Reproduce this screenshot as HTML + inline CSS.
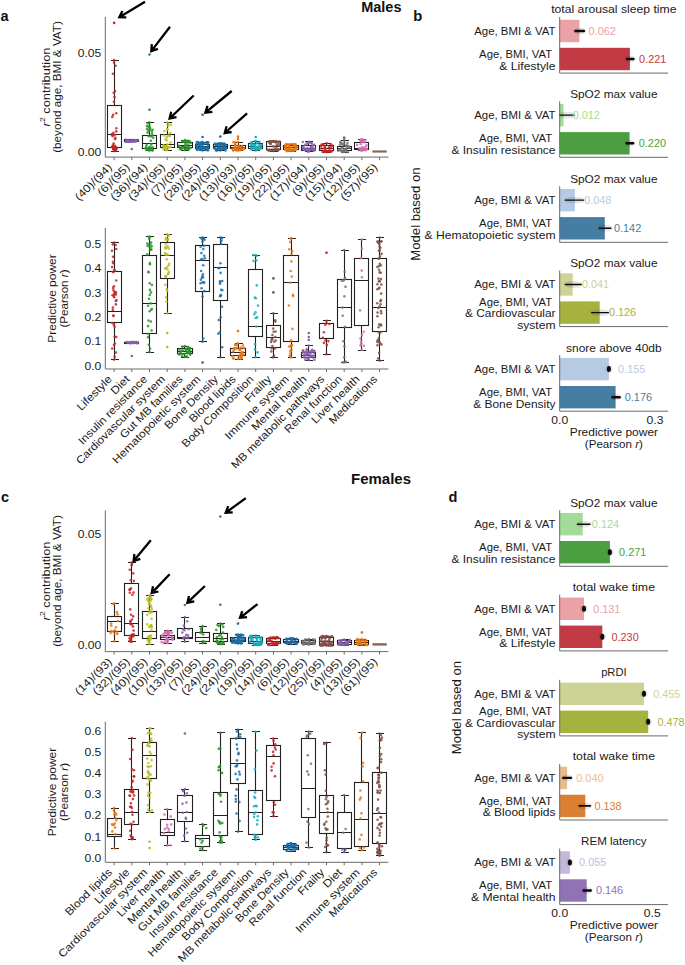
<!DOCTYPE html><html><head><meta charset="utf-8"><style>html,body{margin:0;padding:0;background:#fff;width:685px;height:965px;overflow:hidden}svg{display:block;font-family:"Liberation Sans",sans-serif}</style></head><body><svg width="685" height="965" viewBox="0 0 685 965" font-family="Liberation Sans, sans-serif" fill="#1a1a1a">
<rect width="685" height="965" fill="#fff"/>
<g font-weight="bold" fill="#111">
<text x="0.5" y="21" font-size="14.5">a</text>
<text x="361.2" y="11.8" font-size="14.2" textLength="40.3" lengthAdjust="spacingAndGlyphs">Males</text>
<text x="413.2" y="20.6" font-size="14.8">b</text>
<text x="1" y="502" font-size="14.5">c</text>
<text x="351" y="484.4" font-size="14.2" textLength="60.0" lengthAdjust="spacingAndGlyphs">Females</text>
<text x="448.6" y="501.8" font-size="14.6">d</text>
</g>
<path d="M105.3 17.0V157.1H388.4" fill="none" stroke="#6a6a6a" stroke-width="1"/>
<path d="M114.1 157.1v3" stroke="#6a6a6a" stroke-width="1"/>
<path d="M131.8 157.1v3" stroke="#6a6a6a" stroke-width="1"/>
<path d="M149.5 157.1v3" stroke="#6a6a6a" stroke-width="1"/>
<path d="M167.2 157.1v3" stroke="#6a6a6a" stroke-width="1"/>
<path d="M184.9 157.1v3" stroke="#6a6a6a" stroke-width="1"/>
<path d="M202.6 157.1v3" stroke="#6a6a6a" stroke-width="1"/>
<path d="M220.3 157.1v3" stroke="#6a6a6a" stroke-width="1"/>
<path d="M238.0 157.1v3" stroke="#6a6a6a" stroke-width="1"/>
<path d="M255.7 157.1v3" stroke="#6a6a6a" stroke-width="1"/>
<path d="M273.4 157.1v3" stroke="#6a6a6a" stroke-width="1"/>
<path d="M291.1 157.1v3" stroke="#6a6a6a" stroke-width="1"/>
<path d="M308.8 157.1v3" stroke="#6a6a6a" stroke-width="1"/>
<path d="M326.5 157.1v3" stroke="#6a6a6a" stroke-width="1"/>
<path d="M344.2 157.1v3" stroke="#6a6a6a" stroke-width="1"/>
<path d="M361.9 157.1v3" stroke="#6a6a6a" stroke-width="1"/>
<path d="M379.6 157.1v3" stroke="#6a6a6a" stroke-width="1"/>
<text x="101.30" y="155.50" font-size="10.90" text-anchor="end" textLength="23.60" lengthAdjust="spacingAndGlyphs">0.00</text>
<text x="101.30" y="57.10" font-size="10.90" text-anchor="end" textLength="23.60" lengthAdjust="spacingAndGlyphs">0.05</text>
<g fill="none" stroke="#222222" stroke-width="1.1"><rect x="107.5" y="105.5" width="14.0" height="42.0"/><path d="M107.5 134.5H121.5M114.5 105.5V60.5M111.0 60.5H119.0M114.5 147.5V151.5M111.0 151.5H119.0"/></g>
<circle cx="114.9" cy="145.7" r="1.3" fill="#c42324" fill-opacity="0.85"/><circle cx="113.5" cy="132.8" r="1.3" fill="#c42324" fill-opacity="0.85"/><circle cx="111.9" cy="134.1" r="1.3" fill="#c42324" fill-opacity="0.85"/><circle cx="112.2" cy="146.9" r="1.3" fill="#c42324" fill-opacity="0.85"/><circle cx="112.3" cy="116.9" r="1.3" fill="#c42324" fill-opacity="0.85"/><circle cx="116.3" cy="128.3" r="1.3" fill="#c42324" fill-opacity="0.85"/><circle cx="116.4" cy="148.8" r="1.3" fill="#c42324" fill-opacity="0.85"/><circle cx="113.1" cy="114.9" r="1.3" fill="#c42324" fill-opacity="0.85"/><circle cx="113.2" cy="146.3" r="1.3" fill="#c42324" fill-opacity="0.85"/><circle cx="114.5" cy="97.1" r="1.3" fill="#c42324" fill-opacity="0.85"/><circle cx="114.4" cy="148.7" r="1.3" fill="#c42324" fill-opacity="0.85"/><circle cx="112.7" cy="147.1" r="1.3" fill="#c42324" fill-opacity="0.85"/><circle cx="113.3" cy="148.9" r="1.3" fill="#c42324" fill-opacity="0.85"/><circle cx="113.2" cy="149.0" r="1.3" fill="#c42324" fill-opacity="0.85"/><circle cx="112.9" cy="73.7" r="1.3" fill="#c42324" fill-opacity="0.85"/><circle cx="115.9" cy="149.3" r="1.3" fill="#c42324" fill-opacity="0.85"/><circle cx="116.5" cy="148.4" r="1.3" fill="#c42324" fill-opacity="0.85"/><circle cx="115.4" cy="137.8" r="1.3" fill="#c42324" fill-opacity="0.85"/><circle cx="111.9" cy="134.9" r="1.3" fill="#c42324" fill-opacity="0.85"/><circle cx="114.5" cy="150.2" r="1.3" fill="#c42324" fill-opacity="0.85"/><circle cx="115.1" cy="91.1" r="1.3" fill="#c42324" fill-opacity="0.85"/><circle cx="113.9" cy="149.5" r="1.3" fill="#c42324" fill-opacity="0.85"/><circle cx="114.0" cy="62.6" r="1.3" fill="#c42324" fill-opacity="0.85"/><circle cx="115.1" cy="147.6" r="1.3" fill="#c42324" fill-opacity="0.85"/><circle cx="115.7" cy="151.0" r="1.3" fill="#c42324" fill-opacity="0.85"/><circle cx="115.0" cy="139.1" r="1.3" fill="#c42324" fill-opacity="0.85"/><circle cx="112.6" cy="136.1" r="1.3" fill="#c42324" fill-opacity="0.85"/><circle cx="115.4" cy="147.1" r="1.3" fill="#c42324" fill-opacity="0.85"/><circle cx="113.6" cy="143.5" r="1.3" fill="#c42324" fill-opacity="0.85"/><circle cx="113.9" cy="101.7" r="1.3" fill="#c42324" fill-opacity="0.85"/><circle cx="115.7" cy="150.6" r="1.3" fill="#c42324" fill-opacity="0.85"/><circle cx="113.7" cy="92.7" r="1.3" fill="#c42324" fill-opacity="0.85"/><circle cx="116.3" cy="113.2" r="1.3" fill="#c42324" fill-opacity="0.85"/><circle cx="112.9" cy="145.2" r="1.3" fill="#c42324" fill-opacity="0.85"/><circle cx="114.6" cy="135.1" r="1.3" fill="#c42324" fill-opacity="0.85"/><circle cx="113.8" cy="147.4" r="1.3" fill="#c42324" fill-opacity="0.85"/><circle cx="116.3" cy="131.4" r="1.3" fill="#c42324" fill-opacity="0.85"/><circle cx="114.7" cy="149.3" r="1.3" fill="#c42324" fill-opacity="0.85"/><circle cx="116.1" cy="147.6" r="1.3" fill="#c42324" fill-opacity="0.85"/><circle cx="115.6" cy="65.8" r="1.3" fill="#c42324" fill-opacity="0.85"/><circle cx="114.1" cy="60.1" r="1.3" fill="#c42324" fill-opacity="0.85"/><circle cx="114.1" cy="151.0" r="1.3" fill="#c42324" fill-opacity="0.85"/>
<circle cx="114.1" cy="22.9" r="1.3" fill="#c42324"/>
<g fill="none" stroke="#222222" stroke-width="1.1"><rect x="124.5" y="139.5" width="14.0" height="2.0"/><path d="M124.5 140.5H138.5M131.5 139.5V140.5M128.0 140.5H136.0M131.5 141.5V141.5M128.0 141.5H136.0"/></g>
<circle cx="127.1" cy="141.4" r="1.3" fill="#885ead" fill-opacity="0.85"/><circle cx="126.6" cy="141.8" r="1.3" fill="#885ead" fill-opacity="0.85"/><circle cx="129.9" cy="141.7" r="1.3" fill="#885ead" fill-opacity="0.85"/><circle cx="127.7" cy="141.8" r="1.3" fill="#885ead" fill-opacity="0.85"/><circle cx="126.1" cy="141.4" r="1.3" fill="#885ead" fill-opacity="0.85"/><circle cx="127.6" cy="140.2" r="1.3" fill="#885ead" fill-opacity="0.85"/><circle cx="130.2" cy="141.5" r="1.3" fill="#885ead" fill-opacity="0.85"/><circle cx="137.8" cy="140.3" r="1.3" fill="#885ead" fill-opacity="0.85"/><circle cx="126.9" cy="141.2" r="1.3" fill="#885ead" fill-opacity="0.85"/><circle cx="129.0" cy="141.5" r="1.3" fill="#885ead" fill-opacity="0.85"/><circle cx="126.1" cy="139.9" r="1.3" fill="#885ead" fill-opacity="0.85"/><circle cx="127.6" cy="140.2" r="1.3" fill="#885ead" fill-opacity="0.85"/><circle cx="132.2" cy="141.8" r="1.3" fill="#885ead" fill-opacity="0.85"/><circle cx="134.2" cy="140.4" r="1.3" fill="#885ead" fill-opacity="0.85"/><circle cx="127.8" cy="141.4" r="1.3" fill="#885ead" fill-opacity="0.85"/><circle cx="135.2" cy="140.2" r="1.3" fill="#885ead" fill-opacity="0.85"/><circle cx="135.6" cy="141.6" r="1.3" fill="#885ead" fill-opacity="0.85"/><circle cx="135.5" cy="140.4" r="1.3" fill="#885ead" fill-opacity="0.85"/><circle cx="128.6" cy="140.3" r="1.3" fill="#885ead" fill-opacity="0.85"/><circle cx="126.2" cy="141.7" r="1.3" fill="#885ead" fill-opacity="0.85"/><circle cx="129.0" cy="141.6" r="1.3" fill="#885ead" fill-opacity="0.85"/><circle cx="131.2" cy="141.5" r="1.3" fill="#885ead" fill-opacity="0.85"/><circle cx="137.3" cy="140.5" r="1.3" fill="#885ead" fill-opacity="0.85"/><circle cx="128.6" cy="141.6" r="1.3" fill="#885ead" fill-opacity="0.85"/><circle cx="133.3" cy="141.7" r="1.3" fill="#885ead" fill-opacity="0.85"/><circle cx="131.6" cy="140.4" r="1.3" fill="#885ead" fill-opacity="0.85"/><circle cx="126.9" cy="141.6" r="1.3" fill="#885ead" fill-opacity="0.85"/><circle cx="135.2" cy="141.5" r="1.3" fill="#885ead" fill-opacity="0.85"/><circle cx="131.8" cy="140.5" r="1.3" fill="#885ead" fill-opacity="0.85"/><circle cx="131.8" cy="141.5" r="1.3" fill="#885ead" fill-opacity="0.85"/>
<circle cx="131.8" cy="149.0" r="1.3" fill="#885ead"/>
<g fill="none" stroke="#222222" stroke-width="1.1"><rect x="142.5" y="135.5" width="14.0" height="13.0"/><path d="M142.5 143.5H156.5M149.5 135.5V122.5M146.0 122.5H154.0M149.5 148.5V150.5M146.0 150.5H154.0"/></g>
<circle cx="147.0" cy="129.1" r="1.3" fill="#289328" fill-opacity="0.85"/><circle cx="151.9" cy="131.0" r="1.3" fill="#289328" fill-opacity="0.85"/><circle cx="148.7" cy="130.2" r="1.3" fill="#289328" fill-opacity="0.85"/><circle cx="146.9" cy="126.0" r="1.3" fill="#289328" fill-opacity="0.85"/><circle cx="152.8" cy="147.5" r="1.3" fill="#289328" fill-opacity="0.85"/><circle cx="152.1" cy="133.4" r="1.3" fill="#289328" fill-opacity="0.85"/><circle cx="148.3" cy="126.8" r="1.3" fill="#289328" fill-opacity="0.85"/><circle cx="145.6" cy="148.3" r="1.3" fill="#289328" fill-opacity="0.85"/><circle cx="149.7" cy="126.9" r="1.3" fill="#289328" fill-opacity="0.85"/><circle cx="152.5" cy="129.7" r="1.3" fill="#289328" fill-opacity="0.85"/><circle cx="147.5" cy="132.6" r="1.3" fill="#289328" fill-opacity="0.85"/><circle cx="150.2" cy="146.9" r="1.3" fill="#289328" fill-opacity="0.85"/><circle cx="146.6" cy="145.1" r="1.3" fill="#289328" fill-opacity="0.85"/><circle cx="149.2" cy="130.7" r="1.3" fill="#289328" fill-opacity="0.85"/><circle cx="148.9" cy="150.3" r="1.3" fill="#289328" fill-opacity="0.85"/><circle cx="149.8" cy="128.8" r="1.3" fill="#289328" fill-opacity="0.85"/><circle cx="149.1" cy="148.0" r="1.3" fill="#289328" fill-opacity="0.85"/><circle cx="151.9" cy="148.0" r="1.3" fill="#289328" fill-opacity="0.85"/><circle cx="151.3" cy="144.4" r="1.3" fill="#289328" fill-opacity="0.85"/><circle cx="149.7" cy="148.8" r="1.3" fill="#289328" fill-opacity="0.85"/><circle cx="146.4" cy="150.0" r="1.3" fill="#289328" fill-opacity="0.85"/><circle cx="147.7" cy="148.6" r="1.3" fill="#289328" fill-opacity="0.85"/><circle cx="150.0" cy="128.8" r="1.3" fill="#289328" fill-opacity="0.85"/><circle cx="149.1" cy="123.5" r="1.3" fill="#289328" fill-opacity="0.85"/><circle cx="149.6" cy="149.3" r="1.3" fill="#289328" fill-opacity="0.85"/><circle cx="149.8" cy="149.1" r="1.3" fill="#289328" fill-opacity="0.85"/><circle cx="151.1" cy="136.5" r="1.3" fill="#289328" fill-opacity="0.85"/><circle cx="147.6" cy="123.1" r="1.3" fill="#289328" fill-opacity="0.85"/><circle cx="152.3" cy="150.4" r="1.3" fill="#289328" fill-opacity="0.85"/><circle cx="149.1" cy="147.6" r="1.3" fill="#289328" fill-opacity="0.85"/><circle cx="146.1" cy="146.9" r="1.3" fill="#289328" fill-opacity="0.85"/><circle cx="152.7" cy="150.0" r="1.3" fill="#289328" fill-opacity="0.85"/><circle cx="150.8" cy="140.8" r="1.3" fill="#289328" fill-opacity="0.85"/><circle cx="153.3" cy="137.7" r="1.3" fill="#289328" fill-opacity="0.85"/><circle cx="148.7" cy="136.3" r="1.3" fill="#289328" fill-opacity="0.85"/><circle cx="152.2" cy="135.5" r="1.3" fill="#289328" fill-opacity="0.85"/><circle cx="149.5" cy="122.4" r="1.3" fill="#289328" fill-opacity="0.85"/><circle cx="149.5" cy="150.5" r="1.3" fill="#289328" fill-opacity="0.85"/>
<circle cx="149.5" cy="109.7" r="1.3" fill="#289328"/>
<circle cx="149.5" cy="54.5" r="1.3" fill="#289328"/>
<g fill="none" stroke="#222222" stroke-width="1.1"><rect x="160.5" y="134.5" width="14.0" height="13.0"/><path d="M160.5 144.5H174.5M167.5 134.5V122.5M164.0 122.5H172.0M167.5 147.5V150.5M164.0 150.5H172.0"/></g>
<circle cx="167.4" cy="144.2" r="1.3" fill="#bcbd22" fill-opacity="0.85"/><circle cx="165.8" cy="146.6" r="1.3" fill="#bcbd22" fill-opacity="0.85"/><circle cx="167.7" cy="147.5" r="1.3" fill="#bcbd22" fill-opacity="0.85"/><circle cx="165.9" cy="147.4" r="1.3" fill="#bcbd22" fill-opacity="0.85"/><circle cx="163.7" cy="148.7" r="1.3" fill="#bcbd22" fill-opacity="0.85"/><circle cx="171.0" cy="124.7" r="1.3" fill="#bcbd22" fill-opacity="0.85"/><circle cx="163.5" cy="146.0" r="1.3" fill="#bcbd22" fill-opacity="0.85"/><circle cx="164.3" cy="131.0" r="1.3" fill="#bcbd22" fill-opacity="0.85"/><circle cx="169.8" cy="136.1" r="1.3" fill="#bcbd22" fill-opacity="0.85"/><circle cx="170.6" cy="146.9" r="1.3" fill="#bcbd22" fill-opacity="0.85"/><circle cx="163.9" cy="149.2" r="1.3" fill="#bcbd22" fill-opacity="0.85"/><circle cx="166.6" cy="140.4" r="1.3" fill="#bcbd22" fill-opacity="0.85"/><circle cx="168.3" cy="135.6" r="1.3" fill="#bcbd22" fill-opacity="0.85"/><circle cx="170.1" cy="133.2" r="1.3" fill="#bcbd22" fill-opacity="0.85"/><circle cx="166.9" cy="137.1" r="1.3" fill="#bcbd22" fill-opacity="0.85"/><circle cx="170.6" cy="142.6" r="1.3" fill="#bcbd22" fill-opacity="0.85"/><circle cx="167.4" cy="147.0" r="1.3" fill="#bcbd22" fill-opacity="0.85"/><circle cx="164.5" cy="147.1" r="1.3" fill="#bcbd22" fill-opacity="0.85"/><circle cx="165.7" cy="146.5" r="1.3" fill="#bcbd22" fill-opacity="0.85"/><circle cx="165.5" cy="139.1" r="1.3" fill="#bcbd22" fill-opacity="0.85"/><circle cx="166.0" cy="147.9" r="1.3" fill="#bcbd22" fill-opacity="0.85"/><circle cx="163.4" cy="146.1" r="1.3" fill="#bcbd22" fill-opacity="0.85"/><circle cx="164.7" cy="148.8" r="1.3" fill="#bcbd22" fill-opacity="0.85"/><circle cx="164.1" cy="135.6" r="1.3" fill="#bcbd22" fill-opacity="0.85"/><circle cx="167.2" cy="129.0" r="1.3" fill="#bcbd22" fill-opacity="0.85"/><circle cx="167.3" cy="129.5" r="1.3" fill="#bcbd22" fill-opacity="0.85"/><circle cx="166.0" cy="150.0" r="1.3" fill="#bcbd22" fill-opacity="0.85"/><circle cx="168.3" cy="125.7" r="1.3" fill="#bcbd22" fill-opacity="0.85"/><circle cx="163.7" cy="145.2" r="1.3" fill="#bcbd22" fill-opacity="0.85"/><circle cx="169.2" cy="147.3" r="1.3" fill="#bcbd22" fill-opacity="0.85"/><circle cx="163.9" cy="146.8" r="1.3" fill="#bcbd22" fill-opacity="0.85"/><circle cx="168.6" cy="123.8" r="1.3" fill="#bcbd22" fill-opacity="0.85"/><circle cx="165.6" cy="146.2" r="1.3" fill="#bcbd22" fill-opacity="0.85"/><circle cx="166.8" cy="146.8" r="1.3" fill="#bcbd22" fill-opacity="0.85"/><circle cx="167.2" cy="122.2" r="1.3" fill="#bcbd22" fill-opacity="0.85"/><circle cx="167.2" cy="150.0" r="1.3" fill="#bcbd22" fill-opacity="0.85"/>
<g fill="none" stroke="#222222" stroke-width="1.1"><rect x="177.5" y="142.5" width="15.0" height="5.0"/><path d="M177.5 145.5H192.5M184.5 142.5V140.5M181.0 140.5H189.0M184.5 147.5V150.5M181.0 150.5H189.0"/></g>
<circle cx="190.6" cy="142.9" r="1.3" fill="#289328" fill-opacity="0.85"/><circle cx="190.5" cy="148.0" r="1.3" fill="#289328" fill-opacity="0.85"/><circle cx="178.9" cy="146.6" r="1.3" fill="#289328" fill-opacity="0.85"/><circle cx="185.0" cy="146.0" r="1.3" fill="#289328" fill-opacity="0.85"/><circle cx="179.0" cy="145.9" r="1.3" fill="#289328" fill-opacity="0.85"/><circle cx="183.7" cy="147.3" r="1.3" fill="#289328" fill-opacity="0.85"/><circle cx="182.6" cy="147.4" r="1.3" fill="#289328" fill-opacity="0.85"/><circle cx="185.3" cy="145.5" r="1.3" fill="#289328" fill-opacity="0.85"/><circle cx="187.5" cy="140.9" r="1.3" fill="#289328" fill-opacity="0.85"/><circle cx="182.8" cy="141.6" r="1.3" fill="#289328" fill-opacity="0.85"/><circle cx="187.6" cy="142.2" r="1.3" fill="#289328" fill-opacity="0.85"/><circle cx="188.9" cy="147.5" r="1.3" fill="#289328" fill-opacity="0.85"/><circle cx="187.7" cy="141.0" r="1.3" fill="#289328" fill-opacity="0.85"/><circle cx="185.2" cy="142.2" r="1.3" fill="#289328" fill-opacity="0.85"/><circle cx="188.6" cy="149.6" r="1.3" fill="#289328" fill-opacity="0.85"/><circle cx="189.6" cy="141.1" r="1.3" fill="#289328" fill-opacity="0.85"/><circle cx="181.7" cy="149.2" r="1.3" fill="#289328" fill-opacity="0.85"/><circle cx="183.3" cy="147.2" r="1.3" fill="#289328" fill-opacity="0.85"/><circle cx="185.6" cy="143.9" r="1.3" fill="#289328" fill-opacity="0.85"/><circle cx="187.1" cy="149.0" r="1.3" fill="#289328" fill-opacity="0.85"/><circle cx="188.5" cy="147.4" r="1.3" fill="#289328" fill-opacity="0.85"/><circle cx="185.3" cy="148.7" r="1.3" fill="#289328" fill-opacity="0.85"/><circle cx="187.8" cy="147.6" r="1.3" fill="#289328" fill-opacity="0.85"/><circle cx="182.1" cy="147.3" r="1.3" fill="#289328" fill-opacity="0.85"/><circle cx="187.8" cy="147.9" r="1.3" fill="#289328" fill-opacity="0.85"/><circle cx="183.5" cy="141.3" r="1.3" fill="#289328" fill-opacity="0.85"/><circle cx="188.1" cy="144.9" r="1.3" fill="#289328" fill-opacity="0.85"/><circle cx="179.9" cy="149.1" r="1.3" fill="#289328" fill-opacity="0.85"/><circle cx="184.9" cy="140.0" r="1.3" fill="#289328" fill-opacity="0.85"/><circle cx="184.9" cy="150.0" r="1.3" fill="#289328" fill-opacity="0.85"/>
<g fill="none" stroke="#222222" stroke-width="1.1"><rect x="195.5" y="144.5" width="14.0" height="4.0"/><path d="M195.5 146.5H209.5M202.5 144.5V142.5M199.0 142.5H207.0M202.5 148.5V150.5M199.0 150.5H207.0"/></g>
<circle cx="205.5" cy="148.3" r="1.3" fill="#1c6da5" fill-opacity="0.85"/><circle cx="196.8" cy="147.0" r="1.3" fill="#1c6da5" fill-opacity="0.85"/><circle cx="204.7" cy="148.2" r="1.3" fill="#1c6da5" fill-opacity="0.85"/><circle cx="200.1" cy="149.9" r="1.3" fill="#1c6da5" fill-opacity="0.85"/><circle cx="202.2" cy="149.5" r="1.3" fill="#1c6da5" fill-opacity="0.85"/><circle cx="199.0" cy="145.1" r="1.3" fill="#1c6da5" fill-opacity="0.85"/><circle cx="196.8" cy="142.1" r="1.3" fill="#1c6da5" fill-opacity="0.85"/><circle cx="208.2" cy="145.6" r="1.3" fill="#1c6da5" fill-opacity="0.85"/><circle cx="199.1" cy="148.2" r="1.3" fill="#1c6da5" fill-opacity="0.85"/><circle cx="203.6" cy="143.8" r="1.3" fill="#1c6da5" fill-opacity="0.85"/><circle cx="208.0" cy="147.2" r="1.3" fill="#1c6da5" fill-opacity="0.85"/><circle cx="202.7" cy="145.6" r="1.3" fill="#1c6da5" fill-opacity="0.85"/><circle cx="199.4" cy="142.7" r="1.3" fill="#1c6da5" fill-opacity="0.85"/><circle cx="196.9" cy="143.2" r="1.3" fill="#1c6da5" fill-opacity="0.85"/><circle cx="202.0" cy="147.4" r="1.3" fill="#1c6da5" fill-opacity="0.85"/><circle cx="200.7" cy="148.5" r="1.3" fill="#1c6da5" fill-opacity="0.85"/><circle cx="196.6" cy="145.4" r="1.3" fill="#1c6da5" fill-opacity="0.85"/><circle cx="198.1" cy="142.4" r="1.3" fill="#1c6da5" fill-opacity="0.85"/><circle cx="207.4" cy="142.7" r="1.3" fill="#1c6da5" fill-opacity="0.85"/><circle cx="201.3" cy="147.9" r="1.3" fill="#1c6da5" fill-opacity="0.85"/><circle cx="200.9" cy="142.9" r="1.3" fill="#1c6da5" fill-opacity="0.85"/><circle cx="197.2" cy="148.2" r="1.3" fill="#1c6da5" fill-opacity="0.85"/><circle cx="200.0" cy="145.5" r="1.3" fill="#1c6da5" fill-opacity="0.85"/><circle cx="199.8" cy="143.7" r="1.3" fill="#1c6da5" fill-opacity="0.85"/><circle cx="201.1" cy="149.0" r="1.3" fill="#1c6da5" fill-opacity="0.85"/><circle cx="206.4" cy="142.3" r="1.3" fill="#1c6da5" fill-opacity="0.85"/><circle cx="207.9" cy="150.3" r="1.3" fill="#1c6da5" fill-opacity="0.85"/><circle cx="197.2" cy="150.0" r="1.3" fill="#1c6da5" fill-opacity="0.85"/><circle cx="205.6" cy="149.5" r="1.3" fill="#1c6da5" fill-opacity="0.85"/><circle cx="197.2" cy="149.2" r="1.3" fill="#1c6da5" fill-opacity="0.85"/><circle cx="202.3" cy="144.0" r="1.3" fill="#1c6da5" fill-opacity="0.85"/><circle cx="205.5" cy="148.1" r="1.3" fill="#1c6da5" fill-opacity="0.85"/><circle cx="204.5" cy="143.7" r="1.3" fill="#1c6da5" fill-opacity="0.85"/><circle cx="201.3" cy="147.1" r="1.3" fill="#1c6da5" fill-opacity="0.85"/><circle cx="199.1" cy="148.5" r="1.3" fill="#1c6da5" fill-opacity="0.85"/><circle cx="199.3" cy="143.2" r="1.3" fill="#1c6da5" fill-opacity="0.85"/><circle cx="202.0" cy="142.0" r="1.3" fill="#1c6da5" fill-opacity="0.85"/><circle cx="197.7" cy="148.4" r="1.3" fill="#1c6da5" fill-opacity="0.85"/><circle cx="199.5" cy="148.6" r="1.3" fill="#1c6da5" fill-opacity="0.85"/><circle cx="207.3" cy="147.0" r="1.3" fill="#1c6da5" fill-opacity="0.85"/><circle cx="201.6" cy="149.4" r="1.3" fill="#1c6da5" fill-opacity="0.85"/><circle cx="200.7" cy="149.4" r="1.3" fill="#1c6da5" fill-opacity="0.85"/><circle cx="208.2" cy="148.2" r="1.3" fill="#1c6da5" fill-opacity="0.85"/><circle cx="204.2" cy="147.3" r="1.3" fill="#1c6da5" fill-opacity="0.85"/><circle cx="199.9" cy="143.8" r="1.3" fill="#1c6da5" fill-opacity="0.85"/><circle cx="202.0" cy="147.8" r="1.3" fill="#1c6da5" fill-opacity="0.85"/><circle cx="207.1" cy="142.3" r="1.3" fill="#1c6da5" fill-opacity="0.85"/><circle cx="205.1" cy="148.7" r="1.3" fill="#1c6da5" fill-opacity="0.85"/><circle cx="203.7" cy="143.2" r="1.3" fill="#1c6da5" fill-opacity="0.85"/><circle cx="207.7" cy="147.8" r="1.3" fill="#1c6da5" fill-opacity="0.85"/><circle cx="208.3" cy="142.3" r="1.3" fill="#1c6da5" fill-opacity="0.85"/><circle cx="198.5" cy="148.6" r="1.3" fill="#1c6da5" fill-opacity="0.85"/><circle cx="207.9" cy="149.9" r="1.3" fill="#1c6da5" fill-opacity="0.85"/><circle cx="205.8" cy="149.9" r="1.3" fill="#1c6da5" fill-opacity="0.85"/><circle cx="197.1" cy="147.1" r="1.3" fill="#1c6da5" fill-opacity="0.85"/><circle cx="207.7" cy="143.8" r="1.3" fill="#1c6da5" fill-opacity="0.85"/><circle cx="202.6" cy="142.0" r="1.3" fill="#1c6da5" fill-opacity="0.85"/><circle cx="202.6" cy="150.5" r="1.3" fill="#1c6da5" fill-opacity="0.85"/>
<circle cx="202.6" cy="137.0" r="1.3" fill="#1c6da5"/>
<circle cx="202.6" cy="114.7" r="1.3" fill="#1c6da5"/>
<g fill="none" stroke="#222222" stroke-width="1.1"><rect x="213.5" y="144.5" width="14.0" height="4.0"/><path d="M213.5 146.5H227.5M220.5 144.5V143.5M217.0 143.5H225.0M220.5 148.5V150.5M217.0 150.5H225.0"/></g>
<circle cx="215.8" cy="149.1" r="1.3" fill="#1c6da5" fill-opacity="0.85"/><circle cx="222.7" cy="146.6" r="1.3" fill="#1c6da5" fill-opacity="0.85"/><circle cx="220.6" cy="148.5" r="1.3" fill="#1c6da5" fill-opacity="0.85"/><circle cx="217.0" cy="149.3" r="1.3" fill="#1c6da5" fill-opacity="0.85"/><circle cx="217.9" cy="148.5" r="1.3" fill="#1c6da5" fill-opacity="0.85"/><circle cx="222.0" cy="144.8" r="1.3" fill="#1c6da5" fill-opacity="0.85"/><circle cx="217.1" cy="143.9" r="1.3" fill="#1c6da5" fill-opacity="0.85"/><circle cx="222.8" cy="144.8" r="1.3" fill="#1c6da5" fill-opacity="0.85"/><circle cx="220.3" cy="148.5" r="1.3" fill="#1c6da5" fill-opacity="0.85"/><circle cx="217.4" cy="149.3" r="1.3" fill="#1c6da5" fill-opacity="0.85"/><circle cx="217.0" cy="150.4" r="1.3" fill="#1c6da5" fill-opacity="0.85"/><circle cx="219.4" cy="147.9" r="1.3" fill="#1c6da5" fill-opacity="0.85"/><circle cx="223.9" cy="148.9" r="1.3" fill="#1c6da5" fill-opacity="0.85"/><circle cx="216.8" cy="149.5" r="1.3" fill="#1c6da5" fill-opacity="0.85"/><circle cx="224.1" cy="144.1" r="1.3" fill="#1c6da5" fill-opacity="0.85"/><circle cx="223.4" cy="148.2" r="1.3" fill="#1c6da5" fill-opacity="0.85"/><circle cx="220.3" cy="144.8" r="1.3" fill="#1c6da5" fill-opacity="0.85"/><circle cx="219.3" cy="148.2" r="1.3" fill="#1c6da5" fill-opacity="0.85"/><circle cx="216.1" cy="150.4" r="1.3" fill="#1c6da5" fill-opacity="0.85"/><circle cx="226.0" cy="148.2" r="1.3" fill="#1c6da5" fill-opacity="0.85"/><circle cx="215.0" cy="148.5" r="1.3" fill="#1c6da5" fill-opacity="0.85"/><circle cx="224.9" cy="145.2" r="1.3" fill="#1c6da5" fill-opacity="0.85"/><circle cx="225.5" cy="150.5" r="1.3" fill="#1c6da5" fill-opacity="0.85"/><circle cx="225.5" cy="148.3" r="1.3" fill="#1c6da5" fill-opacity="0.85"/><circle cx="222.3" cy="148.6" r="1.3" fill="#1c6da5" fill-opacity="0.85"/><circle cx="218.3" cy="147.7" r="1.3" fill="#1c6da5" fill-opacity="0.85"/><circle cx="217.7" cy="148.5" r="1.3" fill="#1c6da5" fill-opacity="0.85"/><circle cx="215.8" cy="144.8" r="1.3" fill="#1c6da5" fill-opacity="0.85"/><circle cx="218.6" cy="144.2" r="1.3" fill="#1c6da5" fill-opacity="0.85"/><circle cx="219.5" cy="143.4" r="1.3" fill="#1c6da5" fill-opacity="0.85"/><circle cx="218.8" cy="147.4" r="1.3" fill="#1c6da5" fill-opacity="0.85"/><circle cx="218.7" cy="144.2" r="1.3" fill="#1c6da5" fill-opacity="0.85"/><circle cx="219.2" cy="144.5" r="1.3" fill="#1c6da5" fill-opacity="0.85"/><circle cx="214.8" cy="143.5" r="1.3" fill="#1c6da5" fill-opacity="0.85"/><circle cx="225.4" cy="148.5" r="1.3" fill="#1c6da5" fill-opacity="0.85"/><circle cx="225.1" cy="146.1" r="1.3" fill="#1c6da5" fill-opacity="0.85"/><circle cx="225.8" cy="148.1" r="1.3" fill="#1c6da5" fill-opacity="0.85"/><circle cx="222.9" cy="149.0" r="1.3" fill="#1c6da5" fill-opacity="0.85"/><circle cx="214.4" cy="148.1" r="1.3" fill="#1c6da5" fill-opacity="0.85"/><circle cx="221.9" cy="143.3" r="1.3" fill="#1c6da5" fill-opacity="0.85"/><circle cx="217.1" cy="144.5" r="1.3" fill="#1c6da5" fill-opacity="0.85"/><circle cx="225.8" cy="144.8" r="1.3" fill="#1c6da5" fill-opacity="0.85"/><circle cx="219.5" cy="148.1" r="1.3" fill="#1c6da5" fill-opacity="0.85"/><circle cx="216.5" cy="145.0" r="1.3" fill="#1c6da5" fill-opacity="0.85"/><circle cx="224.2" cy="143.5" r="1.3" fill="#1c6da5" fill-opacity="0.85"/><circle cx="218.2" cy="143.7" r="1.3" fill="#1c6da5" fill-opacity="0.85"/><circle cx="223.7" cy="147.8" r="1.3" fill="#1c6da5" fill-opacity="0.85"/><circle cx="223.3" cy="148.2" r="1.3" fill="#1c6da5" fill-opacity="0.85"/><circle cx="220.3" cy="143.2" r="1.3" fill="#1c6da5" fill-opacity="0.85"/><circle cx="220.3" cy="150.5" r="1.3" fill="#1c6da5" fill-opacity="0.85"/>
<circle cx="220.3" cy="136.6" r="1.3" fill="#1c6da5"/>
<g fill="none" stroke="#222222" stroke-width="1.1"><rect x="230.5" y="145.5" width="15.0" height="3.0"/><path d="M230.5 147.5H245.5M238.5 145.5V142.5M235.0 142.5H243.0M238.5 148.5V150.5M235.0 150.5H243.0"/></g>
<circle cx="232.4" cy="148.7" r="1.3" fill="#ea740c" fill-opacity="0.85"/><circle cx="243.8" cy="149.3" r="1.3" fill="#ea740c" fill-opacity="0.85"/><circle cx="235.2" cy="142.0" r="1.3" fill="#ea740c" fill-opacity="0.85"/><circle cx="238.0" cy="148.6" r="1.3" fill="#ea740c" fill-opacity="0.85"/><circle cx="234.8" cy="149.5" r="1.3" fill="#ea740c" fill-opacity="0.85"/><circle cx="240.1" cy="147.1" r="1.3" fill="#ea740c" fill-opacity="0.85"/><circle cx="240.0" cy="150.2" r="1.3" fill="#ea740c" fill-opacity="0.85"/><circle cx="235.5" cy="146.1" r="1.3" fill="#ea740c" fill-opacity="0.85"/><circle cx="240.9" cy="149.4" r="1.3" fill="#ea740c" fill-opacity="0.85"/><circle cx="234.9" cy="148.4" r="1.3" fill="#ea740c" fill-opacity="0.85"/><circle cx="238.9" cy="145.9" r="1.3" fill="#ea740c" fill-opacity="0.85"/><circle cx="243.9" cy="148.0" r="1.3" fill="#ea740c" fill-opacity="0.85"/><circle cx="241.7" cy="149.1" r="1.3" fill="#ea740c" fill-opacity="0.85"/><circle cx="233.2" cy="150.5" r="1.3" fill="#ea740c" fill-opacity="0.85"/><circle cx="242.1" cy="146.2" r="1.3" fill="#ea740c" fill-opacity="0.85"/><circle cx="235.5" cy="145.1" r="1.3" fill="#ea740c" fill-opacity="0.85"/><circle cx="243.7" cy="148.5" r="1.3" fill="#ea740c" fill-opacity="0.85"/><circle cx="236.5" cy="150.4" r="1.3" fill="#ea740c" fill-opacity="0.85"/><circle cx="235.1" cy="143.8" r="1.3" fill="#ea740c" fill-opacity="0.85"/><circle cx="233.3" cy="142.2" r="1.3" fill="#ea740c" fill-opacity="0.85"/><circle cx="234.6" cy="149.8" r="1.3" fill="#ea740c" fill-opacity="0.85"/><circle cx="234.5" cy="148.6" r="1.3" fill="#ea740c" fill-opacity="0.85"/><circle cx="239.8" cy="147.2" r="1.3" fill="#ea740c" fill-opacity="0.85"/><circle cx="235.9" cy="148.7" r="1.3" fill="#ea740c" fill-opacity="0.85"/><circle cx="235.7" cy="149.0" r="1.3" fill="#ea740c" fill-opacity="0.85"/><circle cx="238.6" cy="146.3" r="1.3" fill="#ea740c" fill-opacity="0.85"/><circle cx="236.7" cy="148.6" r="1.3" fill="#ea740c" fill-opacity="0.85"/><circle cx="233.1" cy="149.9" r="1.3" fill="#ea740c" fill-opacity="0.85"/><circle cx="238.0" cy="142.0" r="1.3" fill="#ea740c" fill-opacity="0.85"/><circle cx="238.0" cy="150.5" r="1.3" fill="#ea740c" fill-opacity="0.85"/>
<circle cx="238.0" cy="136.6" r="1.3" fill="#ea740c"/>
<circle cx="238.0" cy="139.0" r="1.3" fill="#ea740c"/>
<g fill="none" stroke="#222222" stroke-width="1.1"><rect x="248.5" y="143.5" width="14.0" height="5.0"/><path d="M248.5 146.5H262.5M255.5 143.5V141.5M252.0 141.5H260.0M255.5 148.5V150.5M252.0 150.5H260.0"/></g>
<circle cx="254.6" cy="146.0" r="1.3" fill="#15aebe" fill-opacity="0.85"/><circle cx="261.1" cy="148.1" r="1.3" fill="#15aebe" fill-opacity="0.85"/><circle cx="254.0" cy="146.8" r="1.3" fill="#15aebe" fill-opacity="0.85"/><circle cx="261.7" cy="144.7" r="1.3" fill="#15aebe" fill-opacity="0.85"/><circle cx="258.4" cy="148.5" r="1.3" fill="#15aebe" fill-opacity="0.85"/><circle cx="260.5" cy="148.8" r="1.3" fill="#15aebe" fill-opacity="0.85"/><circle cx="254.6" cy="145.1" r="1.3" fill="#15aebe" fill-opacity="0.85"/><circle cx="251.6" cy="142.4" r="1.3" fill="#15aebe" fill-opacity="0.85"/><circle cx="257.4" cy="146.9" r="1.3" fill="#15aebe" fill-opacity="0.85"/><circle cx="257.2" cy="143.4" r="1.3" fill="#15aebe" fill-opacity="0.85"/><circle cx="251.4" cy="147.2" r="1.3" fill="#15aebe" fill-opacity="0.85"/><circle cx="260.8" cy="147.1" r="1.3" fill="#15aebe" fill-opacity="0.85"/><circle cx="259.4" cy="147.3" r="1.3" fill="#15aebe" fill-opacity="0.85"/><circle cx="251.2" cy="143.1" r="1.3" fill="#15aebe" fill-opacity="0.85"/><circle cx="255.5" cy="141.1" r="1.3" fill="#15aebe" fill-opacity="0.85"/><circle cx="254.4" cy="144.2" r="1.3" fill="#15aebe" fill-opacity="0.85"/><circle cx="259.6" cy="142.0" r="1.3" fill="#15aebe" fill-opacity="0.85"/><circle cx="252.4" cy="145.3" r="1.3" fill="#15aebe" fill-opacity="0.85"/><circle cx="259.6" cy="144.9" r="1.3" fill="#15aebe" fill-opacity="0.85"/><circle cx="254.5" cy="148.4" r="1.3" fill="#15aebe" fill-opacity="0.85"/><circle cx="251.2" cy="149.5" r="1.3" fill="#15aebe" fill-opacity="0.85"/><circle cx="260.5" cy="145.8" r="1.3" fill="#15aebe" fill-opacity="0.85"/><circle cx="258.8" cy="146.8" r="1.3" fill="#15aebe" fill-opacity="0.85"/><circle cx="251.1" cy="144.9" r="1.3" fill="#15aebe" fill-opacity="0.85"/><circle cx="257.2" cy="149.7" r="1.3" fill="#15aebe" fill-opacity="0.85"/><circle cx="256.7" cy="147.6" r="1.3" fill="#15aebe" fill-opacity="0.85"/><circle cx="255.1" cy="146.2" r="1.3" fill="#15aebe" fill-opacity="0.85"/><circle cx="257.1" cy="148.8" r="1.3" fill="#15aebe" fill-opacity="0.85"/><circle cx="258.9" cy="148.4" r="1.3" fill="#15aebe" fill-opacity="0.85"/><circle cx="251.9" cy="142.4" r="1.3" fill="#15aebe" fill-opacity="0.85"/><circle cx="251.2" cy="148.7" r="1.3" fill="#15aebe" fill-opacity="0.85"/><circle cx="255.0" cy="148.7" r="1.3" fill="#15aebe" fill-opacity="0.85"/><circle cx="255.7" cy="141.0" r="1.3" fill="#15aebe" fill-opacity="0.85"/><circle cx="255.7" cy="150.5" r="1.3" fill="#15aebe" fill-opacity="0.85"/>
<circle cx="255.7" cy="137.0" r="1.3" fill="#15aebe"/>
<g fill="none" stroke="#222222" stroke-width="1.1"><rect x="266.5" y="141.5" width="14.0" height="8.0"/><path d="M266.5 146.5H280.5M273.5 141.5V141.5M270.0 141.5H278.0M273.5 149.5V151.5M270.0 151.5H278.0"/></g>
<circle cx="275.0" cy="149.8" r="1.3" fill="#804f45" fill-opacity="0.85"/><circle cx="276.7" cy="145.0" r="1.3" fill="#804f45" fill-opacity="0.85"/><circle cx="273.4" cy="149.8" r="1.3" fill="#804f45" fill-opacity="0.85"/><circle cx="269.0" cy="142.4" r="1.3" fill="#804f45" fill-opacity="0.85"/><circle cx="276.2" cy="141.0" r="1.3" fill="#804f45" fill-opacity="0.85"/><circle cx="279.2" cy="141.6" r="1.3" fill="#804f45" fill-opacity="0.85"/><circle cx="278.4" cy="142.4" r="1.3" fill="#804f45" fill-opacity="0.85"/><circle cx="278.6" cy="144.4" r="1.3" fill="#804f45" fill-opacity="0.85"/><circle cx="276.5" cy="148.4" r="1.3" fill="#804f45" fill-opacity="0.85"/><circle cx="270.7" cy="143.1" r="1.3" fill="#804f45" fill-opacity="0.85"/><circle cx="273.4" cy="141.7" r="1.3" fill="#804f45" fill-opacity="0.85"/><circle cx="270.5" cy="141.6" r="1.3" fill="#804f45" fill-opacity="0.85"/><circle cx="267.8" cy="150.1" r="1.3" fill="#804f45" fill-opacity="0.85"/><circle cx="278.6" cy="149.3" r="1.3" fill="#804f45" fill-opacity="0.85"/><circle cx="269.4" cy="150.9" r="1.3" fill="#804f45" fill-opacity="0.85"/><circle cx="273.8" cy="141.7" r="1.3" fill="#804f45" fill-opacity="0.85"/><circle cx="277.9" cy="150.2" r="1.3" fill="#804f45" fill-opacity="0.85"/><circle cx="278.0" cy="150.5" r="1.3" fill="#804f45" fill-opacity="0.85"/><circle cx="274.9" cy="141.9" r="1.3" fill="#804f45" fill-opacity="0.85"/><circle cx="270.6" cy="144.3" r="1.3" fill="#804f45" fill-opacity="0.85"/><circle cx="271.7" cy="141.3" r="1.3" fill="#804f45" fill-opacity="0.85"/><circle cx="269.5" cy="141.4" r="1.3" fill="#804f45" fill-opacity="0.85"/><circle cx="277.2" cy="149.8" r="1.3" fill="#804f45" fill-opacity="0.85"/><circle cx="279.2" cy="146.0" r="1.3" fill="#804f45" fill-opacity="0.85"/><circle cx="271.1" cy="150.6" r="1.3" fill="#804f45" fill-opacity="0.85"/><circle cx="269.2" cy="149.7" r="1.3" fill="#804f45" fill-opacity="0.85"/><circle cx="273.5" cy="150.3" r="1.3" fill="#804f45" fill-opacity="0.85"/><circle cx="270.1" cy="141.7" r="1.3" fill="#804f45" fill-opacity="0.85"/><circle cx="267.4" cy="149.7" r="1.3" fill="#804f45" fill-opacity="0.85"/><circle cx="271.7" cy="149.5" r="1.3" fill="#804f45" fill-opacity="0.85"/><circle cx="274.5" cy="146.5" r="1.3" fill="#804f45" fill-opacity="0.85"/><circle cx="273.1" cy="146.2" r="1.3" fill="#804f45" fill-opacity="0.85"/><circle cx="270.3" cy="142.6" r="1.3" fill="#804f45" fill-opacity="0.85"/><circle cx="275.0" cy="149.6" r="1.3" fill="#804f45" fill-opacity="0.85"/><circle cx="272.2" cy="141.2" r="1.3" fill="#804f45" fill-opacity="0.85"/><circle cx="275.1" cy="149.7" r="1.3" fill="#804f45" fill-opacity="0.85"/><circle cx="275.1" cy="150.2" r="1.3" fill="#804f45" fill-opacity="0.85"/><circle cx="276.2" cy="142.6" r="1.3" fill="#804f45" fill-opacity="0.85"/><circle cx="273.4" cy="141.0" r="1.3" fill="#804f45" fill-opacity="0.85"/><circle cx="273.4" cy="151.0" r="1.3" fill="#804f45" fill-opacity="0.85"/>
<g fill="none" stroke="#222222" stroke-width="1.1"><rect x="283.5" y="145.5" width="15.0" height="4.0"/><path d="M283.5 147.5H298.5M291.5 145.5V144.5M288.0 144.5H296.0M291.5 149.5V151.5M288.0 151.5H296.0"/></g>
<circle cx="285.6" cy="145.7" r="1.3" fill="#ea740c" fill-opacity="0.85"/><circle cx="287.9" cy="150.2" r="1.3" fill="#ea740c" fill-opacity="0.85"/><circle cx="285.2" cy="146.6" r="1.3" fill="#ea740c" fill-opacity="0.85"/><circle cx="286.8" cy="150.9" r="1.3" fill="#ea740c" fill-opacity="0.85"/><circle cx="291.2" cy="147.7" r="1.3" fill="#ea740c" fill-opacity="0.85"/><circle cx="287.2" cy="150.8" r="1.3" fill="#ea740c" fill-opacity="0.85"/><circle cx="285.7" cy="149.1" r="1.3" fill="#ea740c" fill-opacity="0.85"/><circle cx="293.7" cy="144.2" r="1.3" fill="#ea740c" fill-opacity="0.85"/><circle cx="294.0" cy="146.2" r="1.3" fill="#ea740c" fill-opacity="0.85"/><circle cx="290.5" cy="146.9" r="1.3" fill="#ea740c" fill-opacity="0.85"/><circle cx="287.9" cy="149.6" r="1.3" fill="#ea740c" fill-opacity="0.85"/><circle cx="294.1" cy="149.0" r="1.3" fill="#ea740c" fill-opacity="0.85"/><circle cx="293.6" cy="150.8" r="1.3" fill="#ea740c" fill-opacity="0.85"/><circle cx="290.3" cy="148.0" r="1.3" fill="#ea740c" fill-opacity="0.85"/><circle cx="288.3" cy="144.5" r="1.3" fill="#ea740c" fill-opacity="0.85"/><circle cx="287.7" cy="151.0" r="1.3" fill="#ea740c" fill-opacity="0.85"/><circle cx="288.2" cy="145.0" r="1.3" fill="#ea740c" fill-opacity="0.85"/><circle cx="296.4" cy="146.9" r="1.3" fill="#ea740c" fill-opacity="0.85"/><circle cx="295.6" cy="150.1" r="1.3" fill="#ea740c" fill-opacity="0.85"/><circle cx="296.0" cy="149.3" r="1.3" fill="#ea740c" fill-opacity="0.85"/><circle cx="293.1" cy="150.6" r="1.3" fill="#ea740c" fill-opacity="0.85"/><circle cx="295.2" cy="144.5" r="1.3" fill="#ea740c" fill-opacity="0.85"/><circle cx="290.3" cy="150.8" r="1.3" fill="#ea740c" fill-opacity="0.85"/><circle cx="288.8" cy="150.4" r="1.3" fill="#ea740c" fill-opacity="0.85"/><circle cx="286.0" cy="147.6" r="1.3" fill="#ea740c" fill-opacity="0.85"/><circle cx="285.4" cy="144.9" r="1.3" fill="#ea740c" fill-opacity="0.85"/><circle cx="289.2" cy="145.6" r="1.3" fill="#ea740c" fill-opacity="0.85"/><circle cx="285.6" cy="149.7" r="1.3" fill="#ea740c" fill-opacity="0.85"/><circle cx="293.4" cy="150.5" r="1.3" fill="#ea740c" fill-opacity="0.85"/><circle cx="292.2" cy="149.8" r="1.3" fill="#ea740c" fill-opacity="0.85"/><circle cx="294.9" cy="146.4" r="1.3" fill="#ea740c" fill-opacity="0.85"/><circle cx="295.5" cy="144.9" r="1.3" fill="#ea740c" fill-opacity="0.85"/><circle cx="286.4" cy="144.1" r="1.3" fill="#ea740c" fill-opacity="0.85"/><circle cx="285.5" cy="149.6" r="1.3" fill="#ea740c" fill-opacity="0.85"/><circle cx="292.7" cy="144.2" r="1.3" fill="#ea740c" fill-opacity="0.85"/><circle cx="288.5" cy="144.4" r="1.3" fill="#ea740c" fill-opacity="0.85"/><circle cx="294.2" cy="149.6" r="1.3" fill="#ea740c" fill-opacity="0.85"/><circle cx="290.2" cy="149.0" r="1.3" fill="#ea740c" fill-opacity="0.85"/><circle cx="288.5" cy="149.2" r="1.3" fill="#ea740c" fill-opacity="0.85"/><circle cx="288.9" cy="150.2" r="1.3" fill="#ea740c" fill-opacity="0.85"/><circle cx="295.3" cy="144.5" r="1.3" fill="#ea740c" fill-opacity="0.85"/><circle cx="290.0" cy="149.7" r="1.3" fill="#ea740c" fill-opacity="0.85"/><circle cx="289.2" cy="146.7" r="1.3" fill="#ea740c" fill-opacity="0.85"/><circle cx="287.7" cy="150.4" r="1.3" fill="#ea740c" fill-opacity="0.85"/><circle cx="291.1" cy="144.0" r="1.3" fill="#ea740c" fill-opacity="0.85"/><circle cx="291.1" cy="151.0" r="1.3" fill="#ea740c" fill-opacity="0.85"/>
<g fill="none" stroke="#222222" stroke-width="1.1"><rect x="301.5" y="145.5" width="14.0" height="5.0"/><path d="M301.5 148.5H315.5M308.5 145.5V141.5M305.0 141.5H313.0M308.5 150.5V151.5M305.0 151.5H313.0"/></g>
<circle cx="312.6" cy="145.5" r="1.3" fill="#885ead" fill-opacity="0.85"/><circle cx="305.2" cy="150.1" r="1.3" fill="#885ead" fill-opacity="0.85"/><circle cx="302.8" cy="142.0" r="1.3" fill="#885ead" fill-opacity="0.85"/><circle cx="312.3" cy="148.8" r="1.3" fill="#885ead" fill-opacity="0.85"/><circle cx="306.9" cy="148.8" r="1.3" fill="#885ead" fill-opacity="0.85"/><circle cx="314.1" cy="144.9" r="1.3" fill="#885ead" fill-opacity="0.85"/><circle cx="311.2" cy="149.8" r="1.3" fill="#885ead" fill-opacity="0.85"/><circle cx="310.4" cy="150.0" r="1.3" fill="#885ead" fill-opacity="0.85"/><circle cx="311.1" cy="147.3" r="1.3" fill="#885ead" fill-opacity="0.85"/><circle cx="307.0" cy="143.4" r="1.3" fill="#885ead" fill-opacity="0.85"/><circle cx="313.5" cy="149.2" r="1.3" fill="#885ead" fill-opacity="0.85"/><circle cx="303.1" cy="146.7" r="1.3" fill="#885ead" fill-opacity="0.85"/><circle cx="313.6" cy="149.7" r="1.3" fill="#885ead" fill-opacity="0.85"/><circle cx="313.4" cy="150.6" r="1.3" fill="#885ead" fill-opacity="0.85"/><circle cx="309.2" cy="149.0" r="1.3" fill="#885ead" fill-opacity="0.85"/><circle cx="310.5" cy="142.9" r="1.3" fill="#885ead" fill-opacity="0.85"/><circle cx="304.6" cy="149.5" r="1.3" fill="#885ead" fill-opacity="0.85"/><circle cx="311.7" cy="143.3" r="1.3" fill="#885ead" fill-opacity="0.85"/><circle cx="312.1" cy="149.1" r="1.3" fill="#885ead" fill-opacity="0.85"/><circle cx="308.3" cy="150.3" r="1.3" fill="#885ead" fill-opacity="0.85"/><circle cx="305.1" cy="144.9" r="1.3" fill="#885ead" fill-opacity="0.85"/><circle cx="312.9" cy="147.8" r="1.3" fill="#885ead" fill-opacity="0.85"/><circle cx="305.7" cy="149.9" r="1.3" fill="#885ead" fill-opacity="0.85"/><circle cx="304.7" cy="148.7" r="1.3" fill="#885ead" fill-opacity="0.85"/><circle cx="314.5" cy="149.9" r="1.3" fill="#885ead" fill-opacity="0.85"/><circle cx="314.3" cy="150.2" r="1.3" fill="#885ead" fill-opacity="0.85"/><circle cx="314.6" cy="149.3" r="1.3" fill="#885ead" fill-opacity="0.85"/><circle cx="308.0" cy="143.0" r="1.3" fill="#885ead" fill-opacity="0.85"/><circle cx="304.1" cy="148.1" r="1.3" fill="#885ead" fill-opacity="0.85"/><circle cx="303.2" cy="149.3" r="1.3" fill="#885ead" fill-opacity="0.85"/><circle cx="311.1" cy="147.3" r="1.3" fill="#885ead" fill-opacity="0.85"/><circle cx="308.3" cy="151.0" r="1.3" fill="#885ead" fill-opacity="0.85"/><circle cx="307.6" cy="148.3" r="1.3" fill="#885ead" fill-opacity="0.85"/><circle cx="307.9" cy="151.4" r="1.3" fill="#885ead" fill-opacity="0.85"/><circle cx="308.8" cy="141.9" r="1.3" fill="#885ead" fill-opacity="0.85"/><circle cx="308.8" cy="151.5" r="1.3" fill="#885ead" fill-opacity="0.85"/>
<g fill="none" stroke="#222222" stroke-width="1.1"><rect x="319.5" y="145.5" width="14.0" height="5.0"/><path d="M319.5 148.5H333.5M326.5 145.5V143.5M323.0 143.5H331.0M326.5 150.5V152.5M323.0 152.5H331.0"/></g>
<circle cx="325.5" cy="151.7" r="1.3" fill="#c42324" fill-opacity="0.85"/><circle cx="331.0" cy="147.9" r="1.3" fill="#c42324" fill-opacity="0.85"/><circle cx="330.7" cy="144.1" r="1.3" fill="#c42324" fill-opacity="0.85"/><circle cx="325.9" cy="151.5" r="1.3" fill="#c42324" fill-opacity="0.85"/><circle cx="321.6" cy="148.5" r="1.3" fill="#c42324" fill-opacity="0.85"/><circle cx="329.0" cy="147.5" r="1.3" fill="#c42324" fill-opacity="0.85"/><circle cx="325.6" cy="151.0" r="1.3" fill="#c42324" fill-opacity="0.85"/><circle cx="325.4" cy="148.6" r="1.3" fill="#c42324" fill-opacity="0.85"/><circle cx="322.7" cy="151.9" r="1.3" fill="#c42324" fill-opacity="0.85"/><circle cx="325.1" cy="151.7" r="1.3" fill="#c42324" fill-opacity="0.85"/><circle cx="320.9" cy="146.1" r="1.3" fill="#c42324" fill-opacity="0.85"/><circle cx="329.9" cy="150.9" r="1.3" fill="#c42324" fill-opacity="0.85"/><circle cx="321.7" cy="144.6" r="1.3" fill="#c42324" fill-opacity="0.85"/><circle cx="329.1" cy="151.4" r="1.3" fill="#c42324" fill-opacity="0.85"/><circle cx="330.4" cy="151.5" r="1.3" fill="#c42324" fill-opacity="0.85"/><circle cx="331.8" cy="151.2" r="1.3" fill="#c42324" fill-opacity="0.85"/><circle cx="325.2" cy="148.2" r="1.3" fill="#c42324" fill-opacity="0.85"/><circle cx="332.3" cy="145.6" r="1.3" fill="#c42324" fill-opacity="0.85"/><circle cx="323.8" cy="150.7" r="1.3" fill="#c42324" fill-opacity="0.85"/><circle cx="325.5" cy="150.7" r="1.3" fill="#c42324" fill-opacity="0.85"/><circle cx="324.7" cy="148.1" r="1.3" fill="#c42324" fill-opacity="0.85"/><circle cx="329.4" cy="150.3" r="1.3" fill="#c42324" fill-opacity="0.85"/><circle cx="323.1" cy="144.5" r="1.3" fill="#c42324" fill-opacity="0.85"/><circle cx="323.0" cy="144.9" r="1.3" fill="#c42324" fill-opacity="0.85"/><circle cx="330.2" cy="147.6" r="1.3" fill="#c42324" fill-opacity="0.85"/><circle cx="327.2" cy="151.3" r="1.3" fill="#c42324" fill-opacity="0.85"/><circle cx="324.7" cy="146.2" r="1.3" fill="#c42324" fill-opacity="0.85"/><circle cx="330.3" cy="151.8" r="1.3" fill="#c42324" fill-opacity="0.85"/><circle cx="326.5" cy="143.3" r="1.3" fill="#c42324" fill-opacity="0.85"/><circle cx="326.5" cy="152.0" r="1.3" fill="#c42324" fill-opacity="0.85"/>
<g fill="none" stroke="#222222" stroke-width="1.1"><rect x="337.5" y="146.5" width="14.0" height="4.0"/><path d="M337.5 148.5H351.5M344.5 146.5V140.5M341.0 140.5H349.0M344.5 150.5V152.5M341.0 152.5H349.0"/></g>
<circle cx="344.7" cy="150.2" r="1.3" fill="#747474" fill-opacity="0.85"/><circle cx="342.4" cy="147.7" r="1.3" fill="#747474" fill-opacity="0.85"/><circle cx="342.7" cy="145.0" r="1.3" fill="#747474" fill-opacity="0.85"/><circle cx="340.4" cy="149.7" r="1.3" fill="#747474" fill-opacity="0.85"/><circle cx="341.5" cy="148.3" r="1.3" fill="#747474" fill-opacity="0.85"/><circle cx="343.9" cy="150.2" r="1.3" fill="#747474" fill-opacity="0.85"/><circle cx="346.1" cy="148.8" r="1.3" fill="#747474" fill-opacity="0.85"/><circle cx="348.4" cy="147.1" r="1.3" fill="#747474" fill-opacity="0.85"/><circle cx="349.0" cy="147.7" r="1.3" fill="#747474" fill-opacity="0.85"/><circle cx="348.1" cy="145.8" r="1.3" fill="#747474" fill-opacity="0.85"/><circle cx="338.3" cy="150.7" r="1.3" fill="#747474" fill-opacity="0.85"/><circle cx="341.2" cy="142.7" r="1.3" fill="#747474" fill-opacity="0.85"/><circle cx="341.0" cy="150.6" r="1.3" fill="#747474" fill-opacity="0.85"/><circle cx="340.0" cy="144.6" r="1.3" fill="#747474" fill-opacity="0.85"/><circle cx="340.2" cy="141.9" r="1.3" fill="#747474" fill-opacity="0.85"/><circle cx="347.5" cy="143.0" r="1.3" fill="#747474" fill-opacity="0.85"/><circle cx="347.6" cy="151.9" r="1.3" fill="#747474" fill-opacity="0.85"/><circle cx="346.5" cy="145.4" r="1.3" fill="#747474" fill-opacity="0.85"/><circle cx="343.4" cy="151.7" r="1.3" fill="#747474" fill-opacity="0.85"/><circle cx="341.3" cy="143.3" r="1.3" fill="#747474" fill-opacity="0.85"/><circle cx="344.1" cy="150.6" r="1.3" fill="#747474" fill-opacity="0.85"/><circle cx="339.9" cy="149.6" r="1.3" fill="#747474" fill-opacity="0.85"/><circle cx="344.6" cy="149.4" r="1.3" fill="#747474" fill-opacity="0.85"/><circle cx="348.3" cy="146.6" r="1.3" fill="#747474" fill-opacity="0.85"/><circle cx="346.1" cy="149.2" r="1.3" fill="#747474" fill-opacity="0.85"/><circle cx="343.2" cy="144.4" r="1.3" fill="#747474" fill-opacity="0.85"/><circle cx="345.8" cy="146.2" r="1.3" fill="#747474" fill-opacity="0.85"/><circle cx="345.5" cy="150.7" r="1.3" fill="#747474" fill-opacity="0.85"/><circle cx="342.1" cy="151.9" r="1.3" fill="#747474" fill-opacity="0.85"/><circle cx="344.0" cy="143.6" r="1.3" fill="#747474" fill-opacity="0.85"/><circle cx="344.2" cy="140.7" r="1.3" fill="#747474" fill-opacity="0.85"/><circle cx="344.2" cy="152.0" r="1.3" fill="#747474" fill-opacity="0.85"/>
<circle cx="344.2" cy="137.5" r="1.3" fill="#747474"/>
<circle cx="344.2" cy="139.0" r="1.3" fill="#747474"/>
<g fill="none" stroke="#222222" stroke-width="1.1"><rect x="354.5" y="142.5" width="14.0" height="7.0"/><path d="M354.5 148.5H368.5M361.5 142.5V139.5M358.0 139.5H366.0M361.5 149.5V150.5M358.0 150.5H366.0"/></g>
<circle cx="364.5" cy="142.1" r="1.3" fill="#d06db2" fill-opacity="0.85"/><circle cx="366.2" cy="149.8" r="1.3" fill="#d06db2" fill-opacity="0.85"/><circle cx="362.2" cy="147.4" r="1.3" fill="#d06db2" fill-opacity="0.85"/><circle cx="361.1" cy="141.6" r="1.3" fill="#d06db2" fill-opacity="0.85"/><circle cx="365.8" cy="146.8" r="1.3" fill="#d06db2" fill-opacity="0.85"/><circle cx="360.7" cy="144.2" r="1.3" fill="#d06db2" fill-opacity="0.85"/><circle cx="361.9" cy="149.7" r="1.3" fill="#d06db2" fill-opacity="0.85"/><circle cx="365.4" cy="140.3" r="1.3" fill="#d06db2" fill-opacity="0.85"/><circle cx="359.5" cy="148.4" r="1.3" fill="#d06db2" fill-opacity="0.85"/><circle cx="365.3" cy="150.1" r="1.3" fill="#d06db2" fill-opacity="0.85"/><circle cx="366.5" cy="145.3" r="1.3" fill="#d06db2" fill-opacity="0.85"/><circle cx="359.5" cy="149.5" r="1.3" fill="#d06db2" fill-opacity="0.85"/><circle cx="366.9" cy="149.0" r="1.3" fill="#d06db2" fill-opacity="0.85"/><circle cx="365.3" cy="150.1" r="1.3" fill="#d06db2" fill-opacity="0.85"/><circle cx="363.3" cy="140.4" r="1.3" fill="#d06db2" fill-opacity="0.85"/><circle cx="363.0" cy="150.2" r="1.3" fill="#d06db2" fill-opacity="0.85"/><circle cx="363.9" cy="149.6" r="1.3" fill="#d06db2" fill-opacity="0.85"/><circle cx="357.1" cy="144.9" r="1.3" fill="#d06db2" fill-opacity="0.85"/><circle cx="365.2" cy="149.4" r="1.3" fill="#d06db2" fill-opacity="0.85"/><circle cx="360.3" cy="140.3" r="1.3" fill="#d06db2" fill-opacity="0.85"/><circle cx="362.6" cy="139.9" r="1.3" fill="#d06db2" fill-opacity="0.85"/><circle cx="360.9" cy="148.5" r="1.3" fill="#d06db2" fill-opacity="0.85"/><circle cx="363.6" cy="147.7" r="1.3" fill="#d06db2" fill-opacity="0.85"/><circle cx="362.7" cy="142.0" r="1.3" fill="#d06db2" fill-opacity="0.85"/><circle cx="365.6" cy="149.2" r="1.3" fill="#d06db2" fill-opacity="0.85"/><circle cx="361.2" cy="150.4" r="1.3" fill="#d06db2" fill-opacity="0.85"/><circle cx="363.0" cy="148.0" r="1.3" fill="#d06db2" fill-opacity="0.85"/><circle cx="361.6" cy="139.4" r="1.3" fill="#d06db2" fill-opacity="0.85"/><circle cx="361.9" cy="139.3" r="1.3" fill="#d06db2" fill-opacity="0.85"/><circle cx="361.9" cy="150.5" r="1.3" fill="#d06db2" fill-opacity="0.85"/>
<circle cx="373.6" cy="151.5" r="1.3" fill="#804f45" fill-opacity="0.85"/><circle cx="375.6" cy="151.5" r="1.3" fill="#804f45" fill-opacity="0.85"/><circle cx="377.6" cy="151.5" r="1.3" fill="#804f45" fill-opacity="0.85"/><circle cx="379.6" cy="151.5" r="1.3" fill="#804f45" fill-opacity="0.85"/><circle cx="381.6" cy="151.5" r="1.3" fill="#804f45" fill-opacity="0.85"/><circle cx="383.6" cy="151.5" r="1.3" fill="#804f45" fill-opacity="0.85"/><circle cx="385.6" cy="151.5" r="1.3" fill="#804f45" fill-opacity="0.85"/>
<text x="112.65" y="167.90" font-size="10.90" text-anchor="end" textLength="47.09" lengthAdjust="spacingAndGlyphs" transform="rotate(-45 112.65 167.90)">(40)/(94)</text>
<text x="130.34" y="167.90" font-size="10.90" text-anchor="end" textLength="40.35" lengthAdjust="spacingAndGlyphs" transform="rotate(-45 130.34 167.90)">(6)/(95)</text>
<text x="148.03" y="167.90" font-size="10.90" text-anchor="end" textLength="47.09" lengthAdjust="spacingAndGlyphs" transform="rotate(-45 148.03 167.90)">(36)/(94)</text>
<text x="165.73" y="167.90" font-size="10.90" text-anchor="end" textLength="47.09" lengthAdjust="spacingAndGlyphs" transform="rotate(-45 165.73 167.90)">(34)/(95)</text>
<text x="183.42" y="167.90" font-size="10.90" text-anchor="end" textLength="40.35" lengthAdjust="spacingAndGlyphs" transform="rotate(-45 183.42 167.90)">(7)/(95)</text>
<text x="201.12" y="167.90" font-size="10.90" text-anchor="end" textLength="47.09" lengthAdjust="spacingAndGlyphs" transform="rotate(-45 201.12 167.90)">(28)/(95)</text>
<text x="218.81" y="167.90" font-size="10.90" text-anchor="end" textLength="47.09" lengthAdjust="spacingAndGlyphs" transform="rotate(-45 218.81 167.90)">(24)/(95)</text>
<text x="236.50" y="167.90" font-size="10.90" text-anchor="end" textLength="47.09" lengthAdjust="spacingAndGlyphs" transform="rotate(-45 236.50 167.90)">(13)/(93)</text>
<text x="254.20" y="167.90" font-size="10.90" text-anchor="end" textLength="47.09" lengthAdjust="spacingAndGlyphs" transform="rotate(-45 254.20 167.90)">(16)/(95)</text>
<text x="271.89" y="167.90" font-size="10.90" text-anchor="end" textLength="47.09" lengthAdjust="spacingAndGlyphs" transform="rotate(-45 271.89 167.90)">(19)/(95)</text>
<text x="289.58" y="167.90" font-size="10.90" text-anchor="end" textLength="47.09" lengthAdjust="spacingAndGlyphs" transform="rotate(-45 289.58 167.90)">(22)/(95)</text>
<text x="307.28" y="167.90" font-size="10.90" text-anchor="end" textLength="47.09" lengthAdjust="spacingAndGlyphs" transform="rotate(-45 307.28 167.90)">(17)/(94)</text>
<text x="324.97" y="167.90" font-size="10.90" text-anchor="end" textLength="40.35" lengthAdjust="spacingAndGlyphs" transform="rotate(-45 324.97 167.90)">(9)/(95)</text>
<text x="342.67" y="167.90" font-size="10.90" text-anchor="end" textLength="47.09" lengthAdjust="spacingAndGlyphs" transform="rotate(-45 342.67 167.90)">(15)/(94)</text>
<text x="360.36" y="167.90" font-size="10.90" text-anchor="end" textLength="47.09" lengthAdjust="spacingAndGlyphs" transform="rotate(-45 360.36 167.90)">(12)/(95)</text>
<text x="378.05" y="167.90" font-size="10.90" text-anchor="end" textLength="47.09" lengthAdjust="spacingAndGlyphs" transform="rotate(-45 378.05 167.90)">(57)/(95)</text>
<text x="49.5" y="87.00" font-size="10.90" text-anchor="middle" transform="rotate(-90 49.5 87.00)" textLength="78.72" lengthAdjust="spacingAndGlyphs"><tspan font-style="italic">r</tspan><tspan font-size="7.5" dy="-4.5">2</tspan><tspan dy="4.5"> contribution</tspan></text>
<text x="61.00" y="87.00" font-size="10.90" text-anchor="middle" textLength="131.61" lengthAdjust="spacingAndGlyphs" transform="rotate(-90 61.00 87.00)">(beyond age, BMI &amp; VAT)</text>
<path d="M105.3 228.0V369.0H388.4" fill="none" stroke="#6a6a6a" stroke-width="1"/>
<path d="M114.1 369.0v3" stroke="#6a6a6a" stroke-width="1"/>
<path d="M131.8 369.0v3" stroke="#6a6a6a" stroke-width="1"/>
<path d="M149.5 369.0v3" stroke="#6a6a6a" stroke-width="1"/>
<path d="M167.2 369.0v3" stroke="#6a6a6a" stroke-width="1"/>
<path d="M184.9 369.0v3" stroke="#6a6a6a" stroke-width="1"/>
<path d="M202.6 369.0v3" stroke="#6a6a6a" stroke-width="1"/>
<path d="M220.3 369.0v3" stroke="#6a6a6a" stroke-width="1"/>
<path d="M238.0 369.0v3" stroke="#6a6a6a" stroke-width="1"/>
<path d="M255.7 369.0v3" stroke="#6a6a6a" stroke-width="1"/>
<path d="M273.4 369.0v3" stroke="#6a6a6a" stroke-width="1"/>
<path d="M291.1 369.0v3" stroke="#6a6a6a" stroke-width="1"/>
<path d="M308.8 369.0v3" stroke="#6a6a6a" stroke-width="1"/>
<path d="M326.5 369.0v3" stroke="#6a6a6a" stroke-width="1"/>
<path d="M344.2 369.0v3" stroke="#6a6a6a" stroke-width="1"/>
<path d="M361.9 369.0v3" stroke="#6a6a6a" stroke-width="1"/>
<path d="M379.6 369.0v3" stroke="#6a6a6a" stroke-width="1"/>
<text x="101.30" y="369.80" font-size="10.90" text-anchor="end" textLength="16.86" lengthAdjust="spacingAndGlyphs">0.0</text>
<text x="101.30" y="345.40" font-size="10.90" text-anchor="end" textLength="16.86" lengthAdjust="spacingAndGlyphs">0.1</text>
<text x="101.30" y="321.00" font-size="10.90" text-anchor="end" textLength="16.86" lengthAdjust="spacingAndGlyphs">0.2</text>
<text x="101.30" y="296.60" font-size="10.90" text-anchor="end" textLength="16.86" lengthAdjust="spacingAndGlyphs">0.3</text>
<text x="101.30" y="272.20" font-size="10.90" text-anchor="end" textLength="16.86" lengthAdjust="spacingAndGlyphs">0.4</text>
<text x="101.30" y="247.80" font-size="10.90" text-anchor="end" textLength="16.86" lengthAdjust="spacingAndGlyphs">0.5</text>
<text x="56.10" y="298.50" font-size="10.90" text-anchor="middle" textLength="88.38" lengthAdjust="spacingAndGlyphs" transform="rotate(-90 56.10 298.50)">Predictive power</text>
<g fill="none" stroke="#222222" stroke-width="1.1"><rect x="107.5" y="271.5" width="14.0" height="51.0"/><path d="M107.5 311.5H121.5M114.5 271.5V242.5M111.0 242.5H119.0M114.5 322.5V359.5M111.0 359.5H119.0"/></g>
<circle cx="114.5" cy="291.9" r="1.3" fill="#c42324" fill-opacity="0.85"/><circle cx="112.2" cy="348.5" r="1.3" fill="#c42324" fill-opacity="0.85"/><circle cx="112.0" cy="250.8" r="1.3" fill="#c42324" fill-opacity="0.85"/><circle cx="114.2" cy="297.3" r="1.3" fill="#c42324" fill-opacity="0.85"/><circle cx="113.7" cy="316.0" r="1.3" fill="#c42324" fill-opacity="0.85"/><circle cx="115.9" cy="292.3" r="1.3" fill="#c42324" fill-opacity="0.85"/><circle cx="115.3" cy="293.3" r="1.3" fill="#c42324" fill-opacity="0.85"/><circle cx="116.2" cy="280.5" r="1.3" fill="#c42324" fill-opacity="0.85"/><circle cx="115.8" cy="301.0" r="1.3" fill="#c42324" fill-opacity="0.85"/><circle cx="116.3" cy="337.0" r="1.3" fill="#c42324" fill-opacity="0.85"/><circle cx="112.9" cy="261.8" r="1.3" fill="#c42324" fill-opacity="0.85"/><circle cx="116.5" cy="300.2" r="1.3" fill="#c42324" fill-opacity="0.85"/><circle cx="115.7" cy="245.0" r="1.3" fill="#c42324" fill-opacity="0.85"/><circle cx="114.2" cy="270.1" r="1.3" fill="#c42324" fill-opacity="0.85"/><circle cx="112.9" cy="244.4" r="1.3" fill="#c42324" fill-opacity="0.85"/><circle cx="113.5" cy="290.2" r="1.3" fill="#c42324" fill-opacity="0.85"/><circle cx="113.8" cy="324.8" r="1.3" fill="#c42324" fill-opacity="0.85"/><circle cx="112.4" cy="323.0" r="1.3" fill="#c42324" fill-opacity="0.85"/><circle cx="116.2" cy="249.0" r="1.3" fill="#c42324" fill-opacity="0.85"/><circle cx="116.0" cy="352.5" r="1.3" fill="#c42324" fill-opacity="0.85"/><circle cx="114.8" cy="270.7" r="1.3" fill="#c42324" fill-opacity="0.85"/><circle cx="113.1" cy="287.9" r="1.3" fill="#c42324" fill-opacity="0.85"/><circle cx="114.7" cy="356.8" r="1.3" fill="#c42324" fill-opacity="0.85"/><circle cx="113.8" cy="295.9" r="1.3" fill="#c42324" fill-opacity="0.85"/><circle cx="113.2" cy="263.3" r="1.3" fill="#c42324" fill-opacity="0.85"/><circle cx="114.6" cy="326.7" r="1.3" fill="#c42324" fill-opacity="0.85"/><circle cx="113.0" cy="256.7" r="1.3" fill="#c42324" fill-opacity="0.85"/><circle cx="112.5" cy="295.2" r="1.3" fill="#c42324" fill-opacity="0.85"/><circle cx="113.2" cy="315.6" r="1.3" fill="#c42324" fill-opacity="0.85"/><circle cx="112.9" cy="307.6" r="1.3" fill="#c42324" fill-opacity="0.85"/><circle cx="115.8" cy="294.6" r="1.3" fill="#c42324" fill-opacity="0.85"/><circle cx="114.9" cy="343.5" r="1.3" fill="#c42324" fill-opacity="0.85"/><circle cx="114.0" cy="286.3" r="1.3" fill="#c42324" fill-opacity="0.85"/><circle cx="114.0" cy="345.1" r="1.3" fill="#c42324" fill-opacity="0.85"/><circle cx="112.8" cy="310.0" r="1.3" fill="#c42324" fill-opacity="0.85"/><circle cx="114.6" cy="336.5" r="1.3" fill="#c42324" fill-opacity="0.85"/><circle cx="115.9" cy="304.4" r="1.3" fill="#c42324" fill-opacity="0.85"/><circle cx="114.1" cy="294.1" r="1.3" fill="#c42324" fill-opacity="0.85"/><circle cx="113.2" cy="272.3" r="1.3" fill="#c42324" fill-opacity="0.85"/><circle cx="112.1" cy="267.1" r="1.3" fill="#c42324" fill-opacity="0.85"/><circle cx="114.1" cy="242.5" r="1.3" fill="#c42324" fill-opacity="0.85"/><circle cx="114.1" cy="359.6" r="1.3" fill="#c42324" fill-opacity="0.85"/>
<g fill="none" stroke="#222222" stroke-width="1.1"><rect x="124.5" y="342.5" width="14.0" height="1.0"/><path d="M124.5 342.5H138.5M131.5 342.5V342.5M128.0 342.5H136.0M131.5 343.5V342.5M128.0 342.5H136.0"/></g>
<circle cx="126.6" cy="342.3" r="1.3" fill="#885ead" fill-opacity="0.85"/><circle cx="134.7" cy="342.7" r="1.3" fill="#885ead" fill-opacity="0.85"/><circle cx="137.4" cy="342.9" r="1.3" fill="#885ead" fill-opacity="0.85"/><circle cx="129.9" cy="343.1" r="1.3" fill="#885ead" fill-opacity="0.85"/><circle cx="133.2" cy="342.4" r="1.3" fill="#885ead" fill-opacity="0.85"/><circle cx="132.1" cy="342.5" r="1.3" fill="#885ead" fill-opacity="0.85"/><circle cx="135.0" cy="342.8" r="1.3" fill="#885ead" fill-opacity="0.85"/><circle cx="134.3" cy="342.3" r="1.3" fill="#885ead" fill-opacity="0.85"/><circle cx="136.3" cy="342.1" r="1.3" fill="#885ead" fill-opacity="0.85"/><circle cx="132.9" cy="342.3" r="1.3" fill="#885ead" fill-opacity="0.85"/><circle cx="132.7" cy="342.0" r="1.3" fill="#885ead" fill-opacity="0.85"/><circle cx="136.3" cy="342.3" r="1.3" fill="#885ead" fill-opacity="0.85"/><circle cx="131.3" cy="343.0" r="1.3" fill="#885ead" fill-opacity="0.85"/><circle cx="129.4" cy="342.3" r="1.3" fill="#885ead" fill-opacity="0.85"/><circle cx="130.5" cy="342.5" r="1.3" fill="#885ead" fill-opacity="0.85"/><circle cx="136.0" cy="342.3" r="1.3" fill="#885ead" fill-opacity="0.85"/><circle cx="128.1" cy="342.7" r="1.3" fill="#885ead" fill-opacity="0.85"/><circle cx="132.7" cy="343.0" r="1.3" fill="#885ead" fill-opacity="0.85"/><circle cx="136.9" cy="343.1" r="1.3" fill="#885ead" fill-opacity="0.85"/><circle cx="135.9" cy="342.2" r="1.3" fill="#885ead" fill-opacity="0.85"/><circle cx="131.0" cy="342.1" r="1.3" fill="#885ead" fill-opacity="0.85"/><circle cx="126.4" cy="342.0" r="1.3" fill="#885ead" fill-opacity="0.85"/><circle cx="136.9" cy="342.9" r="1.3" fill="#885ead" fill-opacity="0.85"/><circle cx="137.8" cy="342.3" r="1.3" fill="#885ead" fill-opacity="0.85"/><circle cx="134.1" cy="342.9" r="1.3" fill="#885ead" fill-opacity="0.85"/><circle cx="133.0" cy="342.8" r="1.3" fill="#885ead" fill-opacity="0.85"/><circle cx="134.0" cy="342.1" r="1.3" fill="#885ead" fill-opacity="0.85"/><circle cx="130.3" cy="343.1" r="1.3" fill="#885ead" fill-opacity="0.85"/><circle cx="131.8" cy="342.6" r="1.3" fill="#885ead" fill-opacity="0.85"/><circle cx="131.8" cy="342.6" r="1.3" fill="#885ead" fill-opacity="0.85"/>
<circle cx="131.8" cy="356.0" r="1.3" fill="#885ead"/>
<g fill="none" stroke="#222222" stroke-width="1.1"><rect x="142.5" y="255.5" width="14.0" height="78.0"/><path d="M142.5 303.5H156.5M149.5 255.5V236.5M146.0 236.5H154.0M149.5 333.5V352.5M146.0 352.5H154.0"/></g>
<circle cx="149.9" cy="289.9" r="1.3" fill="#289328" fill-opacity="0.85"/><circle cx="149.5" cy="237.3" r="1.3" fill="#289328" fill-opacity="0.85"/><circle cx="151.9" cy="285.0" r="1.3" fill="#289328" fill-opacity="0.85"/><circle cx="151.1" cy="292.4" r="1.3" fill="#289328" fill-opacity="0.85"/><circle cx="151.8" cy="309.0" r="1.3" fill="#289328" fill-opacity="0.85"/><circle cx="147.7" cy="245.9" r="1.3" fill="#289328" fill-opacity="0.85"/><circle cx="151.1" cy="242.5" r="1.3" fill="#289328" fill-opacity="0.85"/><circle cx="149.2" cy="238.7" r="1.3" fill="#289328" fill-opacity="0.85"/><circle cx="149.6" cy="311.2" r="1.3" fill="#289328" fill-opacity="0.85"/><circle cx="148.0" cy="337.3" r="1.3" fill="#289328" fill-opacity="0.85"/><circle cx="148.8" cy="344.8" r="1.3" fill="#289328" fill-opacity="0.85"/><circle cx="147.3" cy="243.5" r="1.3" fill="#289328" fill-opacity="0.85"/><circle cx="148.6" cy="272.2" r="1.3" fill="#289328" fill-opacity="0.85"/><circle cx="148.6" cy="334.0" r="1.3" fill="#289328" fill-opacity="0.85"/><circle cx="150.3" cy="244.5" r="1.3" fill="#289328" fill-opacity="0.85"/><circle cx="149.8" cy="294.9" r="1.3" fill="#289328" fill-opacity="0.85"/><circle cx="149.7" cy="283.3" r="1.3" fill="#289328" fill-opacity="0.85"/><circle cx="149.1" cy="244.7" r="1.3" fill="#289328" fill-opacity="0.85"/><circle cx="150.8" cy="321.6" r="1.3" fill="#289328" fill-opacity="0.85"/><circle cx="148.0" cy="326.1" r="1.3" fill="#289328" fill-opacity="0.85"/><circle cx="150.1" cy="348.8" r="1.3" fill="#289328" fill-opacity="0.85"/><circle cx="147.2" cy="254.4" r="1.3" fill="#289328" fill-opacity="0.85"/><circle cx="150.6" cy="249.5" r="1.3" fill="#289328" fill-opacity="0.85"/><circle cx="148.4" cy="320.6" r="1.3" fill="#289328" fill-opacity="0.85"/><circle cx="149.9" cy="263.1" r="1.3" fill="#289328" fill-opacity="0.85"/><circle cx="149.0" cy="298.7" r="1.3" fill="#289328" fill-opacity="0.85"/><circle cx="149.9" cy="264.2" r="1.3" fill="#289328" fill-opacity="0.85"/><circle cx="150.1" cy="247.2" r="1.3" fill="#289328" fill-opacity="0.85"/><circle cx="151.6" cy="330.5" r="1.3" fill="#289328" fill-opacity="0.85"/><circle cx="151.4" cy="249.6" r="1.3" fill="#289328" fill-opacity="0.85"/><circle cx="150.0" cy="249.8" r="1.3" fill="#289328" fill-opacity="0.85"/><circle cx="151.7" cy="246.2" r="1.3" fill="#289328" fill-opacity="0.85"/><circle cx="150.6" cy="303.4" r="1.3" fill="#289328" fill-opacity="0.85"/><circle cx="151.3" cy="309.7" r="1.3" fill="#289328" fill-opacity="0.85"/><circle cx="148.3" cy="271.8" r="1.3" fill="#289328" fill-opacity="0.85"/><circle cx="148.0" cy="305.8" r="1.3" fill="#289328" fill-opacity="0.85"/><circle cx="149.5" cy="236.6" r="1.3" fill="#289328" fill-opacity="0.85"/><circle cx="149.5" cy="352.0" r="1.3" fill="#289328" fill-opacity="0.85"/>
<g fill="none" stroke="#222222" stroke-width="1.1"><rect x="160.5" y="242.5" width="14.0" height="36.0"/><path d="M160.5 255.5H174.5M167.5 242.5V234.5M164.0 234.5H172.0M167.5 278.5V313.5M164.0 313.5H172.0"/></g>
<circle cx="167.5" cy="240.0" r="1.3" fill="#bcbd22" fill-opacity="0.85"/><circle cx="166.7" cy="259.2" r="1.3" fill="#bcbd22" fill-opacity="0.85"/><circle cx="165.4" cy="276.1" r="1.3" fill="#bcbd22" fill-opacity="0.85"/><circle cx="166.0" cy="239.5" r="1.3" fill="#bcbd22" fill-opacity="0.85"/><circle cx="166.0" cy="268.2" r="1.3" fill="#bcbd22" fill-opacity="0.85"/><circle cx="166.5" cy="254.6" r="1.3" fill="#bcbd22" fill-opacity="0.85"/><circle cx="165.3" cy="253.1" r="1.3" fill="#bcbd22" fill-opacity="0.85"/><circle cx="165.4" cy="248.4" r="1.3" fill="#bcbd22" fill-opacity="0.85"/><circle cx="168.7" cy="248.4" r="1.3" fill="#bcbd22" fill-opacity="0.85"/><circle cx="168.3" cy="265.7" r="1.3" fill="#bcbd22" fill-opacity="0.85"/><circle cx="165.8" cy="244.0" r="1.3" fill="#bcbd22" fill-opacity="0.85"/><circle cx="165.9" cy="238.2" r="1.3" fill="#bcbd22" fill-opacity="0.85"/><circle cx="168.2" cy="273.7" r="1.3" fill="#bcbd22" fill-opacity="0.85"/><circle cx="167.6" cy="246.1" r="1.3" fill="#bcbd22" fill-opacity="0.85"/><circle cx="167.7" cy="269.6" r="1.3" fill="#bcbd22" fill-opacity="0.85"/><circle cx="165.4" cy="247.1" r="1.3" fill="#bcbd22" fill-opacity="0.85"/><circle cx="166.1" cy="297.4" r="1.3" fill="#bcbd22" fill-opacity="0.85"/><circle cx="168.0" cy="239.2" r="1.3" fill="#bcbd22" fill-opacity="0.85"/><circle cx="166.7" cy="289.3" r="1.3" fill="#bcbd22" fill-opacity="0.85"/><circle cx="168.9" cy="272.0" r="1.3" fill="#bcbd22" fill-opacity="0.85"/><circle cx="165.4" cy="254.6" r="1.3" fill="#bcbd22" fill-opacity="0.85"/><circle cx="167.2" cy="291.1" r="1.3" fill="#bcbd22" fill-opacity="0.85"/><circle cx="166.3" cy="276.0" r="1.3" fill="#bcbd22" fill-opacity="0.85"/><circle cx="168.3" cy="273.9" r="1.3" fill="#bcbd22" fill-opacity="0.85"/><circle cx="169.2" cy="263.9" r="1.3" fill="#bcbd22" fill-opacity="0.85"/><circle cx="169.0" cy="235.0" r="1.3" fill="#bcbd22" fill-opacity="0.85"/><circle cx="165.0" cy="268.5" r="1.3" fill="#bcbd22" fill-opacity="0.85"/><circle cx="166.5" cy="301.6" r="1.3" fill="#bcbd22" fill-opacity="0.85"/><circle cx="168.2" cy="254.7" r="1.3" fill="#bcbd22" fill-opacity="0.85"/><circle cx="166.5" cy="248.0" r="1.3" fill="#bcbd22" fill-opacity="0.85"/><circle cx="165.4" cy="284.8" r="1.3" fill="#bcbd22" fill-opacity="0.85"/><circle cx="168.2" cy="236.3" r="1.3" fill="#bcbd22" fill-opacity="0.85"/><circle cx="165.6" cy="277.0" r="1.3" fill="#bcbd22" fill-opacity="0.85"/><circle cx="166.7" cy="267.5" r="1.3" fill="#bcbd22" fill-opacity="0.85"/><circle cx="167.2" cy="234.0" r="1.3" fill="#bcbd22" fill-opacity="0.85"/><circle cx="167.2" cy="313.4" r="1.3" fill="#bcbd22" fill-opacity="0.85"/>
<circle cx="167.2" cy="333.0" r="1.3" fill="#bcbd22"/>
<circle cx="167.2" cy="347.0" r="1.3" fill="#bcbd22"/>
<g fill="none" stroke="#222222" stroke-width="1.1"><rect x="177.5" y="348.5" width="15.0" height="5.0"/><path d="M177.5 351.5H192.5M184.5 348.5V346.5M181.0 346.5H189.0M184.5 353.5V357.5M181.0 357.5H189.0"/></g>
<circle cx="186.6" cy="351.6" r="1.3" fill="#289328" fill-opacity="0.85"/><circle cx="185.8" cy="349.2" r="1.3" fill="#289328" fill-opacity="0.85"/><circle cx="184.1" cy="354.0" r="1.3" fill="#289328" fill-opacity="0.85"/><circle cx="178.9" cy="354.4" r="1.3" fill="#289328" fill-opacity="0.85"/><circle cx="182.4" cy="346.6" r="1.3" fill="#289328" fill-opacity="0.85"/><circle cx="186.2" cy="349.2" r="1.3" fill="#289328" fill-opacity="0.85"/><circle cx="180.3" cy="351.9" r="1.3" fill="#289328" fill-opacity="0.85"/><circle cx="189.9" cy="348.0" r="1.3" fill="#289328" fill-opacity="0.85"/><circle cx="187.3" cy="353.3" r="1.3" fill="#289328" fill-opacity="0.85"/><circle cx="188.9" cy="349.6" r="1.3" fill="#289328" fill-opacity="0.85"/><circle cx="190.3" cy="352.6" r="1.3" fill="#289328" fill-opacity="0.85"/><circle cx="187.2" cy="348.8" r="1.3" fill="#289328" fill-opacity="0.85"/><circle cx="186.5" cy="356.3" r="1.3" fill="#289328" fill-opacity="0.85"/><circle cx="187.3" cy="352.8" r="1.3" fill="#289328" fill-opacity="0.85"/><circle cx="190.1" cy="350.7" r="1.3" fill="#289328" fill-opacity="0.85"/><circle cx="179.4" cy="349.6" r="1.3" fill="#289328" fill-opacity="0.85"/><circle cx="182.1" cy="356.2" r="1.3" fill="#289328" fill-opacity="0.85"/><circle cx="186.6" cy="356.9" r="1.3" fill="#289328" fill-opacity="0.85"/><circle cx="179.6" cy="354.0" r="1.3" fill="#289328" fill-opacity="0.85"/><circle cx="181.3" cy="351.1" r="1.3" fill="#289328" fill-opacity="0.85"/><circle cx="187.4" cy="352.4" r="1.3" fill="#289328" fill-opacity="0.85"/><circle cx="181.8" cy="354.0" r="1.3" fill="#289328" fill-opacity="0.85"/><circle cx="190.2" cy="354.8" r="1.3" fill="#289328" fill-opacity="0.85"/><circle cx="189.5" cy="351.7" r="1.3" fill="#289328" fill-opacity="0.85"/><circle cx="182.9" cy="350.5" r="1.3" fill="#289328" fill-opacity="0.85"/><circle cx="188.0" cy="347.1" r="1.3" fill="#289328" fill-opacity="0.85"/><circle cx="186.1" cy="350.0" r="1.3" fill="#289328" fill-opacity="0.85"/><circle cx="188.9" cy="349.6" r="1.3" fill="#289328" fill-opacity="0.85"/><circle cx="184.9" cy="346.0" r="1.3" fill="#289328" fill-opacity="0.85"/><circle cx="184.9" cy="357.0" r="1.3" fill="#289328" fill-opacity="0.85"/>
<g fill="none" stroke="#222222" stroke-width="1.1"><rect x="195.5" y="245.5" width="14.0" height="46.0"/><path d="M195.5 260.5H209.5M202.5 245.5V237.5M199.0 237.5H207.0M202.5 291.5V341.5M199.0 341.5H207.0"/></g>
<circle cx="201.9" cy="277.8" r="1.3" fill="#1c6da5" fill-opacity="0.85"/><circle cx="201.6" cy="288.2" r="1.3" fill="#1c6da5" fill-opacity="0.85"/><circle cx="202.4" cy="259.0" r="1.3" fill="#1c6da5" fill-opacity="0.85"/><circle cx="202.5" cy="276.2" r="1.3" fill="#1c6da5" fill-opacity="0.85"/><circle cx="200.6" cy="283.3" r="1.3" fill="#1c6da5" fill-opacity="0.85"/><circle cx="203.8" cy="245.8" r="1.3" fill="#1c6da5" fill-opacity="0.85"/><circle cx="204.9" cy="258.3" r="1.3" fill="#1c6da5" fill-opacity="0.85"/><circle cx="202.6" cy="296.5" r="1.3" fill="#1c6da5" fill-opacity="0.85"/><circle cx="202.8" cy="282.3" r="1.3" fill="#1c6da5" fill-opacity="0.85"/><circle cx="203.3" cy="249.1" r="1.3" fill="#1c6da5" fill-opacity="0.85"/><circle cx="203.3" cy="338.5" r="1.3" fill="#1c6da5" fill-opacity="0.85"/><circle cx="200.9" cy="279.8" r="1.3" fill="#1c6da5" fill-opacity="0.85"/><circle cx="204.2" cy="255.7" r="1.3" fill="#1c6da5" fill-opacity="0.85"/><circle cx="203.3" cy="282.5" r="1.3" fill="#1c6da5" fill-opacity="0.85"/><circle cx="201.0" cy="238.1" r="1.3" fill="#1c6da5" fill-opacity="0.85"/><circle cx="203.8" cy="238.8" r="1.3" fill="#1c6da5" fill-opacity="0.85"/><circle cx="204.2" cy="282.6" r="1.3" fill="#1c6da5" fill-opacity="0.85"/><circle cx="202.9" cy="274.2" r="1.3" fill="#1c6da5" fill-opacity="0.85"/><circle cx="201.4" cy="253.1" r="1.3" fill="#1c6da5" fill-opacity="0.85"/><circle cx="203.2" cy="265.2" r="1.3" fill="#1c6da5" fill-opacity="0.85"/><circle cx="204.6" cy="239.8" r="1.3" fill="#1c6da5" fill-opacity="0.85"/><circle cx="202.6" cy="241.5" r="1.3" fill="#1c6da5" fill-opacity="0.85"/><circle cx="203.0" cy="277.3" r="1.3" fill="#1c6da5" fill-opacity="0.85"/><circle cx="201.0" cy="259.6" r="1.3" fill="#1c6da5" fill-opacity="0.85"/><circle cx="200.6" cy="246.8" r="1.3" fill="#1c6da5" fill-opacity="0.85"/><circle cx="201.1" cy="271.0" r="1.3" fill="#1c6da5" fill-opacity="0.85"/><circle cx="204.3" cy="291.1" r="1.3" fill="#1c6da5" fill-opacity="0.85"/><circle cx="202.3" cy="239.2" r="1.3" fill="#1c6da5" fill-opacity="0.85"/><circle cx="202.6" cy="237.5" r="1.3" fill="#1c6da5" fill-opacity="0.85"/><circle cx="202.6" cy="341.8" r="1.3" fill="#1c6da5" fill-opacity="0.85"/>
<circle cx="202.6" cy="362.5" r="1.3" fill="#1c6da5"/>
<g fill="none" stroke="#222222" stroke-width="1.1"><rect x="213.5" y="244.5" width="14.0" height="56.0"/><path d="M213.5 267.5H227.5M220.5 244.5V237.5M217.0 237.5H225.0M220.5 300.5V357.5M217.0 357.5H225.0"/></g>
<circle cx="220.4" cy="263.2" r="1.3" fill="#1c6da5" fill-opacity="0.85"/><circle cx="220.0" cy="281.3" r="1.3" fill="#1c6da5" fill-opacity="0.85"/><circle cx="222.2" cy="347.3" r="1.3" fill="#1c6da5" fill-opacity="0.85"/><circle cx="220.0" cy="283.7" r="1.3" fill="#1c6da5" fill-opacity="0.85"/><circle cx="218.8" cy="320.1" r="1.3" fill="#1c6da5" fill-opacity="0.85"/><circle cx="220.1" cy="282.1" r="1.3" fill="#1c6da5" fill-opacity="0.85"/><circle cx="222.1" cy="238.1" r="1.3" fill="#1c6da5" fill-opacity="0.85"/><circle cx="220.9" cy="237.8" r="1.3" fill="#1c6da5" fill-opacity="0.85"/><circle cx="221.2" cy="243.8" r="1.3" fill="#1c6da5" fill-opacity="0.85"/><circle cx="220.7" cy="317.2" r="1.3" fill="#1c6da5" fill-opacity="0.85"/><circle cx="221.0" cy="241.0" r="1.3" fill="#1c6da5" fill-opacity="0.85"/><circle cx="222.2" cy="281.0" r="1.3" fill="#1c6da5" fill-opacity="0.85"/><circle cx="221.2" cy="289.7" r="1.3" fill="#1c6da5" fill-opacity="0.85"/><circle cx="221.1" cy="295.5" r="1.3" fill="#1c6da5" fill-opacity="0.85"/><circle cx="219.9" cy="267.7" r="1.3" fill="#1c6da5" fill-opacity="0.85"/><circle cx="219.8" cy="332.4" r="1.3" fill="#1c6da5" fill-opacity="0.85"/><circle cx="222.2" cy="290.2" r="1.3" fill="#1c6da5" fill-opacity="0.85"/><circle cx="222.0" cy="306.7" r="1.3" fill="#1c6da5" fill-opacity="0.85"/><circle cx="220.5" cy="295.0" r="1.3" fill="#1c6da5" fill-opacity="0.85"/><circle cx="220.6" cy="272.9" r="1.3" fill="#1c6da5" fill-opacity="0.85"/><circle cx="218.5" cy="268.2" r="1.3" fill="#1c6da5" fill-opacity="0.85"/><circle cx="218.3" cy="333.8" r="1.3" fill="#1c6da5" fill-opacity="0.85"/><circle cx="220.0" cy="296.2" r="1.3" fill="#1c6da5" fill-opacity="0.85"/><circle cx="221.3" cy="240.5" r="1.3" fill="#1c6da5" fill-opacity="0.85"/><circle cx="220.3" cy="237.5" r="1.3" fill="#1c6da5" fill-opacity="0.85"/><circle cx="220.3" cy="357.2" r="1.3" fill="#1c6da5" fill-opacity="0.85"/>
<g fill="none" stroke="#222222" stroke-width="1.1"><rect x="230.5" y="348.5" width="15.0" height="7.0"/><path d="M230.5 352.5H245.5M238.5 348.5V343.5M235.0 343.5H243.0M238.5 355.5V359.5M235.0 359.5H243.0"/></g>
<circle cx="243.9" cy="347.9" r="1.3" fill="#ea740c" fill-opacity="0.85"/><circle cx="242.0" cy="356.1" r="1.3" fill="#ea740c" fill-opacity="0.85"/><circle cx="243.5" cy="354.5" r="1.3" fill="#ea740c" fill-opacity="0.85"/><circle cx="233.6" cy="358.3" r="1.3" fill="#ea740c" fill-opacity="0.85"/><circle cx="234.8" cy="348.2" r="1.3" fill="#ea740c" fill-opacity="0.85"/><circle cx="239.1" cy="355.7" r="1.3" fill="#ea740c" fill-opacity="0.85"/><circle cx="240.5" cy="353.6" r="1.3" fill="#ea740c" fill-opacity="0.85"/><circle cx="239.5" cy="349.3" r="1.3" fill="#ea740c" fill-opacity="0.85"/><circle cx="243.0" cy="345.5" r="1.3" fill="#ea740c" fill-opacity="0.85"/><circle cx="240.9" cy="347.6" r="1.3" fill="#ea740c" fill-opacity="0.85"/><circle cx="240.2" cy="350.2" r="1.3" fill="#ea740c" fill-opacity="0.85"/><circle cx="236.5" cy="347.8" r="1.3" fill="#ea740c" fill-opacity="0.85"/><circle cx="240.7" cy="358.8" r="1.3" fill="#ea740c" fill-opacity="0.85"/><circle cx="233.2" cy="351.4" r="1.3" fill="#ea740c" fill-opacity="0.85"/><circle cx="233.4" cy="358.4" r="1.3" fill="#ea740c" fill-opacity="0.85"/><circle cx="235.1" cy="344.9" r="1.3" fill="#ea740c" fill-opacity="0.85"/><circle cx="242.1" cy="352.5" r="1.3" fill="#ea740c" fill-opacity="0.85"/><circle cx="232.3" cy="356.2" r="1.3" fill="#ea740c" fill-opacity="0.85"/><circle cx="234.2" cy="350.0" r="1.3" fill="#ea740c" fill-opacity="0.85"/><circle cx="240.2" cy="356.7" r="1.3" fill="#ea740c" fill-opacity="0.85"/><circle cx="242.5" cy="354.7" r="1.3" fill="#ea740c" fill-opacity="0.85"/><circle cx="241.7" cy="358.0" r="1.3" fill="#ea740c" fill-opacity="0.85"/><circle cx="236.1" cy="348.4" r="1.3" fill="#ea740c" fill-opacity="0.85"/><circle cx="242.5" cy="352.1" r="1.3" fill="#ea740c" fill-opacity="0.85"/><circle cx="234.2" cy="348.3" r="1.3" fill="#ea740c" fill-opacity="0.85"/><circle cx="236.7" cy="344.9" r="1.3" fill="#ea740c" fill-opacity="0.85"/><circle cx="242.1" cy="354.6" r="1.3" fill="#ea740c" fill-opacity="0.85"/><circle cx="239.3" cy="349.4" r="1.3" fill="#ea740c" fill-opacity="0.85"/><circle cx="238.0" cy="343.2" r="1.3" fill="#ea740c" fill-opacity="0.85"/><circle cx="238.0" cy="359.0" r="1.3" fill="#ea740c" fill-opacity="0.85"/>
<circle cx="238.0" cy="331.0" r="1.3" fill="#ea740c"/>
<g fill="none" stroke="#222222" stroke-width="1.1"><rect x="248.5" y="269.5" width="14.0" height="67.0"/><path d="M248.5 326.5H262.5M255.5 269.5V255.5M252.0 255.5H260.0M255.5 336.5V357.5M252.0 357.5H260.0"/></g>
<circle cx="254.3" cy="314.3" r="1.3" fill="#15aebe" fill-opacity="0.85"/><circle cx="253.5" cy="261.0" r="1.3" fill="#15aebe" fill-opacity="0.85"/><circle cx="255.5" cy="312.2" r="1.3" fill="#15aebe" fill-opacity="0.85"/><circle cx="255.0" cy="344.3" r="1.3" fill="#15aebe" fill-opacity="0.85"/><circle cx="254.9" cy="297.6" r="1.3" fill="#15aebe" fill-opacity="0.85"/><circle cx="258.0" cy="305.6" r="1.3" fill="#15aebe" fill-opacity="0.85"/><circle cx="256.5" cy="326.5" r="1.3" fill="#15aebe" fill-opacity="0.85"/><circle cx="255.7" cy="318.0" r="1.3" fill="#15aebe" fill-opacity="0.85"/><circle cx="255.8" cy="298.3" r="1.3" fill="#15aebe" fill-opacity="0.85"/><circle cx="253.5" cy="255.1" r="1.3" fill="#15aebe" fill-opacity="0.85"/><circle cx="257.5" cy="352.4" r="1.3" fill="#15aebe" fill-opacity="0.85"/><circle cx="256.3" cy="260.4" r="1.3" fill="#15aebe" fill-opacity="0.85"/><circle cx="257.1" cy="317.4" r="1.3" fill="#15aebe" fill-opacity="0.85"/><circle cx="256.6" cy="255.9" r="1.3" fill="#15aebe" fill-opacity="0.85"/><circle cx="256.8" cy="285.4" r="1.3" fill="#15aebe" fill-opacity="0.85"/><circle cx="255.0" cy="349.5" r="1.3" fill="#15aebe" fill-opacity="0.85"/><circle cx="255.7" cy="255.0" r="1.3" fill="#15aebe" fill-opacity="0.85"/><circle cx="255.7" cy="357.2" r="1.3" fill="#15aebe" fill-opacity="0.85"/>
<g fill="none" stroke="#222222" stroke-width="1.1"><rect x="266.5" y="325.5" width="14.0" height="22.0"/><path d="M266.5 337.5H280.5M273.5 325.5V313.5M270.0 313.5H278.0M273.5 347.5V357.5M270.0 357.5H278.0"/></g>
<circle cx="271.3" cy="351.5" r="1.3" fill="#804f45" fill-opacity="0.85"/><circle cx="275.7" cy="340.5" r="1.3" fill="#804f45" fill-opacity="0.85"/><circle cx="272.2" cy="339.6" r="1.3" fill="#804f45" fill-opacity="0.85"/><circle cx="271.6" cy="340.0" r="1.3" fill="#804f45" fill-opacity="0.85"/><circle cx="273.2" cy="328.5" r="1.3" fill="#804f45" fill-opacity="0.85"/><circle cx="272.4" cy="335.1" r="1.3" fill="#804f45" fill-opacity="0.85"/><circle cx="272.4" cy="346.1" r="1.3" fill="#804f45" fill-opacity="0.85"/><circle cx="273.6" cy="331.7" r="1.3" fill="#804f45" fill-opacity="0.85"/><circle cx="275.4" cy="321.5" r="1.3" fill="#804f45" fill-opacity="0.85"/><circle cx="271.8" cy="348.4" r="1.3" fill="#804f45" fill-opacity="0.85"/><circle cx="272.7" cy="357.1" r="1.3" fill="#804f45" fill-opacity="0.85"/><circle cx="275.2" cy="320.4" r="1.3" fill="#804f45" fill-opacity="0.85"/><circle cx="275.3" cy="337.0" r="1.3" fill="#804f45" fill-opacity="0.85"/><circle cx="271.1" cy="342.0" r="1.3" fill="#804f45" fill-opacity="0.85"/><circle cx="274.4" cy="341.7" r="1.3" fill="#804f45" fill-opacity="0.85"/><circle cx="272.0" cy="338.8" r="1.3" fill="#804f45" fill-opacity="0.85"/><circle cx="274.1" cy="355.9" r="1.3" fill="#804f45" fill-opacity="0.85"/><circle cx="275.6" cy="331.5" r="1.3" fill="#804f45" fill-opacity="0.85"/><circle cx="274.9" cy="348.4" r="1.3" fill="#804f45" fill-opacity="0.85"/><circle cx="273.4" cy="313.4" r="1.3" fill="#804f45" fill-opacity="0.85"/><circle cx="273.4" cy="357.2" r="1.3" fill="#804f45" fill-opacity="0.85"/>
<circle cx="273.4" cy="278.4" r="1.3" fill="#804f45"/>
<circle cx="273.4" cy="292.4" r="1.3" fill="#804f45"/>
<g fill="none" stroke="#222222" stroke-width="1.1"><rect x="283.5" y="255.5" width="15.0" height="86.0"/><path d="M283.5 282.5H298.5M291.5 255.5V238.5M288.0 238.5H296.0M291.5 341.5V357.5M288.0 357.5H296.0"/></g>
<circle cx="289.3" cy="249.2" r="1.3" fill="#ea740c" fill-opacity="0.85"/><circle cx="292.9" cy="294.9" r="1.3" fill="#ea740c" fill-opacity="0.85"/><circle cx="289.7" cy="356.0" r="1.3" fill="#ea740c" fill-opacity="0.85"/><circle cx="291.8" cy="276.6" r="1.3" fill="#ea740c" fill-opacity="0.85"/><circle cx="290.3" cy="282.7" r="1.3" fill="#ea740c" fill-opacity="0.85"/><circle cx="288.9" cy="305.5" r="1.3" fill="#ea740c" fill-opacity="0.85"/><circle cx="291.1" cy="346.6" r="1.3" fill="#ea740c" fill-opacity="0.85"/><circle cx="290.9" cy="345.3" r="1.3" fill="#ea740c" fill-opacity="0.85"/><circle cx="291.4" cy="261.4" r="1.3" fill="#ea740c" fill-opacity="0.85"/><circle cx="291.6" cy="254.1" r="1.3" fill="#ea740c" fill-opacity="0.85"/><circle cx="289.1" cy="346.5" r="1.3" fill="#ea740c" fill-opacity="0.85"/><circle cx="292.4" cy="328.9" r="1.3" fill="#ea740c" fill-opacity="0.85"/><circle cx="290.7" cy="271.0" r="1.3" fill="#ea740c" fill-opacity="0.85"/><circle cx="291.3" cy="350.6" r="1.3" fill="#ea740c" fill-opacity="0.85"/><circle cx="290.3" cy="350.8" r="1.3" fill="#ea740c" fill-opacity="0.85"/><circle cx="292.1" cy="345.3" r="1.3" fill="#ea740c" fill-opacity="0.85"/><circle cx="290.2" cy="241.9" r="1.3" fill="#ea740c" fill-opacity="0.85"/><circle cx="290.9" cy="238.5" r="1.3" fill="#ea740c" fill-opacity="0.85"/><circle cx="293.2" cy="296.1" r="1.3" fill="#ea740c" fill-opacity="0.85"/><circle cx="291.0" cy="340.4" r="1.3" fill="#ea740c" fill-opacity="0.85"/><circle cx="290.4" cy="353.6" r="1.3" fill="#ea740c" fill-opacity="0.85"/><circle cx="292.3" cy="251.1" r="1.3" fill="#ea740c" fill-opacity="0.85"/><circle cx="291.1" cy="238.1" r="1.3" fill="#ea740c" fill-opacity="0.85"/><circle cx="291.1" cy="357.2" r="1.3" fill="#ea740c" fill-opacity="0.85"/>
<g fill="none" stroke="#222222" stroke-width="1.1"><rect x="301.5" y="352.5" width="14.0" height="5.0"/><path d="M301.5 355.5H315.5M308.5 352.5V345.5M305.0 345.5H313.0M308.5 357.5V360.5M305.0 360.5H313.0"/></g>
<circle cx="304.4" cy="357.1" r="1.3" fill="#885ead" fill-opacity="0.85"/><circle cx="309.4" cy="354.7" r="1.3" fill="#885ead" fill-opacity="0.85"/><circle cx="307.2" cy="352.6" r="1.3" fill="#885ead" fill-opacity="0.85"/><circle cx="311.6" cy="356.3" r="1.3" fill="#885ead" fill-opacity="0.85"/><circle cx="303.1" cy="351.2" r="1.3" fill="#885ead" fill-opacity="0.85"/><circle cx="314.6" cy="350.7" r="1.3" fill="#885ead" fill-opacity="0.85"/><circle cx="306.9" cy="354.1" r="1.3" fill="#885ead" fill-opacity="0.85"/><circle cx="306.7" cy="349.2" r="1.3" fill="#885ead" fill-opacity="0.85"/><circle cx="311.6" cy="351.6" r="1.3" fill="#885ead" fill-opacity="0.85"/><circle cx="307.6" cy="354.0" r="1.3" fill="#885ead" fill-opacity="0.85"/><circle cx="309.5" cy="351.9" r="1.3" fill="#885ead" fill-opacity="0.85"/><circle cx="314.1" cy="352.7" r="1.3" fill="#885ead" fill-opacity="0.85"/><circle cx="305.8" cy="357.8" r="1.3" fill="#885ead" fill-opacity="0.85"/><circle cx="305.6" cy="355.1" r="1.3" fill="#885ead" fill-opacity="0.85"/><circle cx="310.5" cy="353.5" r="1.3" fill="#885ead" fill-opacity="0.85"/><circle cx="305.4" cy="352.3" r="1.3" fill="#885ead" fill-opacity="0.85"/><circle cx="313.1" cy="357.6" r="1.3" fill="#885ead" fill-opacity="0.85"/><circle cx="311.8" cy="350.5" r="1.3" fill="#885ead" fill-opacity="0.85"/><circle cx="306.8" cy="350.4" r="1.3" fill="#885ead" fill-opacity="0.85"/><circle cx="304.7" cy="352.8" r="1.3" fill="#885ead" fill-opacity="0.85"/><circle cx="308.2" cy="358.9" r="1.3" fill="#885ead" fill-opacity="0.85"/><circle cx="305.3" cy="359.7" r="1.3" fill="#885ead" fill-opacity="0.85"/><circle cx="312.1" cy="349.8" r="1.3" fill="#885ead" fill-opacity="0.85"/><circle cx="313.1" cy="351.1" r="1.3" fill="#885ead" fill-opacity="0.85"/><circle cx="303.1" cy="350.3" r="1.3" fill="#885ead" fill-opacity="0.85"/><circle cx="302.9" cy="352.4" r="1.3" fill="#885ead" fill-opacity="0.85"/><circle cx="311.6" cy="351.3" r="1.3" fill="#885ead" fill-opacity="0.85"/><circle cx="311.0" cy="356.4" r="1.3" fill="#885ead" fill-opacity="0.85"/><circle cx="313.8" cy="355.5" r="1.3" fill="#885ead" fill-opacity="0.85"/><circle cx="314.5" cy="359.7" r="1.3" fill="#885ead" fill-opacity="0.85"/><circle cx="312.3" cy="356.1" r="1.3" fill="#885ead" fill-opacity="0.85"/><circle cx="308.8" cy="357.3" r="1.3" fill="#885ead" fill-opacity="0.85"/><circle cx="304.0" cy="355.1" r="1.3" fill="#885ead" fill-opacity="0.85"/><circle cx="306.6" cy="352.3" r="1.3" fill="#885ead" fill-opacity="0.85"/><circle cx="308.8" cy="345.5" r="1.3" fill="#885ead" fill-opacity="0.85"/><circle cx="308.8" cy="360.0" r="1.3" fill="#885ead" fill-opacity="0.85"/>
<circle cx="308.8" cy="333.0" r="1.3" fill="#885ead"/>
<circle cx="308.8" cy="337.0" r="1.3" fill="#885ead"/>
<circle cx="308.8" cy="340.0" r="1.3" fill="#885ead"/>
<g fill="none" stroke="#222222" stroke-width="1.1"><rect x="319.5" y="323.5" width="14.0" height="15.0"/><path d="M319.5 338.5H333.5M326.5 323.5V320.5M323.0 320.5H331.0M326.5 338.5V354.5M323.0 354.5H331.0"/></g>
<circle cx="326.4" cy="323.3" r="1.3" fill="#c42324" fill-opacity="0.85"/><circle cx="323.9" cy="332.3" r="1.3" fill="#c42324" fill-opacity="0.85"/><circle cx="328.4" cy="341.1" r="1.3" fill="#c42324" fill-opacity="0.85"/><circle cx="325.3" cy="340.5" r="1.3" fill="#c42324" fill-opacity="0.85"/><circle cx="325.3" cy="324.8" r="1.3" fill="#c42324" fill-opacity="0.85"/><circle cx="329.5" cy="324.1" r="1.3" fill="#c42324" fill-opacity="0.85"/><circle cx="323.9" cy="343.0" r="1.3" fill="#c42324" fill-opacity="0.85"/><circle cx="322.8" cy="337.8" r="1.3" fill="#c42324" fill-opacity="0.85"/><circle cx="326.9" cy="345.1" r="1.3" fill="#c42324" fill-opacity="0.85"/><circle cx="326.5" cy="320.7" r="1.3" fill="#c42324" fill-opacity="0.85"/><circle cx="326.5" cy="354.3" r="1.3" fill="#c42324" fill-opacity="0.85"/>
<circle cx="326.5" cy="252.7" r="1.3" fill="#c42324"/>
<g fill="none" stroke="#222222" stroke-width="1.1"><rect x="337.5" y="279.5" width="14.0" height="48.0"/><path d="M337.5 307.5H351.5M344.5 279.5V250.5M341.0 250.5H349.0M344.5 327.5V362.5M341.0 362.5H349.0"/></g>
<circle cx="345.1" cy="326.7" r="1.3" fill="#747474" fill-opacity="0.85"/><circle cx="344.4" cy="346.4" r="1.3" fill="#747474" fill-opacity="0.85"/><circle cx="346.0" cy="361.9" r="1.3" fill="#747474" fill-opacity="0.85"/><circle cx="343.3" cy="341.3" r="1.3" fill="#747474" fill-opacity="0.85"/><circle cx="343.6" cy="280.6" r="1.3" fill="#747474" fill-opacity="0.85"/><circle cx="342.5" cy="307.6" r="1.3" fill="#747474" fill-opacity="0.85"/><circle cx="344.7" cy="279.1" r="1.3" fill="#747474" fill-opacity="0.85"/><circle cx="344.7" cy="271.8" r="1.3" fill="#747474" fill-opacity="0.85"/><circle cx="342.7" cy="315.7" r="1.3" fill="#747474" fill-opacity="0.85"/><circle cx="345.5" cy="286.8" r="1.3" fill="#747474" fill-opacity="0.85"/><circle cx="345.1" cy="277.8" r="1.3" fill="#747474" fill-opacity="0.85"/><circle cx="344.4" cy="296.2" r="1.3" fill="#747474" fill-opacity="0.85"/><circle cx="341.8" cy="280.7" r="1.3" fill="#747474" fill-opacity="0.85"/><circle cx="344.2" cy="357.3" r="1.3" fill="#747474" fill-opacity="0.85"/><circle cx="342.9" cy="362.3" r="1.3" fill="#747474" fill-opacity="0.85"/><circle cx="344.2" cy="250.0" r="1.3" fill="#747474" fill-opacity="0.85"/><circle cx="344.2" cy="362.5" r="1.3" fill="#747474" fill-opacity="0.85"/>
<g fill="none" stroke="#222222" stroke-width="1.1"><rect x="354.5" y="258.5" width="14.0" height="67.0"/><path d="M354.5 280.5H368.5M361.5 258.5V239.5M358.0 239.5H366.0M361.5 325.5V350.5M358.0 350.5H366.0"/></g>
<circle cx="361.3" cy="343.6" r="1.3" fill="#d06db2" fill-opacity="0.85"/><circle cx="362.0" cy="334.9" r="1.3" fill="#d06db2" fill-opacity="0.85"/><circle cx="361.0" cy="342.0" r="1.3" fill="#d06db2" fill-opacity="0.85"/><circle cx="360.5" cy="338.6" r="1.3" fill="#d06db2" fill-opacity="0.85"/><circle cx="363.8" cy="331.7" r="1.3" fill="#d06db2" fill-opacity="0.85"/><circle cx="362.0" cy="277.3" r="1.3" fill="#d06db2" fill-opacity="0.85"/><circle cx="360.1" cy="310.4" r="1.3" fill="#d06db2" fill-opacity="0.85"/><circle cx="362.0" cy="248.6" r="1.3" fill="#d06db2" fill-opacity="0.85"/><circle cx="360.6" cy="345.4" r="1.3" fill="#d06db2" fill-opacity="0.85"/><circle cx="361.7" cy="270.6" r="1.3" fill="#d06db2" fill-opacity="0.85"/><circle cx="363.8" cy="345.7" r="1.3" fill="#d06db2" fill-opacity="0.85"/><circle cx="361.3" cy="258.0" r="1.3" fill="#d06db2" fill-opacity="0.85"/><circle cx="361.9" cy="239.6" r="1.3" fill="#d06db2" fill-opacity="0.85"/><circle cx="361.9" cy="350.0" r="1.3" fill="#d06db2" fill-opacity="0.85"/>
<g fill="none" stroke="#222222" stroke-width="1.1"><rect x="372.5" y="258.5" width="14.0" height="73.0"/><path d="M372.5 307.5H386.5M379.5 258.5V237.5M376.0 237.5H384.0M379.5 331.5V360.5M376.0 360.5H384.0"/></g>
<circle cx="377.7" cy="241.2" r="1.3" fill="#804f45" fill-opacity="0.85"/><circle cx="377.6" cy="312.6" r="1.3" fill="#804f45" fill-opacity="0.85"/><circle cx="379.7" cy="272.4" r="1.3" fill="#804f45" fill-opacity="0.85"/><circle cx="379.1" cy="324.6" r="1.3" fill="#804f45" fill-opacity="0.85"/><circle cx="379.3" cy="243.8" r="1.3" fill="#804f45" fill-opacity="0.85"/><circle cx="380.8" cy="272.7" r="1.3" fill="#804f45" fill-opacity="0.85"/><circle cx="378.9" cy="281.3" r="1.3" fill="#804f45" fill-opacity="0.85"/><circle cx="378.9" cy="338.1" r="1.3" fill="#804f45" fill-opacity="0.85"/><circle cx="377.2" cy="303.2" r="1.3" fill="#804f45" fill-opacity="0.85"/><circle cx="377.4" cy="289.3" r="1.3" fill="#804f45" fill-opacity="0.85"/><circle cx="378.5" cy="278.6" r="1.3" fill="#804f45" fill-opacity="0.85"/><circle cx="381.2" cy="313.3" r="1.3" fill="#804f45" fill-opacity="0.85"/><circle cx="381.3" cy="284.6" r="1.3" fill="#804f45" fill-opacity="0.85"/><circle cx="381.0" cy="300.1" r="1.3" fill="#804f45" fill-opacity="0.85"/><circle cx="377.4" cy="342.0" r="1.3" fill="#804f45" fill-opacity="0.85"/><circle cx="380.6" cy="304.2" r="1.3" fill="#804f45" fill-opacity="0.85"/><circle cx="380.3" cy="301.2" r="1.3" fill="#804f45" fill-opacity="0.85"/><circle cx="379.0" cy="250.8" r="1.3" fill="#804f45" fill-opacity="0.85"/><circle cx="378.1" cy="358.5" r="1.3" fill="#804f45" fill-opacity="0.85"/><circle cx="378.9" cy="243.4" r="1.3" fill="#804f45" fill-opacity="0.85"/><circle cx="377.5" cy="340.8" r="1.3" fill="#804f45" fill-opacity="0.85"/><circle cx="379.7" cy="250.2" r="1.3" fill="#804f45" fill-opacity="0.85"/><circle cx="380.8" cy="265.2" r="1.3" fill="#804f45" fill-opacity="0.85"/><circle cx="379.4" cy="287.7" r="1.3" fill="#804f45" fill-opacity="0.85"/><circle cx="379.1" cy="269.7" r="1.3" fill="#804f45" fill-opacity="0.85"/><circle cx="379.3" cy="266.0" r="1.3" fill="#804f45" fill-opacity="0.85"/><circle cx="381.1" cy="293.6" r="1.3" fill="#804f45" fill-opacity="0.85"/><circle cx="379.1" cy="353.0" r="1.3" fill="#804f45" fill-opacity="0.85"/><circle cx="379.8" cy="281.4" r="1.3" fill="#804f45" fill-opacity="0.85"/><circle cx="377.7" cy="242.2" r="1.3" fill="#804f45" fill-opacity="0.85"/><circle cx="381.1" cy="325.4" r="1.3" fill="#804f45" fill-opacity="0.85"/><circle cx="380.8" cy="324.6" r="1.3" fill="#804f45" fill-opacity="0.85"/><circle cx="380.4" cy="332.6" r="1.3" fill="#804f45" fill-opacity="0.85"/><circle cx="377.4" cy="345.3" r="1.3" fill="#804f45" fill-opacity="0.85"/><circle cx="380.0" cy="343.4" r="1.3" fill="#804f45" fill-opacity="0.85"/><circle cx="381.3" cy="241.3" r="1.3" fill="#804f45" fill-opacity="0.85"/><circle cx="379.6" cy="306.6" r="1.3" fill="#804f45" fill-opacity="0.85"/><circle cx="378.5" cy="258.8" r="1.3" fill="#804f45" fill-opacity="0.85"/><circle cx="378.4" cy="308.1" r="1.3" fill="#804f45" fill-opacity="0.85"/><circle cx="379.6" cy="246.6" r="1.3" fill="#804f45" fill-opacity="0.85"/><circle cx="378.6" cy="327.3" r="1.3" fill="#804f45" fill-opacity="0.85"/><circle cx="381.3" cy="241.6" r="1.3" fill="#804f45" fill-opacity="0.85"/><circle cx="377.4" cy="316.3" r="1.3" fill="#804f45" fill-opacity="0.85"/><circle cx="379.4" cy="342.1" r="1.3" fill="#804f45" fill-opacity="0.85"/><circle cx="378.9" cy="288.4" r="1.3" fill="#804f45" fill-opacity="0.85"/><circle cx="381.6" cy="253.9" r="1.3" fill="#804f45" fill-opacity="0.85"/><circle cx="378.7" cy="332.5" r="1.3" fill="#804f45" fill-opacity="0.85"/><circle cx="379.9" cy="343.1" r="1.3" fill="#804f45" fill-opacity="0.85"/><circle cx="381.0" cy="311.0" r="1.3" fill="#804f45" fill-opacity="0.85"/><circle cx="381.0" cy="279.1" r="1.3" fill="#804f45" fill-opacity="0.85"/><circle cx="381.6" cy="344.5" r="1.3" fill="#804f45" fill-opacity="0.85"/><circle cx="377.4" cy="266.9" r="1.3" fill="#804f45" fill-opacity="0.85"/><circle cx="377.4" cy="284.3" r="1.3" fill="#804f45" fill-opacity="0.85"/><circle cx="380.0" cy="256.5" r="1.3" fill="#804f45" fill-opacity="0.85"/><circle cx="379.8" cy="263.7" r="1.3" fill="#804f45" fill-opacity="0.85"/><circle cx="380.4" cy="247.8" r="1.3" fill="#804f45" fill-opacity="0.85"/><circle cx="378.2" cy="339.8" r="1.3" fill="#804f45" fill-opacity="0.85"/><circle cx="379.6" cy="237.5" r="1.3" fill="#804f45" fill-opacity="0.85"/><circle cx="379.6" cy="360.7" r="1.3" fill="#804f45" fill-opacity="0.85"/>
<text x="112.65" y="379.80" font-size="10.90" text-anchor="end" textLength="44.52" lengthAdjust="spacingAndGlyphs" transform="rotate(-45 112.65 379.80)">Lifestyle</text>
<text x="130.34" y="379.80" font-size="10.90" text-anchor="end" textLength="21.78" lengthAdjust="spacingAndGlyphs" transform="rotate(-45 130.34 379.80)">Diet</text>
<text x="148.03" y="379.80" font-size="10.90" text-anchor="end" textLength="92.42" lengthAdjust="spacingAndGlyphs" transform="rotate(-45 148.03 379.80)">Insulin resistance</text>
<text x="165.73" y="379.80" font-size="10.90" text-anchor="end" textLength="120.56" lengthAdjust="spacingAndGlyphs" transform="rotate(-45 165.73 379.80)">Cardiovascular system</text>
<text x="183.42" y="379.80" font-size="10.90" text-anchor="end" textLength="83.68" lengthAdjust="spacingAndGlyphs" transform="rotate(-45 183.42 379.80)">Gut MB families</text>
<text x="201.12" y="379.80" font-size="10.90" text-anchor="end" textLength="119.26" lengthAdjust="spacingAndGlyphs" transform="rotate(-45 201.12 379.80)">Hematopoietic system</text>
<text x="218.81" y="379.80" font-size="10.90" text-anchor="end" textLength="70.67" lengthAdjust="spacingAndGlyphs" transform="rotate(-45 218.81 379.80)">Bone Density</text>
<text x="236.50" y="379.80" font-size="10.90" text-anchor="end" textLength="61.10" lengthAdjust="spacingAndGlyphs" transform="rotate(-45 236.50 379.80)">Blood lipids</text>
<text x="254.20" y="379.80" font-size="10.90" text-anchor="end" textLength="96.33" lengthAdjust="spacingAndGlyphs" transform="rotate(-45 254.20 379.80)">Body Composition</text>
<text x="271.89" y="379.80" font-size="10.90" text-anchor="end" textLength="32.50" lengthAdjust="spacingAndGlyphs" transform="rotate(-45 271.89 379.80)">Frailty</text>
<text x="289.58" y="379.80" font-size="10.90" text-anchor="end" textLength="85.43" lengthAdjust="spacingAndGlyphs" transform="rotate(-45 289.58 379.80)">Immune system</text>
<text x="307.28" y="379.80" font-size="10.90" text-anchor="end" textLength="72.91" lengthAdjust="spacingAndGlyphs" transform="rotate(-45 307.28 379.80)">Mental health</text>
<text x="324.97" y="379.80" font-size="10.90" text-anchor="end" textLength="126.65" lengthAdjust="spacingAndGlyphs" transform="rotate(-45 324.97 379.80)">MB metabolic pathways</text>
<text x="342.67" y="379.80" font-size="10.90" text-anchor="end" textLength="76.24" lengthAdjust="spacingAndGlyphs" transform="rotate(-45 342.67 379.80)">Renal function</text>
<text x="360.36" y="379.80" font-size="10.90" text-anchor="end" textLength="62.93" lengthAdjust="spacingAndGlyphs" transform="rotate(-45 360.36 379.80)">Liver health</text>
<text x="378.05" y="379.80" font-size="10.90" text-anchor="end" textLength="63.49" lengthAdjust="spacingAndGlyphs" transform="rotate(-45 378.05 379.80)">Medications</text>
<text x="67.6" y="298.5" font-size="10.90" text-anchor="middle" transform="rotate(-90 67.6 298.5)" textLength="58.12" lengthAdjust="spacingAndGlyphs">(Pearson <tspan font-style="italic">r</tspan>)</text>
<path d="M105.3 510.4V651.6H388.4" fill="none" stroke="#6a6a6a" stroke-width="1"/>
<path d="M114.1 651.6v3" stroke="#6a6a6a" stroke-width="1"/>
<path d="M131.8 651.6v3" stroke="#6a6a6a" stroke-width="1"/>
<path d="M149.5 651.6v3" stroke="#6a6a6a" stroke-width="1"/>
<path d="M167.2 651.6v3" stroke="#6a6a6a" stroke-width="1"/>
<path d="M184.9 651.6v3" stroke="#6a6a6a" stroke-width="1"/>
<path d="M202.6 651.6v3" stroke="#6a6a6a" stroke-width="1"/>
<path d="M220.3 651.6v3" stroke="#6a6a6a" stroke-width="1"/>
<path d="M238.0 651.6v3" stroke="#6a6a6a" stroke-width="1"/>
<path d="M255.7 651.6v3" stroke="#6a6a6a" stroke-width="1"/>
<path d="M273.4 651.6v3" stroke="#6a6a6a" stroke-width="1"/>
<path d="M291.1 651.6v3" stroke="#6a6a6a" stroke-width="1"/>
<path d="M308.8 651.6v3" stroke="#6a6a6a" stroke-width="1"/>
<path d="M326.5 651.6v3" stroke="#6a6a6a" stroke-width="1"/>
<path d="M344.2 651.6v3" stroke="#6a6a6a" stroke-width="1"/>
<path d="M361.9 651.6v3" stroke="#6a6a6a" stroke-width="1"/>
<path d="M379.6 651.6v3" stroke="#6a6a6a" stroke-width="1"/>
<text x="101.30" y="648.80" font-size="10.90" text-anchor="end" textLength="23.60" lengthAdjust="spacingAndGlyphs">0.00</text>
<text x="101.30" y="537.90" font-size="10.90" text-anchor="end" textLength="23.60" lengthAdjust="spacingAndGlyphs">0.05</text>
<g fill="none" stroke="#222222" stroke-width="1.1"><rect x="107.5" y="616.5" width="14.0" height="15.0"/><path d="M107.5 621.5H121.5M114.5 616.5V603.5M111.0 603.5H119.0M114.5 631.5V641.5M111.0 641.5H119.0"/></g>
<circle cx="117.5" cy="614.3" r="1.3" fill="#ea740c" fill-opacity="0.85"/><circle cx="110.9" cy="631.2" r="1.3" fill="#ea740c" fill-opacity="0.85"/><circle cx="113.5" cy="604.1" r="1.3" fill="#ea740c" fill-opacity="0.85"/><circle cx="117.4" cy="634.0" r="1.3" fill="#ea740c" fill-opacity="0.85"/><circle cx="110.6" cy="633.0" r="1.3" fill="#ea740c" fill-opacity="0.85"/><circle cx="116.8" cy="631.9" r="1.3" fill="#ea740c" fill-opacity="0.85"/><circle cx="114.8" cy="630.2" r="1.3" fill="#ea740c" fill-opacity="0.85"/><circle cx="111.4" cy="625.8" r="1.3" fill="#ea740c" fill-opacity="0.85"/><circle cx="116.9" cy="612.1" r="1.3" fill="#ea740c" fill-opacity="0.85"/><circle cx="118.0" cy="621.0" r="1.3" fill="#ea740c" fill-opacity="0.85"/><circle cx="113.2" cy="631.5" r="1.3" fill="#ea740c" fill-opacity="0.85"/><circle cx="114.5" cy="633.7" r="1.3" fill="#ea740c" fill-opacity="0.85"/><circle cx="116.0" cy="627.3" r="1.3" fill="#ea740c" fill-opacity="0.85"/><circle cx="111.1" cy="623.6" r="1.3" fill="#ea740c" fill-opacity="0.85"/><circle cx="114.1" cy="603.5" r="1.3" fill="#ea740c" fill-opacity="0.85"/><circle cx="114.1" cy="641.2" r="1.3" fill="#ea740c" fill-opacity="0.85"/>
<g fill="none" stroke="#222222" stroke-width="1.1"><rect x="124.5" y="583.5" width="14.0" height="52.0"/><path d="M124.5 623.5H138.5M131.5 583.5V562.5M128.0 562.5H136.0M131.5 635.5V641.5M128.0 641.5H136.0"/></g>
<circle cx="133.9" cy="580.9" r="1.3" fill="#c42324" fill-opacity="0.85"/><circle cx="132.0" cy="563.9" r="1.3" fill="#c42324" fill-opacity="0.85"/><circle cx="133.0" cy="626.6" r="1.3" fill="#c42324" fill-opacity="0.85"/><circle cx="129.9" cy="589.4" r="1.3" fill="#c42324" fill-opacity="0.85"/><circle cx="132.3" cy="594.8" r="1.3" fill="#c42324" fill-opacity="0.85"/><circle cx="130.1" cy="635.8" r="1.3" fill="#c42324" fill-opacity="0.85"/><circle cx="133.5" cy="592.5" r="1.3" fill="#c42324" fill-opacity="0.85"/><circle cx="129.6" cy="589.9" r="1.3" fill="#c42324" fill-opacity="0.85"/><circle cx="131.1" cy="641.6" r="1.3" fill="#c42324" fill-opacity="0.85"/><circle cx="129.7" cy="569.7" r="1.3" fill="#c42324" fill-opacity="0.85"/><circle cx="130.6" cy="621.9" r="1.3" fill="#c42324" fill-opacity="0.85"/><circle cx="133.2" cy="636.4" r="1.3" fill="#c42324" fill-opacity="0.85"/><circle cx="132.1" cy="634.6" r="1.3" fill="#c42324" fill-opacity="0.85"/><circle cx="133.2" cy="616.4" r="1.3" fill="#c42324" fill-opacity="0.85"/><circle cx="129.6" cy="638.2" r="1.3" fill="#c42324" fill-opacity="0.85"/><circle cx="132.5" cy="635.8" r="1.3" fill="#c42324" fill-opacity="0.85"/><circle cx="131.1" cy="614.8" r="1.3" fill="#c42324" fill-opacity="0.85"/><circle cx="130.2" cy="609.4" r="1.3" fill="#c42324" fill-opacity="0.85"/><circle cx="131.0" cy="588.4" r="1.3" fill="#c42324" fill-opacity="0.85"/><circle cx="131.7" cy="565.2" r="1.3" fill="#c42324" fill-opacity="0.85"/><circle cx="133.7" cy="634.3" r="1.3" fill="#c42324" fill-opacity="0.85"/><circle cx="132.0" cy="619.5" r="1.3" fill="#c42324" fill-opacity="0.85"/><circle cx="130.2" cy="621.0" r="1.3" fill="#c42324" fill-opacity="0.85"/><circle cx="131.2" cy="638.5" r="1.3" fill="#c42324" fill-opacity="0.85"/><circle cx="130.4" cy="624.1" r="1.3" fill="#c42324" fill-opacity="0.85"/><circle cx="133.6" cy="630.6" r="1.3" fill="#c42324" fill-opacity="0.85"/><circle cx="129.5" cy="641.1" r="1.3" fill="#c42324" fill-opacity="0.85"/><circle cx="133.2" cy="573.2" r="1.3" fill="#c42324" fill-opacity="0.85"/><circle cx="130.5" cy="639.7" r="1.3" fill="#c42324" fill-opacity="0.85"/><circle cx="130.7" cy="580.2" r="1.3" fill="#c42324" fill-opacity="0.85"/><circle cx="131.9" cy="624.6" r="1.3" fill="#c42324" fill-opacity="0.85"/><circle cx="129.8" cy="592.7" r="1.3" fill="#c42324" fill-opacity="0.85"/><circle cx="131.8" cy="562.6" r="1.3" fill="#c42324" fill-opacity="0.85"/><circle cx="131.8" cy="641.8" r="1.3" fill="#c42324" fill-opacity="0.85"/>
<g fill="none" stroke="#222222" stroke-width="1.1"><rect x="142.5" y="611.5" width="14.0" height="27.0"/><path d="M142.5 631.5H156.5M149.5 611.5V595.5M146.0 595.5H154.0M149.5 638.5V644.5M146.0 644.5H154.0"/></g>
<circle cx="150.0" cy="639.8" r="1.3" fill="#bcbd22" fill-opacity="0.85"/><circle cx="147.4" cy="599.8" r="1.3" fill="#bcbd22" fill-opacity="0.85"/><circle cx="151.9" cy="627.1" r="1.3" fill="#bcbd22" fill-opacity="0.85"/><circle cx="150.5" cy="626.4" r="1.3" fill="#bcbd22" fill-opacity="0.85"/><circle cx="151.0" cy="605.7" r="1.3" fill="#bcbd22" fill-opacity="0.85"/><circle cx="147.2" cy="614.8" r="1.3" fill="#bcbd22" fill-opacity="0.85"/><circle cx="149.1" cy="604.6" r="1.3" fill="#bcbd22" fill-opacity="0.85"/><circle cx="150.7" cy="636.0" r="1.3" fill="#bcbd22" fill-opacity="0.85"/><circle cx="148.8" cy="639.3" r="1.3" fill="#bcbd22" fill-opacity="0.85"/><circle cx="148.2" cy="636.8" r="1.3" fill="#bcbd22" fill-opacity="0.85"/><circle cx="151.9" cy="612.3" r="1.3" fill="#bcbd22" fill-opacity="0.85"/><circle cx="149.5" cy="603.5" r="1.3" fill="#bcbd22" fill-opacity="0.85"/><circle cx="150.7" cy="596.7" r="1.3" fill="#bcbd22" fill-opacity="0.85"/><circle cx="150.1" cy="639.6" r="1.3" fill="#bcbd22" fill-opacity="0.85"/><circle cx="147.6" cy="598.6" r="1.3" fill="#bcbd22" fill-opacity="0.85"/><circle cx="147.9" cy="640.4" r="1.3" fill="#bcbd22" fill-opacity="0.85"/><circle cx="150.7" cy="600.4" r="1.3" fill="#bcbd22" fill-opacity="0.85"/><circle cx="151.6" cy="618.7" r="1.3" fill="#bcbd22" fill-opacity="0.85"/><circle cx="151.1" cy="599.3" r="1.3" fill="#bcbd22" fill-opacity="0.85"/><circle cx="149.2" cy="601.8" r="1.3" fill="#bcbd22" fill-opacity="0.85"/><circle cx="151.3" cy="598.6" r="1.3" fill="#bcbd22" fill-opacity="0.85"/><circle cx="149.7" cy="613.0" r="1.3" fill="#bcbd22" fill-opacity="0.85"/><circle cx="151.8" cy="609.3" r="1.3" fill="#bcbd22" fill-opacity="0.85"/><circle cx="151.2" cy="607.2" r="1.3" fill="#bcbd22" fill-opacity="0.85"/><circle cx="149.3" cy="636.8" r="1.3" fill="#bcbd22" fill-opacity="0.85"/><circle cx="151.5" cy="630.3" r="1.3" fill="#bcbd22" fill-opacity="0.85"/><circle cx="149.0" cy="642.4" r="1.3" fill="#bcbd22" fill-opacity="0.85"/><circle cx="150.4" cy="598.5" r="1.3" fill="#bcbd22" fill-opacity="0.85"/><circle cx="149.1" cy="598.0" r="1.3" fill="#bcbd22" fill-opacity="0.85"/><circle cx="151.1" cy="625.3" r="1.3" fill="#bcbd22" fill-opacity="0.85"/><circle cx="151.1" cy="627.2" r="1.3" fill="#bcbd22" fill-opacity="0.85"/><circle cx="149.5" cy="611.1" r="1.3" fill="#bcbd22" fill-opacity="0.85"/><circle cx="151.0" cy="637.9" r="1.3" fill="#bcbd22" fill-opacity="0.85"/><circle cx="149.3" cy="626.9" r="1.3" fill="#bcbd22" fill-opacity="0.85"/><circle cx="148.8" cy="636.5" r="1.3" fill="#bcbd22" fill-opacity="0.85"/><circle cx="148.5" cy="601.3" r="1.3" fill="#bcbd22" fill-opacity="0.85"/><circle cx="150.5" cy="635.5" r="1.3" fill="#bcbd22" fill-opacity="0.85"/><circle cx="151.0" cy="625.0" r="1.3" fill="#bcbd22" fill-opacity="0.85"/><circle cx="147.3" cy="624.2" r="1.3" fill="#bcbd22" fill-opacity="0.85"/><circle cx="148.4" cy="608.3" r="1.3" fill="#bcbd22" fill-opacity="0.85"/><circle cx="149.5" cy="595.2" r="1.3" fill="#bcbd22" fill-opacity="0.85"/><circle cx="149.5" cy="644.0" r="1.3" fill="#bcbd22" fill-opacity="0.85"/>
<g fill="none" stroke="#222222" stroke-width="1.1"><rect x="160.5" y="635.5" width="14.0" height="4.0"/><path d="M160.5 637.5H174.5M167.5 635.5V630.5M164.0 630.5H172.0M167.5 639.5V643.5M164.0 643.5H172.0"/></g>
<circle cx="163.9" cy="633.6" r="1.3" fill="#d06db2" fill-opacity="0.85"/><circle cx="172.0" cy="632.6" r="1.3" fill="#d06db2" fill-opacity="0.85"/><circle cx="172.7" cy="638.2" r="1.3" fill="#d06db2" fill-opacity="0.85"/><circle cx="163.5" cy="643.0" r="1.3" fill="#d06db2" fill-opacity="0.85"/><circle cx="167.6" cy="634.5" r="1.3" fill="#d06db2" fill-opacity="0.85"/><circle cx="172.6" cy="639.4" r="1.3" fill="#d06db2" fill-opacity="0.85"/><circle cx="164.2" cy="636.5" r="1.3" fill="#d06db2" fill-opacity="0.85"/><circle cx="167.9" cy="639.5" r="1.3" fill="#d06db2" fill-opacity="0.85"/><circle cx="165.7" cy="633.0" r="1.3" fill="#d06db2" fill-opacity="0.85"/><circle cx="169.2" cy="631.4" r="1.3" fill="#d06db2" fill-opacity="0.85"/><circle cx="166.6" cy="637.6" r="1.3" fill="#d06db2" fill-opacity="0.85"/><circle cx="169.2" cy="633.6" r="1.3" fill="#d06db2" fill-opacity="0.85"/><circle cx="167.5" cy="640.9" r="1.3" fill="#d06db2" fill-opacity="0.85"/><circle cx="167.2" cy="642.7" r="1.3" fill="#d06db2" fill-opacity="0.85"/><circle cx="161.9" cy="635.4" r="1.3" fill="#d06db2" fill-opacity="0.85"/><circle cx="167.9" cy="632.3" r="1.3" fill="#d06db2" fill-opacity="0.85"/><circle cx="171.9" cy="636.9" r="1.3" fill="#d06db2" fill-opacity="0.85"/><circle cx="161.6" cy="642.1" r="1.3" fill="#d06db2" fill-opacity="0.85"/><circle cx="172.7" cy="639.5" r="1.3" fill="#d06db2" fill-opacity="0.85"/><circle cx="168.3" cy="634.6" r="1.3" fill="#d06db2" fill-opacity="0.85"/><circle cx="165.9" cy="639.8" r="1.3" fill="#d06db2" fill-opacity="0.85"/><circle cx="164.6" cy="641.8" r="1.3" fill="#d06db2" fill-opacity="0.85"/><circle cx="167.8" cy="633.9" r="1.3" fill="#d06db2" fill-opacity="0.85"/><circle cx="169.0" cy="635.4" r="1.3" fill="#d06db2" fill-opacity="0.85"/><circle cx="165.8" cy="632.3" r="1.3" fill="#d06db2" fill-opacity="0.85"/><circle cx="169.5" cy="632.1" r="1.3" fill="#d06db2" fill-opacity="0.85"/><circle cx="168.1" cy="639.4" r="1.3" fill="#d06db2" fill-opacity="0.85"/><circle cx="165.4" cy="631.8" r="1.3" fill="#d06db2" fill-opacity="0.85"/><circle cx="167.2" cy="630.9" r="1.3" fill="#d06db2" fill-opacity="0.85"/><circle cx="167.2" cy="643.0" r="1.3" fill="#d06db2" fill-opacity="0.85"/>
<g fill="none" stroke="#222222" stroke-width="1.1"><rect x="177.5" y="628.5" width="15.0" height="10.0"/><path d="M177.5 637.5H192.5M184.5 628.5V617.5M181.0 617.5H189.0M184.5 638.5V641.5M181.0 641.5H189.0"/></g>
<circle cx="187.9" cy="635.3" r="1.3" fill="#885ead" fill-opacity="0.85"/><circle cx="182.3" cy="632.6" r="1.3" fill="#885ead" fill-opacity="0.85"/><circle cx="183.3" cy="638.4" r="1.3" fill="#885ead" fill-opacity="0.85"/><circle cx="188.6" cy="629.2" r="1.3" fill="#885ead" fill-opacity="0.85"/><circle cx="188.5" cy="637.2" r="1.3" fill="#885ead" fill-opacity="0.85"/><circle cx="184.4" cy="637.1" r="1.3" fill="#885ead" fill-opacity="0.85"/><circle cx="184.1" cy="637.5" r="1.3" fill="#885ead" fill-opacity="0.85"/><circle cx="183.1" cy="629.3" r="1.3" fill="#885ead" fill-opacity="0.85"/><circle cx="184.5" cy="630.2" r="1.3" fill="#885ead" fill-opacity="0.85"/><circle cx="187.2" cy="621.3" r="1.3" fill="#885ead" fill-opacity="0.85"/><circle cx="187.0" cy="638.1" r="1.3" fill="#885ead" fill-opacity="0.85"/><circle cx="186.3" cy="634.9" r="1.3" fill="#885ead" fill-opacity="0.85"/><circle cx="183.8" cy="625.5" r="1.3" fill="#885ead" fill-opacity="0.85"/><circle cx="184.9" cy="617.1" r="1.3" fill="#885ead" fill-opacity="0.85"/><circle cx="184.9" cy="641.8" r="1.3" fill="#885ead" fill-opacity="0.85"/>
<circle cx="184.9" cy="605.0" r="1.3" fill="#885ead"/>
<g fill="none" stroke="#222222" stroke-width="1.1"><rect x="195.5" y="632.5" width="14.0" height="9.0"/><path d="M195.5 637.5H209.5M202.5 632.5V626.5M199.0 626.5H207.0M202.5 641.5V643.5M199.0 643.5H207.0"/></g>
<circle cx="200.9" cy="628.8" r="1.3" fill="#289328" fill-opacity="0.85"/><circle cx="204.8" cy="641.7" r="1.3" fill="#289328" fill-opacity="0.85"/><circle cx="203.1" cy="634.5" r="1.3" fill="#289328" fill-opacity="0.85"/><circle cx="200.7" cy="632.9" r="1.3" fill="#289328" fill-opacity="0.85"/><circle cx="203.0" cy="641.1" r="1.3" fill="#289328" fill-opacity="0.85"/><circle cx="201.9" cy="627.9" r="1.3" fill="#289328" fill-opacity="0.85"/><circle cx="201.1" cy="631.3" r="1.3" fill="#289328" fill-opacity="0.85"/><circle cx="202.6" cy="626.0" r="1.3" fill="#289328" fill-opacity="0.85"/><circle cx="202.6" cy="643.0" r="1.3" fill="#289328" fill-opacity="0.85"/>
<g fill="none" stroke="#222222" stroke-width="1.1"><rect x="213.5" y="633.5" width="14.0" height="8.0"/><path d="M213.5 638.5H227.5M220.5 633.5V623.5M217.0 623.5H225.0M220.5 641.5V644.5M217.0 644.5H225.0"/></g>
<circle cx="221.4" cy="643.9" r="1.3" fill="#289328" fill-opacity="0.85"/><circle cx="219.5" cy="643.5" r="1.3" fill="#289328" fill-opacity="0.85"/><circle cx="219.0" cy="626.0" r="1.3" fill="#289328" fill-opacity="0.85"/><circle cx="219.1" cy="635.7" r="1.3" fill="#289328" fill-opacity="0.85"/><circle cx="220.6" cy="634.8" r="1.3" fill="#289328" fill-opacity="0.85"/><circle cx="223.5" cy="643.3" r="1.3" fill="#289328" fill-opacity="0.85"/><circle cx="216.8" cy="640.4" r="1.3" fill="#289328" fill-opacity="0.85"/><circle cx="223.1" cy="639.1" r="1.3" fill="#289328" fill-opacity="0.85"/><circle cx="219.5" cy="643.1" r="1.3" fill="#289328" fill-opacity="0.85"/><circle cx="223.1" cy="642.4" r="1.3" fill="#289328" fill-opacity="0.85"/><circle cx="217.5" cy="625.1" r="1.3" fill="#289328" fill-opacity="0.85"/><circle cx="220.3" cy="643.5" r="1.3" fill="#289328" fill-opacity="0.85"/><circle cx="222.3" cy="624.6" r="1.3" fill="#289328" fill-opacity="0.85"/><circle cx="223.3" cy="626.9" r="1.3" fill="#289328" fill-opacity="0.85"/><circle cx="221.9" cy="637.0" r="1.3" fill="#289328" fill-opacity="0.85"/><circle cx="216.8" cy="642.4" r="1.3" fill="#289328" fill-opacity="0.85"/><circle cx="218.5" cy="643.6" r="1.3" fill="#289328" fill-opacity="0.85"/><circle cx="217.1" cy="641.1" r="1.3" fill="#289328" fill-opacity="0.85"/><circle cx="222.7" cy="643.9" r="1.3" fill="#289328" fill-opacity="0.85"/><circle cx="216.9" cy="637.0" r="1.3" fill="#289328" fill-opacity="0.85"/><circle cx="216.3" cy="629.9" r="1.3" fill="#289328" fill-opacity="0.85"/><circle cx="218.5" cy="642.1" r="1.3" fill="#289328" fill-opacity="0.85"/><circle cx="220.7" cy="639.6" r="1.3" fill="#289328" fill-opacity="0.85"/><circle cx="222.9" cy="632.6" r="1.3" fill="#289328" fill-opacity="0.85"/><circle cx="220.3" cy="623.6" r="1.3" fill="#289328" fill-opacity="0.85"/><circle cx="220.3" cy="644.0" r="1.3" fill="#289328" fill-opacity="0.85"/>
<circle cx="220.3" cy="604.7" r="1.3" fill="#289328"/>
<circle cx="220.3" cy="516.5" r="1.3" fill="#289328"/>
<g fill="none" stroke="#222222" stroke-width="1.1"><rect x="230.5" y="637.5" width="15.0" height="4.0"/><path d="M230.5 640.5H245.5M238.5 637.5V634.5M235.0 634.5H243.0M238.5 641.5V643.5M235.0 643.5H243.0"/></g>
<circle cx="239.6" cy="641.5" r="1.3" fill="#1c6da5" fill-opacity="0.85"/><circle cx="238.8" cy="641.1" r="1.3" fill="#1c6da5" fill-opacity="0.85"/><circle cx="234.5" cy="638.8" r="1.3" fill="#1c6da5" fill-opacity="0.85"/><circle cx="238.4" cy="635.1" r="1.3" fill="#1c6da5" fill-opacity="0.85"/><circle cx="232.3" cy="638.9" r="1.3" fill="#1c6da5" fill-opacity="0.85"/><circle cx="232.8" cy="642.5" r="1.3" fill="#1c6da5" fill-opacity="0.85"/><circle cx="239.0" cy="643.0" r="1.3" fill="#1c6da5" fill-opacity="0.85"/><circle cx="239.1" cy="640.4" r="1.3" fill="#1c6da5" fill-opacity="0.85"/><circle cx="244.0" cy="638.3" r="1.3" fill="#1c6da5" fill-opacity="0.85"/><circle cx="236.0" cy="634.7" r="1.3" fill="#1c6da5" fill-opacity="0.85"/><circle cx="237.7" cy="637.2" r="1.3" fill="#1c6da5" fill-opacity="0.85"/><circle cx="240.2" cy="640.7" r="1.3" fill="#1c6da5" fill-opacity="0.85"/><circle cx="236.1" cy="642.6" r="1.3" fill="#1c6da5" fill-opacity="0.85"/><circle cx="235.4" cy="640.9" r="1.3" fill="#1c6da5" fill-opacity="0.85"/><circle cx="238.2" cy="639.2" r="1.3" fill="#1c6da5" fill-opacity="0.85"/><circle cx="240.4" cy="641.5" r="1.3" fill="#1c6da5" fill-opacity="0.85"/><circle cx="238.7" cy="641.3" r="1.3" fill="#1c6da5" fill-opacity="0.85"/><circle cx="241.0" cy="643.5" r="1.3" fill="#1c6da5" fill-opacity="0.85"/><circle cx="240.7" cy="634.8" r="1.3" fill="#1c6da5" fill-opacity="0.85"/><circle cx="234.5" cy="641.9" r="1.3" fill="#1c6da5" fill-opacity="0.85"/><circle cx="240.7" cy="638.4" r="1.3" fill="#1c6da5" fill-opacity="0.85"/><circle cx="236.3" cy="642.2" r="1.3" fill="#1c6da5" fill-opacity="0.85"/><circle cx="243.9" cy="639.8" r="1.3" fill="#1c6da5" fill-opacity="0.85"/><circle cx="234.1" cy="641.8" r="1.3" fill="#1c6da5" fill-opacity="0.85"/><circle cx="241.7" cy="638.1" r="1.3" fill="#1c6da5" fill-opacity="0.85"/><circle cx="233.3" cy="641.7" r="1.3" fill="#1c6da5" fill-opacity="0.85"/><circle cx="237.7" cy="638.9" r="1.3" fill="#1c6da5" fill-opacity="0.85"/><circle cx="241.5" cy="634.8" r="1.3" fill="#1c6da5" fill-opacity="0.85"/><circle cx="233.5" cy="638.6" r="1.3" fill="#1c6da5" fill-opacity="0.85"/><circle cx="238.1" cy="640.1" r="1.3" fill="#1c6da5" fill-opacity="0.85"/><circle cx="232.3" cy="641.4" r="1.3" fill="#1c6da5" fill-opacity="0.85"/><circle cx="243.3" cy="635.4" r="1.3" fill="#1c6da5" fill-opacity="0.85"/><circle cx="240.8" cy="636.2" r="1.3" fill="#1c6da5" fill-opacity="0.85"/><circle cx="242.1" cy="638.7" r="1.3" fill="#1c6da5" fill-opacity="0.85"/><circle cx="234.6" cy="641.8" r="1.3" fill="#1c6da5" fill-opacity="0.85"/><circle cx="232.1" cy="642.4" r="1.3" fill="#1c6da5" fill-opacity="0.85"/><circle cx="237.6" cy="635.2" r="1.3" fill="#1c6da5" fill-opacity="0.85"/><circle cx="238.4" cy="638.2" r="1.3" fill="#1c6da5" fill-opacity="0.85"/><circle cx="239.5" cy="641.2" r="1.3" fill="#1c6da5" fill-opacity="0.85"/><circle cx="239.7" cy="636.0" r="1.3" fill="#1c6da5" fill-opacity="0.85"/><circle cx="242.9" cy="641.4" r="1.3" fill="#1c6da5" fill-opacity="0.85"/><circle cx="239.1" cy="641.7" r="1.3" fill="#1c6da5" fill-opacity="0.85"/><circle cx="237.5" cy="641.5" r="1.3" fill="#1c6da5" fill-opacity="0.85"/><circle cx="240.5" cy="642.9" r="1.3" fill="#1c6da5" fill-opacity="0.85"/><circle cx="240.7" cy="641.8" r="1.3" fill="#1c6da5" fill-opacity="0.85"/><circle cx="236.8" cy="640.6" r="1.3" fill="#1c6da5" fill-opacity="0.85"/><circle cx="234.9" cy="643.0" r="1.3" fill="#1c6da5" fill-opacity="0.85"/><circle cx="237.7" cy="643.0" r="1.3" fill="#1c6da5" fill-opacity="0.85"/><circle cx="238.0" cy="634.6" r="1.3" fill="#1c6da5" fill-opacity="0.85"/><circle cx="238.0" cy="643.5" r="1.3" fill="#1c6da5" fill-opacity="0.85"/>
<circle cx="238.0" cy="623.6" r="1.3" fill="#1c6da5"/>
<g fill="none" stroke="#222222" stroke-width="1.1"><rect x="248.5" y="637.5" width="14.0" height="6.0"/><path d="M248.5 641.5H262.5M255.5 637.5V635.5M252.0 635.5H260.0M255.5 643.5V645.5M252.0 645.5H260.0"/></g>
<circle cx="256.9" cy="638.6" r="1.3" fill="#15aebe" fill-opacity="0.85"/><circle cx="261.5" cy="643.0" r="1.3" fill="#15aebe" fill-opacity="0.85"/><circle cx="259.2" cy="642.3" r="1.3" fill="#15aebe" fill-opacity="0.85"/><circle cx="258.6" cy="636.4" r="1.3" fill="#15aebe" fill-opacity="0.85"/><circle cx="261.4" cy="643.4" r="1.3" fill="#15aebe" fill-opacity="0.85"/><circle cx="250.3" cy="637.6" r="1.3" fill="#15aebe" fill-opacity="0.85"/><circle cx="252.3" cy="638.4" r="1.3" fill="#15aebe" fill-opacity="0.85"/><circle cx="257.4" cy="644.9" r="1.3" fill="#15aebe" fill-opacity="0.85"/><circle cx="251.5" cy="637.1" r="1.3" fill="#15aebe" fill-opacity="0.85"/><circle cx="250.9" cy="639.9" r="1.3" fill="#15aebe" fill-opacity="0.85"/><circle cx="251.9" cy="636.2" r="1.3" fill="#15aebe" fill-opacity="0.85"/><circle cx="255.8" cy="637.4" r="1.3" fill="#15aebe" fill-opacity="0.85"/><circle cx="260.4" cy="639.6" r="1.3" fill="#15aebe" fill-opacity="0.85"/><circle cx="259.9" cy="637.7" r="1.3" fill="#15aebe" fill-opacity="0.85"/><circle cx="255.7" cy="644.7" r="1.3" fill="#15aebe" fill-opacity="0.85"/><circle cx="259.3" cy="644.4" r="1.3" fill="#15aebe" fill-opacity="0.85"/><circle cx="256.2" cy="643.5" r="1.3" fill="#15aebe" fill-opacity="0.85"/><circle cx="249.8" cy="642.3" r="1.3" fill="#15aebe" fill-opacity="0.85"/><circle cx="259.7" cy="643.5" r="1.3" fill="#15aebe" fill-opacity="0.85"/><circle cx="251.2" cy="636.7" r="1.3" fill="#15aebe" fill-opacity="0.85"/><circle cx="254.8" cy="643.8" r="1.3" fill="#15aebe" fill-opacity="0.85"/><circle cx="256.3" cy="637.9" r="1.3" fill="#15aebe" fill-opacity="0.85"/><circle cx="258.5" cy="643.4" r="1.3" fill="#15aebe" fill-opacity="0.85"/><circle cx="250.9" cy="635.9" r="1.3" fill="#15aebe" fill-opacity="0.85"/><circle cx="258.8" cy="642.7" r="1.3" fill="#15aebe" fill-opacity="0.85"/><circle cx="261.4" cy="641.0" r="1.3" fill="#15aebe" fill-opacity="0.85"/><circle cx="250.6" cy="637.7" r="1.3" fill="#15aebe" fill-opacity="0.85"/><circle cx="256.9" cy="640.4" r="1.3" fill="#15aebe" fill-opacity="0.85"/><circle cx="254.6" cy="644.2" r="1.3" fill="#15aebe" fill-opacity="0.85"/><circle cx="260.7" cy="644.5" r="1.3" fill="#15aebe" fill-opacity="0.85"/><circle cx="260.7" cy="644.7" r="1.3" fill="#15aebe" fill-opacity="0.85"/><circle cx="250.1" cy="636.2" r="1.3" fill="#15aebe" fill-opacity="0.85"/><circle cx="254.9" cy="644.8" r="1.3" fill="#15aebe" fill-opacity="0.85"/><circle cx="261.0" cy="637.3" r="1.3" fill="#15aebe" fill-opacity="0.85"/><circle cx="252.7" cy="640.3" r="1.3" fill="#15aebe" fill-opacity="0.85"/><circle cx="253.6" cy="642.5" r="1.3" fill="#15aebe" fill-opacity="0.85"/><circle cx="261.5" cy="642.0" r="1.3" fill="#15aebe" fill-opacity="0.85"/><circle cx="258.8" cy="644.9" r="1.3" fill="#15aebe" fill-opacity="0.85"/><circle cx="255.7" cy="635.6" r="1.3" fill="#15aebe" fill-opacity="0.85"/><circle cx="255.7" cy="645.0" r="1.3" fill="#15aebe" fill-opacity="0.85"/>
<g fill="none" stroke="#222222" stroke-width="1.1"><rect x="266.5" y="638.5" width="14.0" height="5.0"/><path d="M266.5 641.5H280.5M273.5 638.5V637.5M270.0 637.5H278.0M273.5 643.5V645.5M270.0 645.5H278.0"/></g>
<circle cx="276.4" cy="637.0" r="1.3" fill="#c42324" fill-opacity="0.85"/><circle cx="272.3" cy="643.0" r="1.3" fill="#c42324" fill-opacity="0.85"/><circle cx="278.0" cy="643.1" r="1.3" fill="#c42324" fill-opacity="0.85"/><circle cx="276.6" cy="638.0" r="1.3" fill="#c42324" fill-opacity="0.85"/><circle cx="276.9" cy="637.2" r="1.3" fill="#c42324" fill-opacity="0.85"/><circle cx="277.3" cy="643.7" r="1.3" fill="#c42324" fill-opacity="0.85"/><circle cx="271.8" cy="641.2" r="1.3" fill="#c42324" fill-opacity="0.85"/><circle cx="269.3" cy="644.9" r="1.3" fill="#c42324" fill-opacity="0.85"/><circle cx="273.9" cy="644.5" r="1.3" fill="#c42324" fill-opacity="0.85"/><circle cx="278.4" cy="637.9" r="1.3" fill="#c42324" fill-opacity="0.85"/><circle cx="268.5" cy="645.0" r="1.3" fill="#c42324" fill-opacity="0.85"/><circle cx="278.3" cy="642.9" r="1.3" fill="#c42324" fill-opacity="0.85"/><circle cx="276.0" cy="643.0" r="1.3" fill="#c42324" fill-opacity="0.85"/><circle cx="272.6" cy="638.2" r="1.3" fill="#c42324" fill-opacity="0.85"/><circle cx="276.3" cy="644.5" r="1.3" fill="#c42324" fill-opacity="0.85"/><circle cx="270.5" cy="638.1" r="1.3" fill="#c42324" fill-opacity="0.85"/><circle cx="269.9" cy="640.8" r="1.3" fill="#c42324" fill-opacity="0.85"/><circle cx="275.1" cy="638.8" r="1.3" fill="#c42324" fill-opacity="0.85"/><circle cx="274.6" cy="644.5" r="1.3" fill="#c42324" fill-opacity="0.85"/><circle cx="268.2" cy="644.0" r="1.3" fill="#c42324" fill-opacity="0.85"/><circle cx="271.7" cy="643.5" r="1.3" fill="#c42324" fill-opacity="0.85"/><circle cx="273.3" cy="643.4" r="1.3" fill="#c42324" fill-opacity="0.85"/><circle cx="270.7" cy="637.5" r="1.3" fill="#c42324" fill-opacity="0.85"/><circle cx="268.6" cy="638.2" r="1.3" fill="#c42324" fill-opacity="0.85"/><circle cx="275.7" cy="642.4" r="1.3" fill="#c42324" fill-opacity="0.85"/><circle cx="268.5" cy="640.6" r="1.3" fill="#c42324" fill-opacity="0.85"/><circle cx="277.4" cy="638.0" r="1.3" fill="#c42324" fill-opacity="0.85"/><circle cx="270.1" cy="639.9" r="1.3" fill="#c42324" fill-opacity="0.85"/><circle cx="273.4" cy="637.0" r="1.3" fill="#c42324" fill-opacity="0.85"/><circle cx="273.4" cy="645.0" r="1.3" fill="#c42324" fill-opacity="0.85"/>
<g fill="none" stroke="#222222" stroke-width="1.1"><rect x="283.5" y="639.5" width="15.0" height="3.0"/><path d="M283.5 641.5H298.5M291.5 639.5V638.5M288.0 638.5H296.0M291.5 642.5V644.5M288.0 644.5H296.0"/></g>
<circle cx="293.1" cy="638.2" r="1.3" fill="#1c6da5" fill-opacity="0.85"/><circle cx="287.4" cy="642.9" r="1.3" fill="#1c6da5" fill-opacity="0.85"/><circle cx="293.0" cy="638.9" r="1.3" fill="#1c6da5" fill-opacity="0.85"/><circle cx="287.3" cy="643.6" r="1.3" fill="#1c6da5" fill-opacity="0.85"/><circle cx="296.9" cy="642.8" r="1.3" fill="#1c6da5" fill-opacity="0.85"/><circle cx="291.9" cy="641.1" r="1.3" fill="#1c6da5" fill-opacity="0.85"/><circle cx="285.3" cy="642.9" r="1.3" fill="#1c6da5" fill-opacity="0.85"/><circle cx="296.6" cy="639.0" r="1.3" fill="#1c6da5" fill-opacity="0.85"/><circle cx="286.7" cy="640.7" r="1.3" fill="#1c6da5" fill-opacity="0.85"/><circle cx="289.5" cy="638.8" r="1.3" fill="#1c6da5" fill-opacity="0.85"/><circle cx="288.1" cy="643.0" r="1.3" fill="#1c6da5" fill-opacity="0.85"/><circle cx="289.7" cy="638.8" r="1.3" fill="#1c6da5" fill-opacity="0.85"/><circle cx="287.4" cy="638.9" r="1.3" fill="#1c6da5" fill-opacity="0.85"/><circle cx="289.5" cy="642.2" r="1.3" fill="#1c6da5" fill-opacity="0.85"/><circle cx="295.5" cy="643.4" r="1.3" fill="#1c6da5" fill-opacity="0.85"/><circle cx="295.1" cy="641.0" r="1.3" fill="#1c6da5" fill-opacity="0.85"/><circle cx="290.3" cy="642.9" r="1.3" fill="#1c6da5" fill-opacity="0.85"/><circle cx="293.6" cy="641.9" r="1.3" fill="#1c6da5" fill-opacity="0.85"/><circle cx="290.8" cy="642.8" r="1.3" fill="#1c6da5" fill-opacity="0.85"/><circle cx="290.4" cy="642.6" r="1.3" fill="#1c6da5" fill-opacity="0.85"/><circle cx="289.4" cy="642.9" r="1.3" fill="#1c6da5" fill-opacity="0.85"/><circle cx="291.7" cy="639.5" r="1.3" fill="#1c6da5" fill-opacity="0.85"/><circle cx="294.0" cy="642.6" r="1.3" fill="#1c6da5" fill-opacity="0.85"/><circle cx="296.6" cy="643.9" r="1.3" fill="#1c6da5" fill-opacity="0.85"/><circle cx="296.4" cy="639.0" r="1.3" fill="#1c6da5" fill-opacity="0.85"/><circle cx="287.1" cy="643.2" r="1.3" fill="#1c6da5" fill-opacity="0.85"/><circle cx="286.1" cy="638.9" r="1.3" fill="#1c6da5" fill-opacity="0.85"/><circle cx="290.6" cy="639.6" r="1.3" fill="#1c6da5" fill-opacity="0.85"/><circle cx="291.1" cy="638.0" r="1.3" fill="#1c6da5" fill-opacity="0.85"/><circle cx="291.1" cy="644.0" r="1.3" fill="#1c6da5" fill-opacity="0.85"/>
<g fill="none" stroke="#222222" stroke-width="1.1"><rect x="301.5" y="640.5" width="14.0" height="3.0"/><path d="M301.5 642.5H315.5M308.5 640.5V639.5M305.0 639.5H313.0M308.5 643.5V644.5M305.0 644.5H313.0"/></g>
<circle cx="308.2" cy="643.6" r="1.3" fill="#747474" fill-opacity="0.85"/><circle cx="310.7" cy="643.3" r="1.3" fill="#747474" fill-opacity="0.85"/><circle cx="314.6" cy="643.4" r="1.3" fill="#747474" fill-opacity="0.85"/><circle cx="302.9" cy="643.3" r="1.3" fill="#747474" fill-opacity="0.85"/><circle cx="303.1" cy="644.0" r="1.3" fill="#747474" fill-opacity="0.85"/><circle cx="309.2" cy="641.4" r="1.3" fill="#747474" fill-opacity="0.85"/><circle cx="310.0" cy="642.4" r="1.3" fill="#747474" fill-opacity="0.85"/><circle cx="312.4" cy="643.6" r="1.3" fill="#747474" fill-opacity="0.85"/><circle cx="313.1" cy="639.3" r="1.3" fill="#747474" fill-opacity="0.85"/><circle cx="305.0" cy="640.6" r="1.3" fill="#747474" fill-opacity="0.85"/><circle cx="313.6" cy="642.0" r="1.3" fill="#747474" fill-opacity="0.85"/><circle cx="303.2" cy="643.2" r="1.3" fill="#747474" fill-opacity="0.85"/><circle cx="305.1" cy="643.4" r="1.3" fill="#747474" fill-opacity="0.85"/><circle cx="314.1" cy="644.1" r="1.3" fill="#747474" fill-opacity="0.85"/><circle cx="302.9" cy="641.7" r="1.3" fill="#747474" fill-opacity="0.85"/><circle cx="308.5" cy="639.8" r="1.3" fill="#747474" fill-opacity="0.85"/><circle cx="308.7" cy="644.4" r="1.3" fill="#747474" fill-opacity="0.85"/><circle cx="305.4" cy="639.4" r="1.3" fill="#747474" fill-opacity="0.85"/><circle cx="314.8" cy="639.8" r="1.3" fill="#747474" fill-opacity="0.85"/><circle cx="314.3" cy="643.2" r="1.3" fill="#747474" fill-opacity="0.85"/><circle cx="306.9" cy="642.7" r="1.3" fill="#747474" fill-opacity="0.85"/><circle cx="307.3" cy="643.5" r="1.3" fill="#747474" fill-opacity="0.85"/><circle cx="302.8" cy="641.0" r="1.3" fill="#747474" fill-opacity="0.85"/><circle cx="308.2" cy="643.8" r="1.3" fill="#747474" fill-opacity="0.85"/><circle cx="304.4" cy="644.2" r="1.3" fill="#747474" fill-opacity="0.85"/><circle cx="314.3" cy="643.4" r="1.3" fill="#747474" fill-opacity="0.85"/><circle cx="309.0" cy="643.4" r="1.3" fill="#747474" fill-opacity="0.85"/><circle cx="303.5" cy="644.4" r="1.3" fill="#747474" fill-opacity="0.85"/><circle cx="308.8" cy="639.0" r="1.3" fill="#747474" fill-opacity="0.85"/><circle cx="308.8" cy="644.5" r="1.3" fill="#747474" fill-opacity="0.85"/>
<g fill="none" stroke="#222222" stroke-width="1.1"><rect x="319.5" y="637.5" width="14.0" height="8.0"/><path d="M319.5 641.5H333.5M326.5 637.5V636.5M323.0 636.5H331.0M326.5 645.5V645.5M323.0 645.5H331.0"/></g>
<circle cx="327.5" cy="644.6" r="1.3" fill="#804f45" fill-opacity="0.85"/><circle cx="331.1" cy="643.4" r="1.3" fill="#804f45" fill-opacity="0.85"/><circle cx="332.0" cy="645.4" r="1.3" fill="#804f45" fill-opacity="0.85"/><circle cx="325.4" cy="638.4" r="1.3" fill="#804f45" fill-opacity="0.85"/><circle cx="321.7" cy="638.7" r="1.3" fill="#804f45" fill-opacity="0.85"/><circle cx="323.9" cy="644.1" r="1.3" fill="#804f45" fill-opacity="0.85"/><circle cx="325.5" cy="636.2" r="1.3" fill="#804f45" fill-opacity="0.85"/><circle cx="330.2" cy="645.4" r="1.3" fill="#804f45" fill-opacity="0.85"/><circle cx="321.9" cy="645.3" r="1.3" fill="#804f45" fill-opacity="0.85"/><circle cx="327.5" cy="641.4" r="1.3" fill="#804f45" fill-opacity="0.85"/><circle cx="332.0" cy="636.2" r="1.3" fill="#804f45" fill-opacity="0.85"/><circle cx="331.2" cy="644.9" r="1.3" fill="#804f45" fill-opacity="0.85"/><circle cx="328.8" cy="645.1" r="1.3" fill="#804f45" fill-opacity="0.85"/><circle cx="324.9" cy="644.4" r="1.3" fill="#804f45" fill-opacity="0.85"/><circle cx="321.4" cy="645.3" r="1.3" fill="#804f45" fill-opacity="0.85"/><circle cx="326.1" cy="645.3" r="1.3" fill="#804f45" fill-opacity="0.85"/><circle cx="320.6" cy="645.4" r="1.3" fill="#804f45" fill-opacity="0.85"/><circle cx="329.0" cy="641.2" r="1.3" fill="#804f45" fill-opacity="0.85"/><circle cx="332.0" cy="645.1" r="1.3" fill="#804f45" fill-opacity="0.85"/><circle cx="325.6" cy="637.3" r="1.3" fill="#804f45" fill-opacity="0.85"/><circle cx="325.4" cy="637.3" r="1.3" fill="#804f45" fill-opacity="0.85"/><circle cx="323.3" cy="636.2" r="1.3" fill="#804f45" fill-opacity="0.85"/><circle cx="328.4" cy="645.2" r="1.3" fill="#804f45" fill-opacity="0.85"/><circle cx="323.1" cy="637.5" r="1.3" fill="#804f45" fill-opacity="0.85"/><circle cx="320.9" cy="644.2" r="1.3" fill="#804f45" fill-opacity="0.85"/><circle cx="325.5" cy="643.4" r="1.3" fill="#804f45" fill-opacity="0.85"/><circle cx="331.8" cy="642.1" r="1.3" fill="#804f45" fill-opacity="0.85"/><circle cx="328.9" cy="645.2" r="1.3" fill="#804f45" fill-opacity="0.85"/><circle cx="326.3" cy="644.6" r="1.3" fill="#804f45" fill-opacity="0.85"/><circle cx="322.4" cy="641.2" r="1.3" fill="#804f45" fill-opacity="0.85"/><circle cx="329.7" cy="638.2" r="1.3" fill="#804f45" fill-opacity="0.85"/><circle cx="328.1" cy="636.6" r="1.3" fill="#804f45" fill-opacity="0.85"/><circle cx="322.8" cy="645.5" r="1.3" fill="#804f45" fill-opacity="0.85"/><circle cx="323.5" cy="637.2" r="1.3" fill="#804f45" fill-opacity="0.85"/><circle cx="330.7" cy="636.7" r="1.3" fill="#804f45" fill-opacity="0.85"/><circle cx="322.9" cy="636.7" r="1.3" fill="#804f45" fill-opacity="0.85"/><circle cx="329.2" cy="642.5" r="1.3" fill="#804f45" fill-opacity="0.85"/><circle cx="320.5" cy="644.9" r="1.3" fill="#804f45" fill-opacity="0.85"/><circle cx="320.5" cy="641.1" r="1.3" fill="#804f45" fill-opacity="0.85"/><circle cx="329.0" cy="644.2" r="1.3" fill="#804f45" fill-opacity="0.85"/><circle cx="321.8" cy="637.7" r="1.3" fill="#804f45" fill-opacity="0.85"/><circle cx="322.3" cy="636.1" r="1.3" fill="#804f45" fill-opacity="0.85"/><circle cx="324.3" cy="642.6" r="1.3" fill="#804f45" fill-opacity="0.85"/><circle cx="323.6" cy="642.9" r="1.3" fill="#804f45" fill-opacity="0.85"/><circle cx="322.4" cy="644.9" r="1.3" fill="#804f45" fill-opacity="0.85"/><circle cx="328.8" cy="641.7" r="1.3" fill="#804f45" fill-opacity="0.85"/><circle cx="329.2" cy="640.1" r="1.3" fill="#804f45" fill-opacity="0.85"/><circle cx="322.7" cy="642.8" r="1.3" fill="#804f45" fill-opacity="0.85"/><circle cx="321.1" cy="636.7" r="1.3" fill="#804f45" fill-opacity="0.85"/><circle cx="325.1" cy="641.1" r="1.3" fill="#804f45" fill-opacity="0.85"/><circle cx="326.5" cy="636.0" r="1.3" fill="#804f45" fill-opacity="0.85"/><circle cx="326.5" cy="645.5" r="1.3" fill="#804f45" fill-opacity="0.85"/>
<g fill="none" stroke="#222222" stroke-width="1.1"><rect x="337.5" y="640.5" width="14.0" height="4.0"/><path d="M337.5 642.5H351.5M344.5 640.5V639.5M341.0 639.5H349.0M344.5 644.5V645.5M341.0 645.5H349.0"/></g>
<circle cx="347.7" cy="644.3" r="1.3" fill="#885ead" fill-opacity="0.85"/><circle cx="345.2" cy="640.5" r="1.3" fill="#885ead" fill-opacity="0.85"/><circle cx="347.8" cy="642.2" r="1.3" fill="#885ead" fill-opacity="0.85"/><circle cx="339.3" cy="640.3" r="1.3" fill="#885ead" fill-opacity="0.85"/><circle cx="339.8" cy="644.6" r="1.3" fill="#885ead" fill-opacity="0.85"/><circle cx="339.5" cy="642.7" r="1.3" fill="#885ead" fill-opacity="0.85"/><circle cx="341.3" cy="644.3" r="1.3" fill="#885ead" fill-opacity="0.85"/><circle cx="346.9" cy="642.9" r="1.3" fill="#885ead" fill-opacity="0.85"/><circle cx="340.8" cy="642.1" r="1.3" fill="#885ead" fill-opacity="0.85"/><circle cx="346.5" cy="642.5" r="1.3" fill="#885ead" fill-opacity="0.85"/><circle cx="340.6" cy="644.9" r="1.3" fill="#885ead" fill-opacity="0.85"/><circle cx="341.3" cy="642.4" r="1.3" fill="#885ead" fill-opacity="0.85"/><circle cx="347.4" cy="643.8" r="1.3" fill="#885ead" fill-opacity="0.85"/><circle cx="349.7" cy="639.8" r="1.3" fill="#885ead" fill-opacity="0.85"/><circle cx="342.0" cy="640.3" r="1.3" fill="#885ead" fill-opacity="0.85"/><circle cx="345.5" cy="644.2" r="1.3" fill="#885ead" fill-opacity="0.85"/><circle cx="344.3" cy="644.1" r="1.3" fill="#885ead" fill-opacity="0.85"/><circle cx="348.7" cy="641.0" r="1.3" fill="#885ead" fill-opacity="0.85"/><circle cx="339.6" cy="643.9" r="1.3" fill="#885ead" fill-opacity="0.85"/><circle cx="342.5" cy="644.6" r="1.3" fill="#885ead" fill-opacity="0.85"/><circle cx="347.5" cy="644.6" r="1.3" fill="#885ead" fill-opacity="0.85"/><circle cx="342.8" cy="644.1" r="1.3" fill="#885ead" fill-opacity="0.85"/><circle cx="346.2" cy="643.8" r="1.3" fill="#885ead" fill-opacity="0.85"/><circle cx="343.9" cy="643.6" r="1.3" fill="#885ead" fill-opacity="0.85"/><circle cx="342.6" cy="644.8" r="1.3" fill="#885ead" fill-opacity="0.85"/><circle cx="349.4" cy="641.0" r="1.3" fill="#885ead" fill-opacity="0.85"/><circle cx="343.6" cy="644.2" r="1.3" fill="#885ead" fill-opacity="0.85"/><circle cx="338.6" cy="644.4" r="1.3" fill="#885ead" fill-opacity="0.85"/><circle cx="344.2" cy="639.5" r="1.3" fill="#885ead" fill-opacity="0.85"/><circle cx="344.2" cy="645.0" r="1.3" fill="#885ead" fill-opacity="0.85"/>
<g fill="none" stroke="#222222" stroke-width="1.1"><rect x="354.5" y="640.5" width="14.0" height="4.0"/><path d="M354.5 642.5H368.5M361.5 640.5V639.5M358.0 639.5H366.0M361.5 644.5V645.5M358.0 645.5H366.0"/></g>
<circle cx="357.4" cy="639.1" r="1.3" fill="#ea740c" fill-opacity="0.85"/><circle cx="359.5" cy="642.2" r="1.3" fill="#ea740c" fill-opacity="0.85"/><circle cx="365.1" cy="641.5" r="1.3" fill="#ea740c" fill-opacity="0.85"/><circle cx="360.6" cy="643.9" r="1.3" fill="#ea740c" fill-opacity="0.85"/><circle cx="356.5" cy="640.2" r="1.3" fill="#ea740c" fill-opacity="0.85"/><circle cx="357.5" cy="641.4" r="1.3" fill="#ea740c" fill-opacity="0.85"/><circle cx="357.8" cy="644.0" r="1.3" fill="#ea740c" fill-opacity="0.85"/><circle cx="357.9" cy="644.8" r="1.3" fill="#ea740c" fill-opacity="0.85"/><circle cx="361.0" cy="641.5" r="1.3" fill="#ea740c" fill-opacity="0.85"/><circle cx="358.8" cy="643.9" r="1.3" fill="#ea740c" fill-opacity="0.85"/><circle cx="359.0" cy="639.9" r="1.3" fill="#ea740c" fill-opacity="0.85"/><circle cx="366.7" cy="644.9" r="1.3" fill="#ea740c" fill-opacity="0.85"/><circle cx="363.1" cy="640.3" r="1.3" fill="#ea740c" fill-opacity="0.85"/><circle cx="364.5" cy="642.9" r="1.3" fill="#ea740c" fill-opacity="0.85"/><circle cx="358.2" cy="644.1" r="1.3" fill="#ea740c" fill-opacity="0.85"/><circle cx="365.6" cy="639.9" r="1.3" fill="#ea740c" fill-opacity="0.85"/><circle cx="358.9" cy="643.6" r="1.3" fill="#ea740c" fill-opacity="0.85"/><circle cx="357.6" cy="640.1" r="1.3" fill="#ea740c" fill-opacity="0.85"/><circle cx="357.9" cy="639.7" r="1.3" fill="#ea740c" fill-opacity="0.85"/><circle cx="358.1" cy="644.3" r="1.3" fill="#ea740c" fill-opacity="0.85"/><circle cx="366.2" cy="641.1" r="1.3" fill="#ea740c" fill-opacity="0.85"/><circle cx="365.0" cy="644.0" r="1.3" fill="#ea740c" fill-opacity="0.85"/><circle cx="367.3" cy="644.9" r="1.3" fill="#ea740c" fill-opacity="0.85"/><circle cx="365.7" cy="641.0" r="1.3" fill="#ea740c" fill-opacity="0.85"/><circle cx="360.4" cy="643.3" r="1.3" fill="#ea740c" fill-opacity="0.85"/><circle cx="357.2" cy="643.2" r="1.3" fill="#ea740c" fill-opacity="0.85"/><circle cx="360.8" cy="640.6" r="1.3" fill="#ea740c" fill-opacity="0.85"/><circle cx="364.9" cy="644.9" r="1.3" fill="#ea740c" fill-opacity="0.85"/><circle cx="361.9" cy="639.0" r="1.3" fill="#ea740c" fill-opacity="0.85"/><circle cx="361.9" cy="645.0" r="1.3" fill="#ea740c" fill-opacity="0.85"/>
<circle cx="361.9" cy="632.4" r="1.3" fill="#ea740c"/>
<circle cx="373.6" cy="644.4" r="1.3" fill="#804f45" fill-opacity="0.85"/><circle cx="375.6" cy="644.4" r="1.3" fill="#804f45" fill-opacity="0.85"/><circle cx="377.6" cy="644.4" r="1.3" fill="#804f45" fill-opacity="0.85"/><circle cx="379.6" cy="644.4" r="1.3" fill="#804f45" fill-opacity="0.85"/><circle cx="381.6" cy="644.4" r="1.3" fill="#804f45" fill-opacity="0.85"/><circle cx="383.6" cy="644.4" r="1.3" fill="#804f45" fill-opacity="0.85"/><circle cx="385.6" cy="644.4" r="1.3" fill="#804f45" fill-opacity="0.85"/>
<text x="112.65" y="662.40" font-size="10.90" text-anchor="end" textLength="47.09" lengthAdjust="spacingAndGlyphs" transform="rotate(-45 112.65 662.40)">(14)/(93)</text>
<text x="130.34" y="662.40" font-size="10.90" text-anchor="end" textLength="47.09" lengthAdjust="spacingAndGlyphs" transform="rotate(-45 130.34 662.40)">(32)/(95)</text>
<text x="148.03" y="662.40" font-size="10.90" text-anchor="end" textLength="47.09" lengthAdjust="spacingAndGlyphs" transform="rotate(-45 148.03 662.40)">(40)/(95)</text>
<text x="165.73" y="662.40" font-size="10.90" text-anchor="end" textLength="47.09" lengthAdjust="spacingAndGlyphs" transform="rotate(-45 165.73 662.40)">(10)/(95)</text>
<text x="183.42" y="662.40" font-size="10.90" text-anchor="end" textLength="47.09" lengthAdjust="spacingAndGlyphs" transform="rotate(-45 183.42 662.40)">(13)/(95)</text>
<text x="201.12" y="662.40" font-size="10.90" text-anchor="end" textLength="40.35" lengthAdjust="spacingAndGlyphs" transform="rotate(-45 201.12 662.40)">(7)/(95)</text>
<text x="218.81" y="662.40" font-size="10.90" text-anchor="end" textLength="47.09" lengthAdjust="spacingAndGlyphs" transform="rotate(-45 218.81 662.40)">(24)/(95)</text>
<text x="236.50" y="662.40" font-size="10.90" text-anchor="end" textLength="47.09" lengthAdjust="spacingAndGlyphs" transform="rotate(-45 236.50 662.40)">(24)/(95)</text>
<text x="254.20" y="662.40" font-size="10.90" text-anchor="end" textLength="47.09" lengthAdjust="spacingAndGlyphs" transform="rotate(-45 254.20 662.40)">(19)/(95)</text>
<text x="271.89" y="662.40" font-size="10.90" text-anchor="end" textLength="47.09" lengthAdjust="spacingAndGlyphs" transform="rotate(-45 271.89 662.40)">(14)/(95)</text>
<text x="289.58" y="662.40" font-size="10.90" text-anchor="end" textLength="40.35" lengthAdjust="spacingAndGlyphs" transform="rotate(-45 289.58 662.40)">(6)/(95)</text>
<text x="307.28" y="662.40" font-size="10.90" text-anchor="end" textLength="47.09" lengthAdjust="spacingAndGlyphs" transform="rotate(-45 307.28 662.40)">(12)/(95)</text>
<text x="324.97" y="662.40" font-size="10.90" text-anchor="end" textLength="47.09" lengthAdjust="spacingAndGlyphs" transform="rotate(-45 324.97 662.40)">(25)/(95)</text>
<text x="342.67" y="662.40" font-size="10.90" text-anchor="end" textLength="40.35" lengthAdjust="spacingAndGlyphs" transform="rotate(-45 342.67 662.40)">(4)/(95)</text>
<text x="360.36" y="662.40" font-size="10.90" text-anchor="end" textLength="47.09" lengthAdjust="spacingAndGlyphs" transform="rotate(-45 360.36 662.40)">(13)/(95)</text>
<text x="378.05" y="662.40" font-size="10.90" text-anchor="end" textLength="47.09" lengthAdjust="spacingAndGlyphs" transform="rotate(-45 378.05 662.40)">(61)/(95)</text>
<text x="49.5" y="581.00" font-size="10.90" text-anchor="middle" transform="rotate(-90 49.5 581.00)" textLength="78.72" lengthAdjust="spacingAndGlyphs"><tspan font-style="italic">r</tspan><tspan font-size="7.5" dy="-4.5">2</tspan><tspan dy="4.5"> contribution</tspan></text>
<text x="61.00" y="581.00" font-size="10.90" text-anchor="middle" textLength="131.61" lengthAdjust="spacingAndGlyphs" transform="rotate(-90 61.00 581.00)">(beyond age, BMI &amp; VAT)</text>
<path d="M105.3 721.6V862.3H388.4" fill="none" stroke="#6a6a6a" stroke-width="1"/>
<path d="M114.1 862.3v3" stroke="#6a6a6a" stroke-width="1"/>
<path d="M131.8 862.3v3" stroke="#6a6a6a" stroke-width="1"/>
<path d="M149.5 862.3v3" stroke="#6a6a6a" stroke-width="1"/>
<path d="M167.2 862.3v3" stroke="#6a6a6a" stroke-width="1"/>
<path d="M184.9 862.3v3" stroke="#6a6a6a" stroke-width="1"/>
<path d="M202.6 862.3v3" stroke="#6a6a6a" stroke-width="1"/>
<path d="M220.3 862.3v3" stroke="#6a6a6a" stroke-width="1"/>
<path d="M238.0 862.3v3" stroke="#6a6a6a" stroke-width="1"/>
<path d="M255.7 862.3v3" stroke="#6a6a6a" stroke-width="1"/>
<path d="M273.4 862.3v3" stroke="#6a6a6a" stroke-width="1"/>
<path d="M291.1 862.3v3" stroke="#6a6a6a" stroke-width="1"/>
<path d="M308.8 862.3v3" stroke="#6a6a6a" stroke-width="1"/>
<path d="M326.5 862.3v3" stroke="#6a6a6a" stroke-width="1"/>
<path d="M344.2 862.3v3" stroke="#6a6a6a" stroke-width="1"/>
<path d="M361.9 862.3v3" stroke="#6a6a6a" stroke-width="1"/>
<path d="M379.6 862.3v3" stroke="#6a6a6a" stroke-width="1"/>
<text x="101.30" y="861.80" font-size="10.90" text-anchor="end" textLength="16.86" lengthAdjust="spacingAndGlyphs">0.0</text>
<text x="101.30" y="840.60" font-size="10.90" text-anchor="end" textLength="16.86" lengthAdjust="spacingAndGlyphs">0.1</text>
<text x="101.30" y="819.40" font-size="10.90" text-anchor="end" textLength="16.86" lengthAdjust="spacingAndGlyphs">0.2</text>
<text x="101.30" y="798.20" font-size="10.90" text-anchor="end" textLength="16.86" lengthAdjust="spacingAndGlyphs">0.3</text>
<text x="101.30" y="777.00" font-size="10.90" text-anchor="end" textLength="16.86" lengthAdjust="spacingAndGlyphs">0.4</text>
<text x="101.30" y="755.80" font-size="10.90" text-anchor="end" textLength="16.86" lengthAdjust="spacingAndGlyphs">0.5</text>
<text x="101.30" y="734.60" font-size="10.90" text-anchor="end" textLength="16.86" lengthAdjust="spacingAndGlyphs">0.6</text>
<text x="56.10" y="791.95" font-size="10.90" text-anchor="middle" textLength="88.38" lengthAdjust="spacingAndGlyphs" transform="rotate(-90 56.10 791.95)">Predictive power</text>
<g fill="none" stroke="#222222" stroke-width="1.1"><rect x="107.5" y="818.5" width="14.0" height="18.0"/><path d="M107.5 834.5H121.5M114.5 818.5V808.5M111.0 808.5H119.0M114.5 836.5V848.5M111.0 848.5H119.0"/></g>
<circle cx="115.5" cy="817.9" r="1.3" fill="#ea740c" fill-opacity="0.85"/><circle cx="112.3" cy="831.4" r="1.3" fill="#ea740c" fill-opacity="0.85"/><circle cx="115.2" cy="814.0" r="1.3" fill="#ea740c" fill-opacity="0.85"/><circle cx="114.9" cy="823.5" r="1.3" fill="#ea740c" fill-opacity="0.85"/><circle cx="115.2" cy="827.6" r="1.3" fill="#ea740c" fill-opacity="0.85"/><circle cx="113.1" cy="824.8" r="1.3" fill="#ea740c" fill-opacity="0.85"/><circle cx="116.3" cy="820.2" r="1.3" fill="#ea740c" fill-opacity="0.85"/><circle cx="114.5" cy="814.2" r="1.3" fill="#ea740c" fill-opacity="0.85"/><circle cx="113.9" cy="810.6" r="1.3" fill="#ea740c" fill-opacity="0.85"/><circle cx="116.3" cy="814.5" r="1.3" fill="#ea740c" fill-opacity="0.85"/><circle cx="115.3" cy="834.1" r="1.3" fill="#ea740c" fill-opacity="0.85"/><circle cx="112.0" cy="824.4" r="1.3" fill="#ea740c" fill-opacity="0.85"/><circle cx="115.3" cy="813.0" r="1.3" fill="#ea740c" fill-opacity="0.85"/><circle cx="113.6" cy="825.1" r="1.3" fill="#ea740c" fill-opacity="0.85"/><circle cx="114.1" cy="808.0" r="1.3" fill="#ea740c" fill-opacity="0.85"/><circle cx="114.1" cy="848.5" r="1.3" fill="#ea740c" fill-opacity="0.85"/>
<g fill="none" stroke="#222222" stroke-width="1.1"><rect x="124.5" y="789.5" width="14.0" height="35.0"/><path d="M124.5 812.5H138.5M131.5 789.5V738.5M128.0 738.5H136.0M131.5 824.5V839.5M128.0 839.5H136.0"/></g>
<circle cx="129.6" cy="795.6" r="1.3" fill="#c42324" fill-opacity="0.85"/><circle cx="133.5" cy="821.8" r="1.3" fill="#c42324" fill-opacity="0.85"/><circle cx="131.7" cy="787.2" r="1.3" fill="#c42324" fill-opacity="0.85"/><circle cx="132.9" cy="799.1" r="1.3" fill="#c42324" fill-opacity="0.85"/><circle cx="130.3" cy="791.4" r="1.3" fill="#c42324" fill-opacity="0.85"/><circle cx="130.0" cy="795.7" r="1.3" fill="#c42324" fill-opacity="0.85"/><circle cx="131.1" cy="806.9" r="1.3" fill="#c42324" fill-opacity="0.85"/><circle cx="131.7" cy="791.5" r="1.3" fill="#c42324" fill-opacity="0.85"/><circle cx="133.8" cy="776.3" r="1.3" fill="#c42324" fill-opacity="0.85"/><circle cx="132.4" cy="792.4" r="1.3" fill="#c42324" fill-opacity="0.85"/><circle cx="132.5" cy="749.7" r="1.3" fill="#c42324" fill-opacity="0.85"/><circle cx="131.6" cy="837.2" r="1.3" fill="#c42324" fill-opacity="0.85"/><circle cx="133.3" cy="792.1" r="1.3" fill="#c42324" fill-opacity="0.85"/><circle cx="130.6" cy="835.6" r="1.3" fill="#c42324" fill-opacity="0.85"/><circle cx="134.1" cy="795.4" r="1.3" fill="#c42324" fill-opacity="0.85"/><circle cx="132.7" cy="780.8" r="1.3" fill="#c42324" fill-opacity="0.85"/><circle cx="130.2" cy="830.7" r="1.3" fill="#c42324" fill-opacity="0.85"/><circle cx="131.8" cy="808.0" r="1.3" fill="#c42324" fill-opacity="0.85"/><circle cx="132.1" cy="811.7" r="1.3" fill="#c42324" fill-opacity="0.85"/><circle cx="130.2" cy="759.0" r="1.3" fill="#c42324" fill-opacity="0.85"/><circle cx="134.0" cy="770.3" r="1.3" fill="#c42324" fill-opacity="0.85"/><circle cx="132.2" cy="781.9" r="1.3" fill="#c42324" fill-opacity="0.85"/><circle cx="132.1" cy="769.4" r="1.3" fill="#c42324" fill-opacity="0.85"/><circle cx="130.4" cy="823.9" r="1.3" fill="#c42324" fill-opacity="0.85"/><circle cx="132.5" cy="814.7" r="1.3" fill="#c42324" fill-opacity="0.85"/><circle cx="132.7" cy="838.6" r="1.3" fill="#c42324" fill-opacity="0.85"/><circle cx="132.5" cy="790.8" r="1.3" fill="#c42324" fill-opacity="0.85"/><circle cx="132.7" cy="837.3" r="1.3" fill="#c42324" fill-opacity="0.85"/><circle cx="130.9" cy="803.2" r="1.3" fill="#c42324" fill-opacity="0.85"/><circle cx="134.1" cy="776.6" r="1.3" fill="#c42324" fill-opacity="0.85"/><circle cx="132.1" cy="824.5" r="1.3" fill="#c42324" fill-opacity="0.85"/><circle cx="130.0" cy="806.7" r="1.3" fill="#c42324" fill-opacity="0.85"/><circle cx="131.8" cy="738.1" r="1.3" fill="#c42324" fill-opacity="0.85"/><circle cx="131.8" cy="839.3" r="1.3" fill="#c42324" fill-opacity="0.85"/>
<g fill="none" stroke="#222222" stroke-width="1.1"><rect x="142.5" y="742.5" width="14.0" height="36.0"/><path d="M142.5 755.5H156.5M149.5 742.5V728.5M146.0 728.5H154.0M149.5 778.5V812.5M146.0 812.5H154.0"/></g>
<circle cx="150.4" cy="732.9" r="1.3" fill="#bcbd22" fill-opacity="0.85"/><circle cx="150.4" cy="728.4" r="1.3" fill="#bcbd22" fill-opacity="0.85"/><circle cx="147.4" cy="778.4" r="1.3" fill="#bcbd22" fill-opacity="0.85"/><circle cx="148.6" cy="743.2" r="1.3" fill="#bcbd22" fill-opacity="0.85"/><circle cx="149.1" cy="778.6" r="1.3" fill="#bcbd22" fill-opacity="0.85"/><circle cx="151.1" cy="734.0" r="1.3" fill="#bcbd22" fill-opacity="0.85"/><circle cx="148.0" cy="771.0" r="1.3" fill="#bcbd22" fill-opacity="0.85"/><circle cx="151.6" cy="740.7" r="1.3" fill="#bcbd22" fill-opacity="0.85"/><circle cx="149.6" cy="746.4" r="1.3" fill="#bcbd22" fill-opacity="0.85"/><circle cx="149.1" cy="743.3" r="1.3" fill="#bcbd22" fill-opacity="0.85"/><circle cx="151.1" cy="780.6" r="1.3" fill="#bcbd22" fill-opacity="0.85"/><circle cx="150.7" cy="740.6" r="1.3" fill="#bcbd22" fill-opacity="0.85"/><circle cx="148.9" cy="772.9" r="1.3" fill="#bcbd22" fill-opacity="0.85"/><circle cx="151.9" cy="810.4" r="1.3" fill="#bcbd22" fill-opacity="0.85"/><circle cx="150.3" cy="733.5" r="1.3" fill="#bcbd22" fill-opacity="0.85"/><circle cx="149.8" cy="752.0" r="1.3" fill="#bcbd22" fill-opacity="0.85"/><circle cx="148.4" cy="745.7" r="1.3" fill="#bcbd22" fill-opacity="0.85"/><circle cx="147.9" cy="772.6" r="1.3" fill="#bcbd22" fill-opacity="0.85"/><circle cx="147.9" cy="805.3" r="1.3" fill="#bcbd22" fill-opacity="0.85"/><circle cx="149.8" cy="797.7" r="1.3" fill="#bcbd22" fill-opacity="0.85"/><circle cx="147.2" cy="758.6" r="1.3" fill="#bcbd22" fill-opacity="0.85"/><circle cx="148.3" cy="763.0" r="1.3" fill="#bcbd22" fill-opacity="0.85"/><circle cx="151.1" cy="738.8" r="1.3" fill="#bcbd22" fill-opacity="0.85"/><circle cx="149.4" cy="774.9" r="1.3" fill="#bcbd22" fill-opacity="0.85"/><circle cx="150.8" cy="766.2" r="1.3" fill="#bcbd22" fill-opacity="0.85"/><circle cx="151.1" cy="754.0" r="1.3" fill="#bcbd22" fill-opacity="0.85"/><circle cx="151.6" cy="760.1" r="1.3" fill="#bcbd22" fill-opacity="0.85"/><circle cx="147.5" cy="784.4" r="1.3" fill="#bcbd22" fill-opacity="0.85"/><circle cx="147.6" cy="766.3" r="1.3" fill="#bcbd22" fill-opacity="0.85"/><circle cx="148.6" cy="792.6" r="1.3" fill="#bcbd22" fill-opacity="0.85"/><circle cx="148.3" cy="809.9" r="1.3" fill="#bcbd22" fill-opacity="0.85"/><circle cx="148.7" cy="767.2" r="1.3" fill="#bcbd22" fill-opacity="0.85"/><circle cx="149.2" cy="732.4" r="1.3" fill="#bcbd22" fill-opacity="0.85"/><circle cx="147.7" cy="776.7" r="1.3" fill="#bcbd22" fill-opacity="0.85"/><circle cx="147.9" cy="733.2" r="1.3" fill="#bcbd22" fill-opacity="0.85"/><circle cx="149.6" cy="780.3" r="1.3" fill="#bcbd22" fill-opacity="0.85"/><circle cx="150.7" cy="774.6" r="1.3" fill="#bcbd22" fill-opacity="0.85"/><circle cx="147.9" cy="795.5" r="1.3" fill="#bcbd22" fill-opacity="0.85"/><circle cx="150.3" cy="792.9" r="1.3" fill="#bcbd22" fill-opacity="0.85"/><circle cx="147.2" cy="745.6" r="1.3" fill="#bcbd22" fill-opacity="0.85"/><circle cx="149.5" cy="728.3" r="1.3" fill="#bcbd22" fill-opacity="0.85"/><circle cx="149.5" cy="812.0" r="1.3" fill="#bcbd22" fill-opacity="0.85"/>
<circle cx="149.5" cy="841.7" r="1.3" fill="#bcbd22"/>
<circle cx="149.5" cy="848.0" r="1.3" fill="#bcbd22"/>
<g fill="none" stroke="#222222" stroke-width="1.1"><rect x="160.5" y="819.5" width="14.0" height="16.0"/><path d="M160.5 832.5H174.5M167.5 819.5V809.5M164.0 809.5H172.0M167.5 835.5V845.5M164.0 845.5H172.0"/></g>
<circle cx="164.8" cy="829.1" r="1.3" fill="#d06db2" fill-opacity="0.85"/><circle cx="171.2" cy="824.5" r="1.3" fill="#d06db2" fill-opacity="0.85"/><circle cx="168.6" cy="831.3" r="1.3" fill="#d06db2" fill-opacity="0.85"/><circle cx="168.7" cy="829.1" r="1.3" fill="#d06db2" fill-opacity="0.85"/><circle cx="163.8" cy="833.1" r="1.3" fill="#d06db2" fill-opacity="0.85"/><circle cx="170.6" cy="845.3" r="1.3" fill="#d06db2" fill-opacity="0.85"/><circle cx="167.1" cy="827.5" r="1.3" fill="#d06db2" fill-opacity="0.85"/><circle cx="167.2" cy="824.7" r="1.3" fill="#d06db2" fill-opacity="0.85"/><circle cx="170.7" cy="816.4" r="1.3" fill="#d06db2" fill-opacity="0.85"/><circle cx="164.4" cy="814.5" r="1.3" fill="#d06db2" fill-opacity="0.85"/><circle cx="167.2" cy="809.0" r="1.3" fill="#d06db2" fill-opacity="0.85"/><circle cx="167.2" cy="845.4" r="1.3" fill="#d06db2" fill-opacity="0.85"/>
<g fill="none" stroke="#222222" stroke-width="1.1"><rect x="177.5" y="795.5" width="15.0" height="26.0"/><path d="M177.5 812.5H192.5M184.5 795.5V789.5M181.0 789.5H189.0M184.5 821.5V841.5M181.0 841.5H189.0"/></g>
<circle cx="185.8" cy="817.9" r="1.3" fill="#885ead" fill-opacity="0.85"/><circle cx="187.2" cy="832.7" r="1.3" fill="#885ead" fill-opacity="0.85"/><circle cx="186.4" cy="802.5" r="1.3" fill="#885ead" fill-opacity="0.85"/><circle cx="182.8" cy="812.8" r="1.3" fill="#885ead" fill-opacity="0.85"/><circle cx="184.2" cy="835.6" r="1.3" fill="#885ead" fill-opacity="0.85"/><circle cx="185.9" cy="828.5" r="1.3" fill="#885ead" fill-opacity="0.85"/><circle cx="184.6" cy="795.7" r="1.3" fill="#885ead" fill-opacity="0.85"/><circle cx="186.0" cy="818.8" r="1.3" fill="#885ead" fill-opacity="0.85"/><circle cx="183.3" cy="791.2" r="1.3" fill="#885ead" fill-opacity="0.85"/><circle cx="183.1" cy="790.7" r="1.3" fill="#885ead" fill-opacity="0.85"/><circle cx="182.5" cy="803.7" r="1.3" fill="#885ead" fill-opacity="0.85"/><circle cx="186.7" cy="812.0" r="1.3" fill="#885ead" fill-opacity="0.85"/><circle cx="186.9" cy="793.2" r="1.3" fill="#885ead" fill-opacity="0.85"/><circle cx="184.9" cy="789.0" r="1.3" fill="#885ead" fill-opacity="0.85"/><circle cx="184.9" cy="841.1" r="1.3" fill="#885ead" fill-opacity="0.85"/>
<circle cx="184.9" cy="733.5" r="1.3" fill="#885ead"/>
<g fill="none" stroke="#222222" stroke-width="1.1"><rect x="195.5" y="835.5" width="14.0" height="11.0"/><path d="M195.5 838.5H209.5M202.5 835.5V824.5M199.0 824.5H207.0M202.5 846.5V850.5M199.0 850.5H207.0"/></g>
<circle cx="203.3" cy="825.6" r="1.3" fill="#289328" fill-opacity="0.85"/><circle cx="206.2" cy="828.1" r="1.3" fill="#289328" fill-opacity="0.85"/><circle cx="202.8" cy="847.0" r="1.3" fill="#289328" fill-opacity="0.85"/><circle cx="201.6" cy="842.7" r="1.3" fill="#289328" fill-opacity="0.85"/><circle cx="200.4" cy="848.5" r="1.3" fill="#289328" fill-opacity="0.85"/><circle cx="202.6" cy="840.9" r="1.3" fill="#289328" fill-opacity="0.85"/><circle cx="200.1" cy="839.2" r="1.3" fill="#289328" fill-opacity="0.85"/><circle cx="202.6" cy="824.0" r="1.3" fill="#289328" fill-opacity="0.85"/><circle cx="202.6" cy="850.0" r="1.3" fill="#289328" fill-opacity="0.85"/>
<g fill="none" stroke="#222222" stroke-width="1.1"><rect x="213.5" y="792.5" width="14.0" height="43.0"/><path d="M213.5 815.5H227.5M220.5 792.5V732.5M217.0 732.5H225.0M220.5 835.5V842.5M217.0 842.5H225.0"/></g>
<circle cx="221.6" cy="837.1" r="1.3" fill="#289328" fill-opacity="0.85"/><circle cx="220.4" cy="841.0" r="1.3" fill="#289328" fill-opacity="0.85"/><circle cx="220.4" cy="795.8" r="1.3" fill="#289328" fill-opacity="0.85"/><circle cx="219.8" cy="822.7" r="1.3" fill="#289328" fill-opacity="0.85"/><circle cx="220.2" cy="841.3" r="1.3" fill="#289328" fill-opacity="0.85"/><circle cx="220.1" cy="836.6" r="1.3" fill="#289328" fill-opacity="0.85"/><circle cx="219.6" cy="822.0" r="1.3" fill="#289328" fill-opacity="0.85"/><circle cx="218.9" cy="748.8" r="1.3" fill="#289328" fill-opacity="0.85"/><circle cx="221.1" cy="801.8" r="1.3" fill="#289328" fill-opacity="0.85"/><circle cx="221.2" cy="839.9" r="1.3" fill="#289328" fill-opacity="0.85"/><circle cx="219.6" cy="832.4" r="1.3" fill="#289328" fill-opacity="0.85"/><circle cx="220.4" cy="794.3" r="1.3" fill="#289328" fill-opacity="0.85"/><circle cx="221.8" cy="842.4" r="1.3" fill="#289328" fill-opacity="0.85"/><circle cx="218.4" cy="820.7" r="1.3" fill="#289328" fill-opacity="0.85"/><circle cx="220.3" cy="748.6" r="1.3" fill="#289328" fill-opacity="0.85"/><circle cx="220.2" cy="823.6" r="1.3" fill="#289328" fill-opacity="0.85"/><circle cx="222.0" cy="841.9" r="1.3" fill="#289328" fill-opacity="0.85"/><circle cx="219.9" cy="766.4" r="1.3" fill="#289328" fill-opacity="0.85"/><circle cx="218.8" cy="793.8" r="1.3" fill="#289328" fill-opacity="0.85"/><circle cx="222.3" cy="823.1" r="1.3" fill="#289328" fill-opacity="0.85"/><circle cx="222.0" cy="772.9" r="1.3" fill="#289328" fill-opacity="0.85"/><circle cx="218.8" cy="767.2" r="1.3" fill="#289328" fill-opacity="0.85"/><circle cx="218.5" cy="770.3" r="1.3" fill="#289328" fill-opacity="0.85"/><circle cx="219.8" cy="766.4" r="1.3" fill="#289328" fill-opacity="0.85"/><circle cx="220.3" cy="732.9" r="1.3" fill="#289328" fill-opacity="0.85"/><circle cx="220.3" cy="842.7" r="1.3" fill="#289328" fill-opacity="0.85"/>
<g fill="none" stroke="#222222" stroke-width="1.1"><rect x="230.5" y="738.5" width="15.0" height="45.0"/><path d="M230.5 763.5H245.5M238.5 738.5V729.5M235.0 729.5H243.0M238.5 783.5V831.5M235.0 831.5H243.0"/></g>
<circle cx="235.7" cy="795.8" r="1.3" fill="#1c6da5" fill-opacity="0.85"/><circle cx="235.7" cy="766.3" r="1.3" fill="#1c6da5" fill-opacity="0.85"/><circle cx="237.2" cy="748.9" r="1.3" fill="#1c6da5" fill-opacity="0.85"/><circle cx="236.5" cy="813.5" r="1.3" fill="#1c6da5" fill-opacity="0.85"/><circle cx="238.5" cy="752.9" r="1.3" fill="#1c6da5" fill-opacity="0.85"/><circle cx="239.7" cy="774.4" r="1.3" fill="#1c6da5" fill-opacity="0.85"/><circle cx="238.4" cy="736.2" r="1.3" fill="#1c6da5" fill-opacity="0.85"/><circle cx="235.8" cy="799.0" r="1.3" fill="#1c6da5" fill-opacity="0.85"/><circle cx="238.5" cy="754.2" r="1.3" fill="#1c6da5" fill-opacity="0.85"/><circle cx="236.6" cy="789.4" r="1.3" fill="#1c6da5" fill-opacity="0.85"/><circle cx="237.3" cy="764.6" r="1.3" fill="#1c6da5" fill-opacity="0.85"/><circle cx="240.3" cy="737.1" r="1.3" fill="#1c6da5" fill-opacity="0.85"/><circle cx="236.8" cy="744.6" r="1.3" fill="#1c6da5" fill-opacity="0.85"/><circle cx="235.8" cy="801.6" r="1.3" fill="#1c6da5" fill-opacity="0.85"/><circle cx="236.9" cy="731.5" r="1.3" fill="#1c6da5" fill-opacity="0.85"/><circle cx="240.3" cy="734.2" r="1.3" fill="#1c6da5" fill-opacity="0.85"/><circle cx="236.7" cy="766.2" r="1.3" fill="#1c6da5" fill-opacity="0.85"/><circle cx="239.6" cy="820.9" r="1.3" fill="#1c6da5" fill-opacity="0.85"/><circle cx="239.4" cy="802.1" r="1.3" fill="#1c6da5" fill-opacity="0.85"/><circle cx="239.2" cy="771.7" r="1.3" fill="#1c6da5" fill-opacity="0.85"/><circle cx="236.0" cy="738.4" r="1.3" fill="#1c6da5" fill-opacity="0.85"/><circle cx="235.6" cy="773.9" r="1.3" fill="#1c6da5" fill-opacity="0.85"/><circle cx="237.4" cy="779.4" r="1.3" fill="#1c6da5" fill-opacity="0.85"/><circle cx="237.0" cy="760.4" r="1.3" fill="#1c6da5" fill-opacity="0.85"/><circle cx="238.0" cy="729.9" r="1.3" fill="#1c6da5" fill-opacity="0.85"/><circle cx="238.0" cy="831.6" r="1.3" fill="#1c6da5" fill-opacity="0.85"/>
<g fill="none" stroke="#222222" stroke-width="1.1"><rect x="248.5" y="790.5" width="14.0" height="44.0"/><path d="M248.5 812.5H262.5M255.5 790.5V731.5M252.0 731.5H260.0M255.5 834.5V839.5M252.0 839.5H260.0"/></g>
<circle cx="258.0" cy="837.3" r="1.3" fill="#15aebe" fill-opacity="0.85"/><circle cx="255.7" cy="812.2" r="1.3" fill="#15aebe" fill-opacity="0.85"/><circle cx="254.3" cy="796.7" r="1.3" fill="#15aebe" fill-opacity="0.85"/><circle cx="254.9" cy="769.6" r="1.3" fill="#15aebe" fill-opacity="0.85"/><circle cx="254.7" cy="837.5" r="1.3" fill="#15aebe" fill-opacity="0.85"/><circle cx="255.1" cy="792.6" r="1.3" fill="#15aebe" fill-opacity="0.85"/><circle cx="255.9" cy="805.7" r="1.3" fill="#15aebe" fill-opacity="0.85"/><circle cx="257.4" cy="820.2" r="1.3" fill="#15aebe" fill-opacity="0.85"/><circle cx="257.9" cy="816.3" r="1.3" fill="#15aebe" fill-opacity="0.85"/><circle cx="254.1" cy="817.0" r="1.3" fill="#15aebe" fill-opacity="0.85"/><circle cx="255.4" cy="838.0" r="1.3" fill="#15aebe" fill-opacity="0.85"/><circle cx="257.1" cy="824.4" r="1.3" fill="#15aebe" fill-opacity="0.85"/><circle cx="255.1" cy="798.0" r="1.3" fill="#15aebe" fill-opacity="0.85"/><circle cx="254.4" cy="834.8" r="1.3" fill="#15aebe" fill-opacity="0.85"/><circle cx="256.5" cy="750.5" r="1.3" fill="#15aebe" fill-opacity="0.85"/><circle cx="254.2" cy="813.9" r="1.3" fill="#15aebe" fill-opacity="0.85"/><circle cx="256.6" cy="806.2" r="1.3" fill="#15aebe" fill-opacity="0.85"/><circle cx="254.0" cy="806.3" r="1.3" fill="#15aebe" fill-opacity="0.85"/><circle cx="255.7" cy="835.6" r="1.3" fill="#15aebe" fill-opacity="0.85"/><circle cx="255.7" cy="731.8" r="1.3" fill="#15aebe" fill-opacity="0.85"/><circle cx="255.7" cy="839.7" r="1.3" fill="#15aebe" fill-opacity="0.85"/>
<g fill="none" stroke="#222222" stroke-width="1.1"><rect x="266.5" y="745.5" width="14.0" height="55.0"/><path d="M266.5 756.5H280.5M273.5 745.5V738.5M270.0 738.5H278.0M273.5 800.5V816.5M270.0 816.5H278.0"/></g>
<circle cx="271.6" cy="770.4" r="1.3" fill="#c42324" fill-opacity="0.85"/><circle cx="271.6" cy="766.8" r="1.3" fill="#c42324" fill-opacity="0.85"/><circle cx="273.6" cy="763.4" r="1.3" fill="#c42324" fill-opacity="0.85"/><circle cx="273.7" cy="812.7" r="1.3" fill="#c42324" fill-opacity="0.85"/><circle cx="275.0" cy="776.3" r="1.3" fill="#c42324" fill-opacity="0.85"/><circle cx="272.7" cy="812.2" r="1.3" fill="#c42324" fill-opacity="0.85"/><circle cx="274.9" cy="747.5" r="1.3" fill="#c42324" fill-opacity="0.85"/><circle cx="273.9" cy="802.2" r="1.3" fill="#c42324" fill-opacity="0.85"/><circle cx="275.7" cy="749.5" r="1.3" fill="#c42324" fill-opacity="0.85"/><circle cx="275.1" cy="804.7" r="1.3" fill="#c42324" fill-opacity="0.85"/><circle cx="273.5" cy="755.3" r="1.3" fill="#c42324" fill-opacity="0.85"/><circle cx="273.1" cy="751.9" r="1.3" fill="#c42324" fill-opacity="0.85"/><circle cx="273.5" cy="740.8" r="1.3" fill="#c42324" fill-opacity="0.85"/><circle cx="275.3" cy="744.4" r="1.3" fill="#c42324" fill-opacity="0.85"/><circle cx="273.4" cy="738.5" r="1.3" fill="#c42324" fill-opacity="0.85"/><circle cx="273.4" cy="816.1" r="1.3" fill="#c42324" fill-opacity="0.85"/>
<g fill="none" stroke="#222222" stroke-width="1.1"><rect x="283.5" y="845.5" width="15.0" height="4.0"/><path d="M283.5 847.5H298.5M291.5 845.5V843.5M288.0 843.5H296.0M291.5 849.5V851.5M288.0 851.5H296.0"/></g>
<circle cx="289.1" cy="849.3" r="1.3" fill="#1c6da5" fill-opacity="0.85"/><circle cx="292.6" cy="849.1" r="1.3" fill="#1c6da5" fill-opacity="0.85"/><circle cx="288.6" cy="848.7" r="1.3" fill="#1c6da5" fill-opacity="0.85"/><circle cx="295.9" cy="845.5" r="1.3" fill="#1c6da5" fill-opacity="0.85"/><circle cx="290.4" cy="843.4" r="1.3" fill="#1c6da5" fill-opacity="0.85"/><circle cx="296.2" cy="844.7" r="1.3" fill="#1c6da5" fill-opacity="0.85"/><circle cx="287.8" cy="843.9" r="1.3" fill="#1c6da5" fill-opacity="0.85"/><circle cx="291.7" cy="845.5" r="1.3" fill="#1c6da5" fill-opacity="0.85"/><circle cx="286.8" cy="850.8" r="1.3" fill="#1c6da5" fill-opacity="0.85"/><circle cx="294.5" cy="850.1" r="1.3" fill="#1c6da5" fill-opacity="0.85"/><circle cx="296.6" cy="848.6" r="1.3" fill="#1c6da5" fill-opacity="0.85"/><circle cx="295.1" cy="846.3" r="1.3" fill="#1c6da5" fill-opacity="0.85"/><circle cx="289.8" cy="846.5" r="1.3" fill="#1c6da5" fill-opacity="0.85"/><circle cx="296.5" cy="848.5" r="1.3" fill="#1c6da5" fill-opacity="0.85"/><circle cx="291.1" cy="847.3" r="1.3" fill="#1c6da5" fill-opacity="0.85"/><circle cx="294.0" cy="846.2" r="1.3" fill="#1c6da5" fill-opacity="0.85"/><circle cx="287.6" cy="844.6" r="1.3" fill="#1c6da5" fill-opacity="0.85"/><circle cx="293.0" cy="846.3" r="1.3" fill="#1c6da5" fill-opacity="0.85"/><circle cx="286.9" cy="847.2" r="1.3" fill="#1c6da5" fill-opacity="0.85"/><circle cx="291.2" cy="844.4" r="1.3" fill="#1c6da5" fill-opacity="0.85"/><circle cx="293.8" cy="844.8" r="1.3" fill="#1c6da5" fill-opacity="0.85"/><circle cx="286.2" cy="846.0" r="1.3" fill="#1c6da5" fill-opacity="0.85"/><circle cx="290.9" cy="846.7" r="1.3" fill="#1c6da5" fill-opacity="0.85"/><circle cx="287.7" cy="847.0" r="1.3" fill="#1c6da5" fill-opacity="0.85"/><circle cx="294.7" cy="849.4" r="1.3" fill="#1c6da5" fill-opacity="0.85"/><circle cx="291.7" cy="845.9" r="1.3" fill="#1c6da5" fill-opacity="0.85"/><circle cx="286.6" cy="850.4" r="1.3" fill="#1c6da5" fill-opacity="0.85"/><circle cx="295.4" cy="844.7" r="1.3" fill="#1c6da5" fill-opacity="0.85"/><circle cx="291.1" cy="843.4" r="1.3" fill="#1c6da5" fill-opacity="0.85"/><circle cx="291.1" cy="851.0" r="1.3" fill="#1c6da5" fill-opacity="0.85"/>
<g fill="none" stroke="#222222" stroke-width="1.1"><rect x="301.5" y="738.5" width="14.0" height="79.0"/><path d="M301.5 788.5H315.5M308.5 738.5V731.5M305.0 731.5H313.0M308.5 817.5V847.5M305.0 847.5H313.0"/></g>
<circle cx="310.3" cy="733.6" r="1.3" fill="#747474" fill-opacity="0.85"/><circle cx="311.0" cy="763.8" r="1.3" fill="#747474" fill-opacity="0.85"/><circle cx="308.4" cy="809.1" r="1.3" fill="#747474" fill-opacity="0.85"/><circle cx="307.4" cy="821.6" r="1.3" fill="#747474" fill-opacity="0.85"/><circle cx="307.1" cy="735.5" r="1.3" fill="#747474" fill-opacity="0.85"/><circle cx="307.3" cy="771.4" r="1.3" fill="#747474" fill-opacity="0.85"/><circle cx="308.5" cy="774.6" r="1.3" fill="#747474" fill-opacity="0.85"/><circle cx="306.5" cy="842.6" r="1.3" fill="#747474" fill-opacity="0.85"/><circle cx="306.6" cy="736.7" r="1.3" fill="#747474" fill-opacity="0.85"/><circle cx="309.0" cy="734.3" r="1.3" fill="#747474" fill-opacity="0.85"/><circle cx="307.8" cy="755.3" r="1.3" fill="#747474" fill-opacity="0.85"/><circle cx="309.1" cy="824.1" r="1.3" fill="#747474" fill-opacity="0.85"/><circle cx="308.8" cy="731.5" r="1.3" fill="#747474" fill-opacity="0.85"/><circle cx="308.8" cy="847.6" r="1.3" fill="#747474" fill-opacity="0.85"/>
<g fill="none" stroke="#222222" stroke-width="1.1"><rect x="319.5" y="795.5" width="14.0" height="38.0"/><path d="M319.5 812.5H333.5M326.5 795.5V742.5M323.0 742.5H331.0M326.5 833.5V852.5M323.0 852.5H331.0"/></g>
<circle cx="326.4" cy="840.3" r="1.3" fill="#804f45" fill-opacity="0.85"/><circle cx="327.4" cy="808.7" r="1.3" fill="#804f45" fill-opacity="0.85"/><circle cx="327.6" cy="812.2" r="1.3" fill="#804f45" fill-opacity="0.85"/><circle cx="328.2" cy="801.2" r="1.3" fill="#804f45" fill-opacity="0.85"/><circle cx="324.5" cy="823.8" r="1.3" fill="#804f45" fill-opacity="0.85"/><circle cx="326.4" cy="830.0" r="1.3" fill="#804f45" fill-opacity="0.85"/><circle cx="326.3" cy="821.8" r="1.3" fill="#804f45" fill-opacity="0.85"/><circle cx="327.5" cy="803.1" r="1.3" fill="#804f45" fill-opacity="0.85"/><circle cx="324.1" cy="824.7" r="1.3" fill="#804f45" fill-opacity="0.85"/><circle cx="327.4" cy="829.2" r="1.3" fill="#804f45" fill-opacity="0.85"/><circle cx="325.1" cy="743.1" r="1.3" fill="#804f45" fill-opacity="0.85"/><circle cx="326.0" cy="804.3" r="1.3" fill="#804f45" fill-opacity="0.85"/><circle cx="325.6" cy="774.6" r="1.3" fill="#804f45" fill-opacity="0.85"/><circle cx="326.5" cy="797.0" r="1.3" fill="#804f45" fill-opacity="0.85"/><circle cx="327.8" cy="816.6" r="1.3" fill="#804f45" fill-opacity="0.85"/><circle cx="324.9" cy="770.2" r="1.3" fill="#804f45" fill-opacity="0.85"/><circle cx="326.0" cy="799.2" r="1.3" fill="#804f45" fill-opacity="0.85"/><circle cx="326.3" cy="843.8" r="1.3" fill="#804f45" fill-opacity="0.85"/><circle cx="326.7" cy="837.9" r="1.3" fill="#804f45" fill-opacity="0.85"/><circle cx="325.8" cy="790.8" r="1.3" fill="#804f45" fill-opacity="0.85"/><circle cx="324.1" cy="744.0" r="1.3" fill="#804f45" fill-opacity="0.85"/><circle cx="328.1" cy="845.2" r="1.3" fill="#804f45" fill-opacity="0.85"/><circle cx="325.5" cy="828.3" r="1.3" fill="#804f45" fill-opacity="0.85"/><circle cx="325.1" cy="847.0" r="1.3" fill="#804f45" fill-opacity="0.85"/><circle cx="327.2" cy="845.6" r="1.3" fill="#804f45" fill-opacity="0.85"/><circle cx="326.5" cy="742.9" r="1.3" fill="#804f45" fill-opacity="0.85"/><circle cx="326.5" cy="852.1" r="1.3" fill="#804f45" fill-opacity="0.85"/>
<g fill="none" stroke="#222222" stroke-width="1.1"><rect x="337.5" y="812.5" width="14.0" height="36.0"/><path d="M337.5 832.5H351.5M344.5 812.5V795.5M341.0 795.5H349.0M344.5 848.5V852.5M341.0 852.5H349.0"/></g>
<circle cx="343.3" cy="832.7" r="1.3" fill="#885ead" fill-opacity="0.85"/><circle cx="342.4" cy="849.6" r="1.3" fill="#885ead" fill-opacity="0.85"/><circle cx="345.6" cy="849.5" r="1.3" fill="#885ead" fill-opacity="0.85"/><circle cx="345.6" cy="829.0" r="1.3" fill="#885ead" fill-opacity="0.85"/><circle cx="344.2" cy="795.0" r="1.3" fill="#885ead" fill-opacity="0.85"/><circle cx="344.2" cy="852.1" r="1.3" fill="#885ead" fill-opacity="0.85"/>
<g fill="none" stroke="#222222" stroke-width="1.1"><rect x="354.5" y="782.5" width="14.0" height="64.0"/><path d="M354.5 819.5H368.5M361.5 782.5V732.5M358.0 732.5H366.0M361.5 846.5V850.5M358.0 850.5H366.0"/></g>
<circle cx="359.8" cy="799.6" r="1.3" fill="#ea740c" fill-opacity="0.85"/><circle cx="362.9" cy="781.2" r="1.3" fill="#ea740c" fill-opacity="0.85"/><circle cx="361.4" cy="834.9" r="1.3" fill="#ea740c" fill-opacity="0.85"/><circle cx="360.0" cy="847.9" r="1.3" fill="#ea740c" fill-opacity="0.85"/><circle cx="364.1" cy="847.5" r="1.3" fill="#ea740c" fill-opacity="0.85"/><circle cx="360.6" cy="818.5" r="1.3" fill="#ea740c" fill-opacity="0.85"/><circle cx="362.6" cy="766.4" r="1.3" fill="#ea740c" fill-opacity="0.85"/><circle cx="363.1" cy="762.9" r="1.3" fill="#ea740c" fill-opacity="0.85"/><circle cx="359.7" cy="839.4" r="1.3" fill="#ea740c" fill-opacity="0.85"/><circle cx="360.4" cy="790.5" r="1.3" fill="#ea740c" fill-opacity="0.85"/><circle cx="360.8" cy="797.6" r="1.3" fill="#ea740c" fill-opacity="0.85"/><circle cx="361.5" cy="813.2" r="1.3" fill="#ea740c" fill-opacity="0.85"/><circle cx="360.6" cy="737.9" r="1.3" fill="#ea740c" fill-opacity="0.85"/><circle cx="361.9" cy="732.8" r="1.3" fill="#ea740c" fill-opacity="0.85"/><circle cx="361.9" cy="850.1" r="1.3" fill="#ea740c" fill-opacity="0.85"/>
<g fill="none" stroke="#222222" stroke-width="1.1"><rect x="372.5" y="772.5" width="14.0" height="71.0"/><path d="M372.5 813.5H386.5M379.5 772.5V733.5M376.0 733.5H384.0M379.5 843.5V855.5M376.0 855.5H384.0"/></g>
<circle cx="377.3" cy="848.9" r="1.3" fill="#804f45" fill-opacity="0.85"/><circle cx="378.6" cy="778.1" r="1.3" fill="#804f45" fill-opacity="0.85"/><circle cx="377.5" cy="852.4" r="1.3" fill="#804f45" fill-opacity="0.85"/><circle cx="378.6" cy="767.8" r="1.3" fill="#804f45" fill-opacity="0.85"/><circle cx="379.0" cy="844.1" r="1.3" fill="#804f45" fill-opacity="0.85"/><circle cx="377.2" cy="809.9" r="1.3" fill="#804f45" fill-opacity="0.85"/><circle cx="377.5" cy="827.9" r="1.3" fill="#804f45" fill-opacity="0.85"/><circle cx="379.6" cy="829.9" r="1.3" fill="#804f45" fill-opacity="0.85"/><circle cx="379.2" cy="784.9" r="1.3" fill="#804f45" fill-opacity="0.85"/><circle cx="381.2" cy="826.6" r="1.3" fill="#804f45" fill-opacity="0.85"/><circle cx="377.6" cy="790.5" r="1.3" fill="#804f45" fill-opacity="0.85"/><circle cx="380.0" cy="756.3" r="1.3" fill="#804f45" fill-opacity="0.85"/><circle cx="377.5" cy="768.1" r="1.3" fill="#804f45" fill-opacity="0.85"/><circle cx="380.6" cy="850.9" r="1.3" fill="#804f45" fill-opacity="0.85"/><circle cx="378.0" cy="808.2" r="1.3" fill="#804f45" fill-opacity="0.85"/><circle cx="380.0" cy="823.7" r="1.3" fill="#804f45" fill-opacity="0.85"/><circle cx="380.2" cy="824.1" r="1.3" fill="#804f45" fill-opacity="0.85"/><circle cx="379.5" cy="786.3" r="1.3" fill="#804f45" fill-opacity="0.85"/><circle cx="379.6" cy="835.6" r="1.3" fill="#804f45" fill-opacity="0.85"/><circle cx="378.9" cy="852.5" r="1.3" fill="#804f45" fill-opacity="0.85"/><circle cx="378.5" cy="779.7" r="1.3" fill="#804f45" fill-opacity="0.85"/><circle cx="381.9" cy="737.6" r="1.3" fill="#804f45" fill-opacity="0.85"/><circle cx="381.1" cy="762.1" r="1.3" fill="#804f45" fill-opacity="0.85"/><circle cx="381.9" cy="846.3" r="1.3" fill="#804f45" fill-opacity="0.85"/><circle cx="379.8" cy="853.5" r="1.3" fill="#804f45" fill-opacity="0.85"/><circle cx="378.0" cy="781.8" r="1.3" fill="#804f45" fill-opacity="0.85"/><circle cx="378.1" cy="799.6" r="1.3" fill="#804f45" fill-opacity="0.85"/><circle cx="377.6" cy="792.6" r="1.3" fill="#804f45" fill-opacity="0.85"/><circle cx="379.4" cy="845.1" r="1.3" fill="#804f45" fill-opacity="0.85"/><circle cx="377.4" cy="852.1" r="1.3" fill="#804f45" fill-opacity="0.85"/><circle cx="379.0" cy="774.9" r="1.3" fill="#804f45" fill-opacity="0.85"/><circle cx="380.5" cy="817.0" r="1.3" fill="#804f45" fill-opacity="0.85"/><circle cx="379.1" cy="851.6" r="1.3" fill="#804f45" fill-opacity="0.85"/><circle cx="378.1" cy="850.0" r="1.3" fill="#804f45" fill-opacity="0.85"/><circle cx="380.9" cy="734.9" r="1.3" fill="#804f45" fill-opacity="0.85"/><circle cx="381.2" cy="754.1" r="1.3" fill="#804f45" fill-opacity="0.85"/><circle cx="380.6" cy="790.5" r="1.3" fill="#804f45" fill-opacity="0.85"/><circle cx="381.4" cy="739.9" r="1.3" fill="#804f45" fill-opacity="0.85"/><circle cx="379.4" cy="787.3" r="1.3" fill="#804f45" fill-opacity="0.85"/><circle cx="381.0" cy="817.4" r="1.3" fill="#804f45" fill-opacity="0.85"/><circle cx="380.4" cy="739.5" r="1.3" fill="#804f45" fill-opacity="0.85"/><circle cx="379.9" cy="832.7" r="1.3" fill="#804f45" fill-opacity="0.85"/><circle cx="377.6" cy="819.7" r="1.3" fill="#804f45" fill-opacity="0.85"/><circle cx="378.2" cy="792.3" r="1.3" fill="#804f45" fill-opacity="0.85"/><circle cx="381.2" cy="759.3" r="1.3" fill="#804f45" fill-opacity="0.85"/><circle cx="379.0" cy="824.7" r="1.3" fill="#804f45" fill-opacity="0.85"/><circle cx="379.0" cy="812.6" r="1.3" fill="#804f45" fill-opacity="0.85"/><circle cx="379.0" cy="782.0" r="1.3" fill="#804f45" fill-opacity="0.85"/><circle cx="378.2" cy="774.8" r="1.3" fill="#804f45" fill-opacity="0.85"/><circle cx="377.6" cy="842.2" r="1.3" fill="#804f45" fill-opacity="0.85"/><circle cx="379.6" cy="850.8" r="1.3" fill="#804f45" fill-opacity="0.85"/><circle cx="381.8" cy="823.3" r="1.3" fill="#804f45" fill-opacity="0.85"/><circle cx="381.4" cy="772.8" r="1.3" fill="#804f45" fill-opacity="0.85"/><circle cx="377.3" cy="782.9" r="1.3" fill="#804f45" fill-opacity="0.85"/><circle cx="380.5" cy="853.5" r="1.3" fill="#804f45" fill-opacity="0.85"/><circle cx="377.9" cy="853.6" r="1.3" fill="#804f45" fill-opacity="0.85"/><circle cx="379.1" cy="847.1" r="1.3" fill="#804f45" fill-opacity="0.85"/><circle cx="379.9" cy="793.0" r="1.3" fill="#804f45" fill-opacity="0.85"/><circle cx="380.0" cy="747.8" r="1.3" fill="#804f45" fill-opacity="0.85"/><circle cx="379.9" cy="740.7" r="1.3" fill="#804f45" fill-opacity="0.85"/><circle cx="378.9" cy="777.2" r="1.3" fill="#804f45" fill-opacity="0.85"/><circle cx="379.6" cy="733.5" r="1.3" fill="#804f45" fill-opacity="0.85"/><circle cx="379.6" cy="855.8" r="1.3" fill="#804f45" fill-opacity="0.85"/>
<text x="112.65" y="873.10" font-size="10.90" text-anchor="end" textLength="61.10" lengthAdjust="spacingAndGlyphs" transform="rotate(-45 112.65 873.10)">Blood lipids</text>
<text x="130.34" y="873.10" font-size="10.90" text-anchor="end" textLength="44.52" lengthAdjust="spacingAndGlyphs" transform="rotate(-45 130.34 873.10)">Lifestyle</text>
<text x="148.03" y="873.10" font-size="10.90" text-anchor="end" textLength="120.56" lengthAdjust="spacingAndGlyphs" transform="rotate(-45 148.03 873.10)">Cardiovascular system</text>
<text x="165.73" y="873.10" font-size="10.90" text-anchor="end" textLength="62.93" lengthAdjust="spacingAndGlyphs" transform="rotate(-45 165.73 873.10)">Liver health</text>
<text x="183.42" y="873.10" font-size="10.90" text-anchor="end" textLength="72.91" lengthAdjust="spacingAndGlyphs" transform="rotate(-45 183.42 873.10)">Mental health</text>
<text x="201.12" y="873.10" font-size="10.90" text-anchor="end" textLength="83.68" lengthAdjust="spacingAndGlyphs" transform="rotate(-45 201.12 873.10)">Gut MB families</text>
<text x="218.81" y="873.10" font-size="10.90" text-anchor="end" textLength="92.42" lengthAdjust="spacingAndGlyphs" transform="rotate(-45 218.81 873.10)">Insulin resistance</text>
<text x="236.50" y="873.10" font-size="10.90" text-anchor="end" textLength="119.26" lengthAdjust="spacingAndGlyphs" transform="rotate(-45 236.50 873.10)">Hematopoietic system</text>
<text x="254.20" y="873.10" font-size="10.90" text-anchor="end" textLength="96.33" lengthAdjust="spacingAndGlyphs" transform="rotate(-45 254.20 873.10)">Body Composition</text>
<text x="271.89" y="873.10" font-size="10.90" text-anchor="end" textLength="126.65" lengthAdjust="spacingAndGlyphs" transform="rotate(-45 271.89 873.10)">MB metabolic pathways</text>
<text x="289.58" y="873.10" font-size="10.90" text-anchor="end" textLength="70.67" lengthAdjust="spacingAndGlyphs" transform="rotate(-45 289.58 873.10)">Bone Density</text>
<text x="307.28" y="873.10" font-size="10.90" text-anchor="end" textLength="76.24" lengthAdjust="spacingAndGlyphs" transform="rotate(-45 307.28 873.10)">Renal function</text>
<text x="324.97" y="873.10" font-size="10.90" text-anchor="end" textLength="32.50" lengthAdjust="spacingAndGlyphs" transform="rotate(-45 324.97 873.10)">Frailty</text>
<text x="342.67" y="873.10" font-size="10.90" text-anchor="end" textLength="21.78" lengthAdjust="spacingAndGlyphs" transform="rotate(-45 342.67 873.10)">Diet</text>
<text x="360.36" y="873.10" font-size="10.90" text-anchor="end" textLength="85.43" lengthAdjust="spacingAndGlyphs" transform="rotate(-45 360.36 873.10)">Immune system</text>
<text x="378.05" y="873.10" font-size="10.90" text-anchor="end" textLength="63.49" lengthAdjust="spacingAndGlyphs" transform="rotate(-45 378.05 873.10)">Medications</text>
<text x="67.6" y="792" font-size="10.90" text-anchor="middle" transform="rotate(-90 67.6 792)" textLength="58.12" lengthAdjust="spacingAndGlyphs">(Pearson <tspan font-style="italic">r</tspan>)</text>
<path d="M145.0 1.8L119.3 17.2M122.4 10.9L119.3 17.2L126.3 17.4" fill="none" stroke="#000" stroke-width="2.3" stroke-linecap="butt" stroke-linejoin="miter"/>
<path d="M170.0 26.7L151.3 51.1M151.8 44.1L151.3 51.1L157.9 48.8" fill="none" stroke="#000" stroke-width="2.3" stroke-linecap="butt" stroke-linejoin="miter"/>
<path d="M193.7 95.5L169.6 118.5M171.2 111.7L169.6 118.5L176.5 117.2" fill="none" stroke="#000" stroke-width="2.3" stroke-linecap="butt" stroke-linejoin="miter"/>
<path d="M231.7 91.0L205.4 112.6M207.5 105.9L205.4 112.6L212.4 111.8" fill="none" stroke="#000" stroke-width="2.3" stroke-linecap="butt" stroke-linejoin="miter"/>
<path d="M247.1 113.3L224.7 133.0M226.6 126.3L224.7 133.0L231.6 132.0" fill="none" stroke="#000" stroke-width="2.3" stroke-linecap="butt" stroke-linejoin="miter"/>
<path d="M150.8 540.3L133.6 561.0M134.4 554.0L133.6 561.0L140.3 558.9" fill="none" stroke="#000" stroke-width="2.3" stroke-linecap="butt" stroke-linejoin="miter"/>
<path d="M169.6 574.3L151.7 593.1M153.0 586.2L151.7 593.1L158.5 591.5" fill="none" stroke="#000" stroke-width="2.3" stroke-linecap="butt" stroke-linejoin="miter"/>
<path d="M204.9 586.0L187.4 602.7M189.0 595.9L187.4 602.7L194.3 601.4" fill="none" stroke="#000" stroke-width="2.3" stroke-linecap="butt" stroke-linejoin="miter"/>
<path d="M245.8 498.1L225.7 512.7M228.2 506.2L225.7 512.7L232.7 512.3" fill="none" stroke="#000" stroke-width="2.3" stroke-linecap="butt" stroke-linejoin="miter"/>
<path d="M257.5 604.1L240.0 617.8M242.3 611.2L240.0 617.8L247.0 617.2" fill="none" stroke="#000" stroke-width="2.3" stroke-linecap="butt" stroke-linejoin="miter"/>
<rect x="559.7" y="19.8" width="19.7" height="22.4" fill="#eba1a6"/>
<ellipse cx="579.6" cy="31.0" rx="6.2" ry="3.4" fill="#000" opacity="0.10"/>
<path d="M575.4 31.0H583.9" stroke="#0a0a0a" stroke-width="2.40" stroke-linecap="round"/>
<text x="588.60" y="34.80" font-size="10.10" fill="#eba1a6" textLength="27.20" lengthAdjust="spacingAndGlyphs">0.062</text>
<rect x="559.7" y="47.8" width="70.2" height="22.4" fill="#c23b44"/>
<ellipse cx="630.2" cy="59.0" rx="5.2" ry="3.4" fill="#000" opacity="0.10"/>
<path d="M626.9 59.0H633.4" stroke="#0a0a0a" stroke-width="2.40" stroke-linecap="round"/>
<text x="639.11" y="62.85" font-size="10.10" fill="#c23b44" textLength="27.20" lengthAdjust="spacingAndGlyphs">0.221</text>
<path d="M559.7 17.0V73.1H668.0" fill="none" stroke="#6a6a6a" stroke-width="1"/>
<text x="613.85" y="13.40" font-size="10.90" text-anchor="middle" textLength="125.32" lengthAdjust="spacingAndGlyphs">total arousal sleep time</text>
<text x="555.50" y="34.80" font-size="10.90" text-anchor="end" textLength="81.26" lengthAdjust="spacingAndGlyphs">Age, BMI &amp; VAT</text>
<text x="552.13" y="57.85" font-size="10.90" text-anchor="end" textLength="73.00" lengthAdjust="spacingAndGlyphs">Age, BMI, VAT</text>
<text x="555.50" y="69.55" font-size="10.90" text-anchor="end" textLength="56.16" lengthAdjust="spacingAndGlyphs">&amp; Lifestyle</text>
<rect x="559.7" y="104.0" width="3.8" height="22.4" fill="#a2dc98"/>
<ellipse cx="567.0" cy="115.2" rx="9.0" ry="3.4" fill="#000" opacity="0.10"/>
<path d="M560.0 115.2H574.0" stroke="#0a0a0a" stroke-width="1.20" stroke-linecap="round"/>
<text x="572.71" y="119.00" font-size="10.10" fill="#a2dc98" textLength="27.20" lengthAdjust="spacingAndGlyphs">0.012</text>
<rect x="559.7" y="132.1" width="69.9" height="22.4" fill="#4c9f40"/>
<ellipse cx="629.8" cy="143.2" rx="5.2" ry="3.4" fill="#000" opacity="0.10"/>
<path d="M626.6 143.2H633.1" stroke="#0a0a0a" stroke-width="2.40" stroke-linecap="round"/>
<text x="638.79" y="147.05" font-size="10.10" fill="#4c9f40" textLength="27.20" lengthAdjust="spacingAndGlyphs">0.220</text>
<path d="M559.7 101.2V157.3H668.0" fill="none" stroke="#6a6a6a" stroke-width="1"/>
<text x="613.85" y="97.60" font-size="10.90" text-anchor="middle" textLength="87.33" lengthAdjust="spacingAndGlyphs">SpO2 max value</text>
<text x="555.50" y="119.00" font-size="10.90" text-anchor="end" textLength="81.26" lengthAdjust="spacingAndGlyphs">Age, BMI &amp; VAT</text>
<text x="552.13" y="142.05" font-size="10.90" text-anchor="end" textLength="73.00" lengthAdjust="spacingAndGlyphs">Age, BMI, VAT</text>
<text x="555.50" y="153.75" font-size="10.90" text-anchor="end" textLength="104.06" lengthAdjust="spacingAndGlyphs">&amp; Insulin resistance</text>
<rect x="559.7" y="189.0" width="15.2" height="22.4" fill="#b6cae3"/>
<ellipse cx="574.4" cy="200.2" rx="11.0" ry="3.4" fill="#000" opacity="0.10"/>
<path d="M565.4 200.2H583.4" stroke="#0a0a0a" stroke-width="1.27" stroke-linecap="round"/>
<text x="584.15" y="204.00" font-size="10.10" fill="#b6cae3" textLength="27.20" lengthAdjust="spacingAndGlyphs">0.048</text>
<rect x="559.7" y="217.1" width="45.1" height="22.4" fill="#467ea3"/>
<ellipse cx="605.1" cy="228.2" rx="7.8" ry="3.4" fill="#000" opacity="0.10"/>
<path d="M599.3 228.2H610.8" stroke="#0a0a0a" stroke-width="1.42" stroke-linecap="round"/>
<text x="614.01" y="232.05" font-size="10.10" fill="#467ea3" textLength="27.20" lengthAdjust="spacingAndGlyphs">0.142</text>
<path d="M559.7 186.2V242.3H668.0" fill="none" stroke="#6a6a6a" stroke-width="1"/>
<text x="613.85" y="182.60" font-size="10.90" text-anchor="middle" textLength="87.33" lengthAdjust="spacingAndGlyphs">SpO2 max value</text>
<text x="555.50" y="204.00" font-size="10.90" text-anchor="end" textLength="81.26" lengthAdjust="spacingAndGlyphs">Age, BMI &amp; VAT</text>
<text x="552.13" y="227.05" font-size="10.90" text-anchor="end" textLength="73.00" lengthAdjust="spacingAndGlyphs">Age, BMI, VAT</text>
<text x="555.50" y="238.75" font-size="10.90" text-anchor="end" textLength="130.89" lengthAdjust="spacingAndGlyphs">&amp; Hematopoietic system</text>
<rect x="559.7" y="273.3" width="13.0" height="22.4" fill="#cdd394"/>
<ellipse cx="573.3" cy="284.5" rx="9.9" ry="3.4" fill="#000" opacity="0.10"/>
<path d="M565.4 284.5H581.2" stroke="#0a0a0a" stroke-width="1.27" stroke-linecap="round"/>
<text x="581.93" y="288.30" font-size="10.10" fill="#cdd394" textLength="27.20" lengthAdjust="spacingAndGlyphs">0.041</text>
<rect x="559.7" y="301.4" width="40.0" height="22.4" fill="#a6b23e"/>
<ellipse cx="600.0" cy="312.6" rx="10.3" ry="3.4" fill="#000" opacity="0.10"/>
<path d="M591.7 312.6H608.3" stroke="#0a0a0a" stroke-width="1.42" stroke-linecap="round"/>
<text x="608.93" y="316.35" font-size="10.10" fill="#a6b23e" textLength="27.20" lengthAdjust="spacingAndGlyphs">0.126</text>
<path d="M559.7 270.5V326.6H668.0" fill="none" stroke="#6a6a6a" stroke-width="1"/>
<text x="613.85" y="266.90" font-size="10.90" text-anchor="middle" textLength="87.33" lengthAdjust="spacingAndGlyphs">SpO2 max value</text>
<text x="555.50" y="288.30" font-size="10.90" text-anchor="end" textLength="81.26" lengthAdjust="spacingAndGlyphs">Age, BMI &amp; VAT</text>
<text x="552.13" y="305.50" font-size="10.90" text-anchor="end" textLength="73.00" lengthAdjust="spacingAndGlyphs">Age, BMI, VAT</text>
<text x="555.50" y="317.20" font-size="10.90" text-anchor="end" textLength="90.50" lengthAdjust="spacingAndGlyphs">&amp; Cardiovascular</text>
<text x="555.50" y="328.90" font-size="10.90" text-anchor="end" textLength="38.32" lengthAdjust="spacingAndGlyphs">system</text>
<rect x="559.7" y="357.9" width="49.2" height="22.4" fill="#b6cae3"/>
<ellipse cx="608.9" cy="369.1" rx="3.6" ry="3.6" fill="#000" opacity="0.12"/>
<ellipse cx="608.9" cy="369.1" rx="2.0" ry="3.0" fill="#0a0a0a"/>
<text x="618.14" y="372.90" font-size="10.10" fill="#b6cae3" textLength="27.20" lengthAdjust="spacingAndGlyphs">0.155</text>
<rect x="559.7" y="386.0" width="55.9" height="22.4" fill="#467ea3"/>
<ellipse cx="616.1" cy="397.2" rx="5.5" ry="3.4" fill="#000" opacity="0.10"/>
<path d="M612.6 397.2H619.6" stroke="#0a0a0a" stroke-width="2.40" stroke-linecap="round"/>
<text x="624.82" y="400.95" font-size="10.10" fill="#467ea3" textLength="27.20" lengthAdjust="spacingAndGlyphs">0.176</text>
<path d="M559.7 355.1V411.2H668.0" fill="none" stroke="#6a6a6a" stroke-width="1"/>
<text x="613.85" y="351.50" font-size="10.90" text-anchor="middle" textLength="95.56" lengthAdjust="spacingAndGlyphs">snore above 40db</text>
<text x="555.50" y="372.90" font-size="10.90" text-anchor="end" textLength="81.26" lengthAdjust="spacingAndGlyphs">Age, BMI &amp; VAT</text>
<text x="552.13" y="395.95" font-size="10.90" text-anchor="end" textLength="73.00" lengthAdjust="spacingAndGlyphs">Age, BMI, VAT</text>
<text x="555.50" y="407.65" font-size="10.90" text-anchor="end" textLength="82.30" lengthAdjust="spacingAndGlyphs">&amp; Bone Density</text>
<text x="559.70" y="424.00" font-size="10.90" text-anchor="middle" textLength="16.86" lengthAdjust="spacingAndGlyphs">0.0</text>
<text x="655.01" y="424.00" font-size="10.90" text-anchor="middle" textLength="16.86" lengthAdjust="spacingAndGlyphs">0.3</text>
<text x="613.85" y="436.00" font-size="10.90" text-anchor="middle" textLength="88.38" lengthAdjust="spacingAndGlyphs">Predictive power</text>
<text x="613.85" y="447.70" font-size="10.90" text-anchor="middle" textLength="58.12" lengthAdjust="spacingAndGlyphs">(Pearson <tspan font-style="italic">r</tspan>)</text>
<text x="420.30" y="214.00" font-size="12.13" text-anchor="middle" textLength="93.25" lengthAdjust="spacingAndGlyphs" transform="rotate(-90 420.30 214.00)">Model based on</text>
<rect x="559.7" y="513.0" width="23.0" height="22.4" fill="#a2dc98"/>
<ellipse cx="583.7" cy="524.2" rx="8.0" ry="3.4" fill="#000" opacity="0.10"/>
<path d="M577.7 524.2H589.7" stroke="#0a0a0a" stroke-width="1.65" stroke-linecap="round"/>
<text x="591.86" y="528.00" font-size="10.10" fill="#a2dc98" textLength="27.20" lengthAdjust="spacingAndGlyphs">0.124</text>
<rect x="559.7" y="541.0" width="50.2" height="22.4" fill="#4c9f40"/>
<ellipse cx="609.9" cy="552.2" rx="3.6" ry="3.6" fill="#000" opacity="0.12"/>
<ellipse cx="609.9" cy="552.2" rx="2.0" ry="3.0" fill="#0a0a0a"/>
<text x="619.09" y="556.05" font-size="10.10" fill="#4c9f40" textLength="27.20" lengthAdjust="spacingAndGlyphs">0.271</text>
<path d="M559.7 510.2V566.3H668.0" fill="none" stroke="#6a6a6a" stroke-width="1"/>
<text x="613.85" y="506.60" font-size="10.90" text-anchor="middle" textLength="87.33" lengthAdjust="spacingAndGlyphs">SpO2 max value</text>
<text x="555.50" y="528.00" font-size="10.90" text-anchor="end" textLength="81.26" lengthAdjust="spacingAndGlyphs">Age, BMI &amp; VAT</text>
<text x="552.13" y="551.05" font-size="10.90" text-anchor="end" textLength="73.00" lengthAdjust="spacingAndGlyphs">Age, BMI, VAT</text>
<text x="555.50" y="562.75" font-size="10.90" text-anchor="end" textLength="104.06" lengthAdjust="spacingAndGlyphs">&amp; Insulin resistance</text>
<rect x="559.7" y="597.6" width="24.3" height="22.4" fill="#eba1a6"/>
<ellipse cx="584.0" cy="608.8" rx="3.6" ry="3.6" fill="#000" opacity="0.12"/>
<ellipse cx="584.0" cy="608.8" rx="2.0" ry="3.0" fill="#0a0a0a"/>
<text x="593.16" y="612.60" font-size="10.10" fill="#eba1a6" textLength="27.20" lengthAdjust="spacingAndGlyphs">0.131</text>
<rect x="559.7" y="625.6" width="42.6" height="22.4" fill="#c23b44"/>
<ellipse cx="602.3" cy="636.8" rx="3.6" ry="3.6" fill="#000" opacity="0.12"/>
<ellipse cx="602.3" cy="636.8" rx="2.0" ry="3.0" fill="#0a0a0a"/>
<text x="611.50" y="640.65" font-size="10.10" fill="#c23b44" textLength="27.20" lengthAdjust="spacingAndGlyphs">0.230</text>
<path d="M559.7 594.8V650.9H668.0" fill="none" stroke="#6a6a6a" stroke-width="1"/>
<text x="613.85" y="591.20" font-size="10.90" text-anchor="middle" textLength="82.37" lengthAdjust="spacingAndGlyphs">total wake time</text>
<text x="555.50" y="612.60" font-size="10.90" text-anchor="end" textLength="81.26" lengthAdjust="spacingAndGlyphs">Age, BMI &amp; VAT</text>
<text x="552.13" y="635.65" font-size="10.90" text-anchor="end" textLength="73.00" lengthAdjust="spacingAndGlyphs">Age, BMI, VAT</text>
<text x="555.50" y="647.35" font-size="10.90" text-anchor="end" textLength="56.16" lengthAdjust="spacingAndGlyphs">&amp; Lifestyle</text>
<rect x="559.7" y="682.6" width="84.3" height="22.4" fill="#cdd394"/>
<ellipse cx="644.0" cy="693.8" rx="3.6" ry="3.6" fill="#000" opacity="0.12"/>
<ellipse cx="644.0" cy="693.8" rx="2.0" ry="3.0" fill="#0a0a0a"/>
<text x="653.17" y="697.60" font-size="10.10" fill="#cdd394" textLength="27.20" lengthAdjust="spacingAndGlyphs">0.455</text>
<rect x="559.7" y="710.6" width="88.5" height="22.4" fill="#a6b23e"/>
<ellipse cx="648.2" cy="721.8" rx="3.6" ry="3.6" fill="#000" opacity="0.12"/>
<ellipse cx="648.2" cy="721.8" rx="2.0" ry="3.0" fill="#0a0a0a"/>
<text x="657.43" y="725.65" font-size="10.10" fill="#a6b23e" textLength="27.20" lengthAdjust="spacingAndGlyphs">0.478</text>
<path d="M559.7 679.8V735.9H668.0" fill="none" stroke="#6a6a6a" stroke-width="1"/>
<text x="613.85" y="676.20" font-size="10.90" text-anchor="middle" textLength="25.38" lengthAdjust="spacingAndGlyphs">pRDI</text>
<text x="555.50" y="697.60" font-size="10.90" text-anchor="end" textLength="81.26" lengthAdjust="spacingAndGlyphs">Age, BMI &amp; VAT</text>
<text x="552.13" y="714.80" font-size="10.90" text-anchor="end" textLength="73.00" lengthAdjust="spacingAndGlyphs">Age, BMI, VAT</text>
<text x="555.50" y="726.50" font-size="10.90" text-anchor="end" textLength="90.50" lengthAdjust="spacingAndGlyphs">&amp; Cardiovascular</text>
<text x="555.50" y="738.20" font-size="10.90" text-anchor="end" textLength="38.32" lengthAdjust="spacingAndGlyphs">system</text>
<rect x="559.7" y="766.7" width="7.4" height="22.4" fill="#e8bd8b"/>
<ellipse cx="567.1" cy="777.9" rx="6.0" ry="3.4" fill="#000" opacity="0.10"/>
<path d="M563.1 777.9H571.1" stroke="#0a0a0a" stroke-width="2.10" stroke-linecap="round"/>
<text x="576.31" y="781.70" font-size="10.10" fill="#e8bd8b" textLength="27.20" lengthAdjust="spacingAndGlyphs">0.040</text>
<rect x="559.7" y="794.7" width="25.6" height="22.4" fill="#db8032"/>
<ellipse cx="584.8" cy="805.9" rx="7.5" ry="3.4" fill="#000" opacity="0.10"/>
<path d="M579.3 805.9H590.3" stroke="#0a0a0a" stroke-width="1.65" stroke-linecap="round"/>
<text x="594.46" y="809.75" font-size="10.10" fill="#db8032" textLength="27.20" lengthAdjust="spacingAndGlyphs">0.138</text>
<path d="M559.7 763.9V820.0H668.0" fill="none" stroke="#6a6a6a" stroke-width="1"/>
<text x="613.85" y="760.30" font-size="10.90" text-anchor="middle" textLength="82.37" lengthAdjust="spacingAndGlyphs">total wake time</text>
<text x="555.50" y="781.70" font-size="10.90" text-anchor="end" textLength="81.26" lengthAdjust="spacingAndGlyphs">Age, BMI &amp; VAT</text>
<text x="552.13" y="804.75" font-size="10.90" text-anchor="end" textLength="73.00" lengthAdjust="spacingAndGlyphs">Age, BMI, VAT</text>
<text x="555.50" y="816.45" font-size="10.90" text-anchor="end" textLength="72.73" lengthAdjust="spacingAndGlyphs">&amp; Blood lipids</text>
<rect x="559.7" y="851.3" width="10.2" height="22.4" fill="#c4b8da"/>
<ellipse cx="569.9" cy="862.5" rx="3.6" ry="3.6" fill="#000" opacity="0.12"/>
<ellipse cx="569.9" cy="862.5" rx="2.0" ry="3.0" fill="#0a0a0a"/>
<text x="579.09" y="866.30" font-size="10.10" fill="#c4b8da" textLength="27.20" lengthAdjust="spacingAndGlyphs">0.055</text>
<rect x="559.7" y="879.3" width="27.0" height="22.4" fill="#9172b5"/>
<ellipse cx="587.2" cy="890.5" rx="5.5" ry="3.4" fill="#000" opacity="0.10"/>
<path d="M583.7 890.5H590.7" stroke="#0a0a0a" stroke-width="2.47" stroke-linecap="round"/>
<text x="595.94" y="894.35" font-size="10.10" fill="#9172b5" textLength="27.20" lengthAdjust="spacingAndGlyphs">0.146</text>
<path d="M559.7 848.5V904.6H668.0" fill="none" stroke="#6a6a6a" stroke-width="1"/>
<text x="613.85" y="844.90" font-size="10.90" text-anchor="middle" textLength="65.52" lengthAdjust="spacingAndGlyphs">REM latency</text>
<text x="555.50" y="866.30" font-size="10.90" text-anchor="end" textLength="81.26" lengthAdjust="spacingAndGlyphs">Age, BMI &amp; VAT</text>
<text x="552.13" y="889.35" font-size="10.90" text-anchor="end" textLength="73.00" lengthAdjust="spacingAndGlyphs">Age, BMI, VAT</text>
<text x="555.50" y="901.05" font-size="10.90" text-anchor="end" textLength="84.54" lengthAdjust="spacingAndGlyphs">&amp; Mental health</text>
<text x="559.70" y="917.40" font-size="10.90" text-anchor="middle" textLength="16.86" lengthAdjust="spacingAndGlyphs">0.0</text>
<text x="652.30" y="917.40" font-size="10.90" text-anchor="middle" textLength="16.86" lengthAdjust="spacingAndGlyphs">0.5</text>
<text x="613.85" y="929.40" font-size="10.90" text-anchor="middle" textLength="88.38" lengthAdjust="spacingAndGlyphs">Predictive power</text>
<text x="613.85" y="941.10" font-size="10.90" text-anchor="middle" textLength="58.12" lengthAdjust="spacingAndGlyphs">(Pearson <tspan font-style="italic">r</tspan>)</text>
<text x="460.50" y="707.50" font-size="12.13" text-anchor="middle" textLength="93.25" lengthAdjust="spacingAndGlyphs" transform="rotate(-90 460.50 707.50)">Model based on</text>
</svg></body></html>
